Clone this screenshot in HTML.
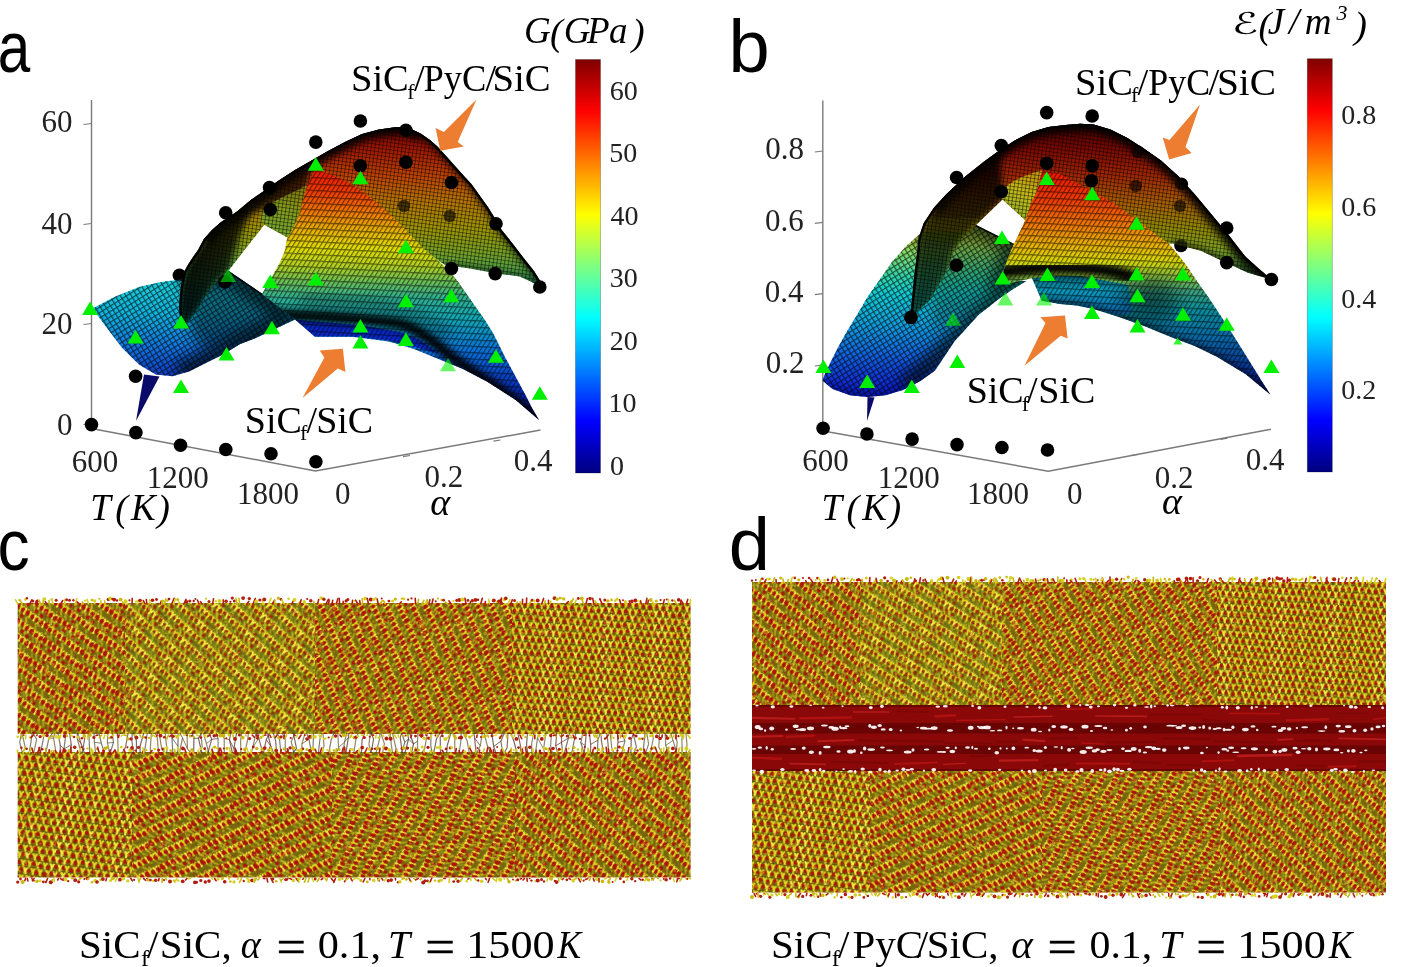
<!DOCTYPE html>
<html><head><meta charset="utf-8"><title>Figure</title>
<style>
html,body{margin:0;padding:0;background:#fff;}
body{width:1425px;height:967px;overflow:hidden;}
svg{display:block;}
.lab{font-family:"Liberation Sans",Arial,sans-serif;fill:#000;}
.num{font-family:"Liberation Serif","Times New Roman",serif;fill:#222;}
.txt{font-family:"Liberation Serif","Times New Roman",serif;fill:#000;}
.it{font-family:"Liberation Serif","Times New Roman",serif;font-style:italic;fill:#000;}
</style></head><body>
<svg width="1425" height="967" viewBox="0 0 1425 967">
<defs>
<pattern id="mesh" width="4.4" height="4.4" patternUnits="userSpaceOnUse"><path d="M0,0.5 H4.4 M0.5,0 V4.4" stroke="#000" stroke-opacity="0.45" stroke-width="1"/></pattern>
<pattern id="meshU" width="3.8" height="3.6" patternUnits="userSpaceOnUse" patternTransform="rotate(8)"><path d="M0,0.5 H3.8 M0.5,0 V3.6" stroke="#000" stroke-opacity="0.5" stroke-width="0.9"/></pattern>
<pattern id="meshL" width="4.6" height="6.2" patternUnits="userSpaceOnUse" patternTransform="skewX(-30) rotate(3)"><path d="M0,0.6 H4.6 M0.7,0 V6.2" stroke="#000" stroke-opacity="0.55" stroke-width="1.3"/></pattern>
<pattern id="meshW" width="4.6" height="4.6" patternUnits="userSpaceOnUse" patternTransform="rotate(-32)"><path d="M0,0.6 H4.6 M0.6,0 V4.6" stroke="#000" stroke-opacity="0.62" stroke-width="1.25"/></pattern>
<filter id="blur6" x="-20%" y="-20%" width="140%" height="140%"><feGaussianBlur stdDeviation="6"/></filter>
<filter id="blur3" x="-20%" y="-20%" width="140%" height="140%"><feGaussianBlur stdDeviation="3"/></filter>
<filter id="blur10" x="-20%" y="-20%" width="140%" height="140%"><feGaussianBlur stdDeviation="10"/></filter>
<linearGradient id="g_wing_a" gradientUnits="userSpaceOnUse" x1="0" y1="285" x2="0" y2="378"><stop offset="0" stop-color="#18d0e0"/><stop offset="0.3" stop-color="#10b8e0"/><stop offset="0.7" stop-color="#1070e0"/><stop offset="1" stop-color="#1038c0"/></linearGradient>
<clipPath id="cp_wing_a"><path d="M93.5,308.0 L113.7,297.2 L139.0,287.0 L160.8,282.0 L181.0,279.5 L205.0,274.0 L228.4,270.7 L262.5,294.0 L285.0,290.0 L305.0,300.0 L300.0,322.0 L295.0,319.5 L273.7,329.5 L256.8,337.6 L240.0,344.0 L223.0,354.4 L206.3,362.8 L189.5,371.3 L172.6,376.3 L155.8,374.6 L139.0,364.5 L122.0,347.7 L105.3,325.8 L93.5,310.0 Z"/></clipPath>
<linearGradient id="g_U_a" gradientUnits="userSpaceOnUse" x1="0" y1="125" x2="0" y2="330"><stop offset="0" stop-color="#700000"/><stop offset="0.12" stop-color="#a01800"/><stop offset="0.25" stop-color="#c04400"/><stop offset="0.37" stop-color="#b87400"/><stop offset="0.5" stop-color="#a09400"/><stop offset="0.62" stop-color="#78a024"/><stop offset="0.74" stop-color="#40a050"/><stop offset="0.86" stop-color="#108070"/><stop offset="1" stop-color="#005a5a"/></linearGradient>
<linearGradient id="g_band_a" gradientUnits="userSpaceOnUse" x1="190" y1="240" x2="240" y2="270"><stop offset="0" stop-color="#000" stop-opacity="0.95"/><stop offset="1" stop-color="#000" stop-opacity="0.68"/></linearGradient>
<linearGradient id="g_strip_a" gradientUnits="userSpaceOnUse" x1="290" y1="190" x2="270" y2="235"><stop offset="0" stop-color="#8a8a10"/><stop offset="0.4" stop-color="#80a020"/><stop offset="1" stop-color="#70a838"/></linearGradient>
<clipPath id="cp_U_a"><path d="M181.0,327.0 L179.4,312.0 L179.4,300.5 L181.0,285.0 L184.0,272.0 L187.8,265.0 L193.0,257.0 L198.0,250.0 L203.7,239.3 L212.0,230.0 L220.5,222.5 L237.4,211.2 L250.8,200.0 L264.0,191.0 L278.0,181.0 L295.0,170.0 L311.6,160.6 L328.0,151.0 L345.0,142.0 L362.0,134.0 L379.0,129.5 L395.0,127.3 L404.0,127.3 L412.0,129.5 L421.0,133.7 L430.0,140.0 L437.9,147.0 L446.0,156.0 L454.7,165.7 L463.0,175.0 L471.6,184.2 L480.0,196.0 L488.4,207.8 L495.0,218.5 L501.7,230.0 L511.7,242.4 L524.0,258.5 L534.0,271.0 L540.2,281.0 L540.2,286.0 L520.0,276.5 L494.5,273.0 L470.0,268.5 L453.0,266.0 L445.0,265.0 L420.1,248.2 L404.4,231.4 L393.3,220.2 L382.1,210.3 L369.7,199.1 L357.3,190.4 L343.6,181.8 L328.8,175.5 L314.8,173.0 L308.5,187.6 L300.0,218.0 L293.0,232.0 L289.3,238.6 L264.3,224.7 L228.4,270.7 L214.7,283.7 L205.0,297.0 L198.0,309.0 L190.0,320.0 L183.0,327.0 Z"/></clipPath>
<linearGradient id="g_Lf_a" gradientUnits="userSpaceOnUse" x1="0" y1="168" x2="0" y2="412"><stop offset="0" stop-color="#ee1400"/><stop offset="0.1" stop-color="#f03c00"/><stop offset="0.18" stop-color="#f07800"/><stop offset="0.255" stop-color="#e8b000"/><stop offset="0.33" stop-color="#e0dc00"/><stop offset="0.4" stop-color="#b4d020"/><stop offset="0.46" stop-color="#70c050"/><stop offset="0.53" stop-color="#30b090"/><stop offset="0.62" stop-color="#10a8b8"/><stop offset="0.75" stop-color="#0870d8"/><stop offset="0.88" stop-color="#0838c0"/><stop offset="1" stop-color="#001090"/></linearGradient>
<clipPath id="cp_Lf_a"><path d="M314.8,169.8 L331.0,174.7 L345.8,181.0 L359.5,189.6 L371.9,198.3 L384.3,209.5 L395.5,219.4 L406.6,230.6 L422.3,247.4 L437.2,259.8 L449.6,271.0 L458.3,282.1 L467.0,294.5 L475.7,306.9 L484.4,319.3 L493.0,333.0 L499.3,345.4 L505.3,357.8 L512.0,370.0 L519.0,383.0 L526.0,396.0 L532.0,408.0 L539.0,420.0 L515.8,400.0 L486.9,381.4 L463.0,369.0 L443.4,361.0 L414.0,349.0 L389.0,341.5 L352.0,336.8 L314.8,336.8 L295.0,319.5 L262.0,294.0 L270.0,280.0 L279.6,263.0 L284.6,251.6 L287.3,237.6 L291.0,232.0 L298.0,218.0 L306.5,187.6 Z"/></clipPath>
<linearGradient id="jet_a" gradientUnits="userSpaceOnUse" x1="0" y1="473" x2="0" y2="59.5"><stop offset="0" stop-color="#00007f"/><stop offset="0.125" stop-color="#0000ff"/><stop offset="0.375" stop-color="#00ffff"/><stop offset="0.625" stop-color="#ffff00"/><stop offset="0.875" stop-color="#ff0000"/><stop offset="1" stop-color="#7f0000"/></linearGradient>
<linearGradient id="g_wing_b" gradientUnits="userSpaceOnUse" x1="0" y1="235" x2="0" y2="398"><stop offset="0" stop-color="#c8e040"/><stop offset="0.12" stop-color="#80dc70"/><stop offset="0.26" stop-color="#30d8b0"/><stop offset="0.36" stop-color="#10d0d8"/><stop offset="0.55" stop-color="#10a0e0"/><stop offset="0.75" stop-color="#1060e0"/><stop offset="0.9" stop-color="#1030d8"/><stop offset="1" stop-color="#0818b0"/></linearGradient>
<clipPath id="cp_wing_b"><path d="M822.9,379.4 L825.5,372.4 L830.8,361.8 L837.8,347.8 L846.6,332.0 L857.2,314.4 L867.7,296.8 L880.0,279.2 L892.3,261.6 L906.4,245.8 L920.4,233.5 L945.0,230.0 L976.0,225.0 L1014.0,244.0 L1008.0,258.6 L1003.9,269.8 L1001.0,281.0 L1026.3,281.0 L1012.3,289.5 L998.2,299.3 L988.4,307.3 L978.6,314.7 L971.6,322.4 L954.7,341.0 L935.0,370.6 L920.4,381.1 L902.9,390.0 L885.3,395.2 L867.7,397.0 L850.1,395.2 L832.6,389.0 L822.9,381.1 Z"/></clipPath>
<linearGradient id="g_U_b" gradientUnits="userSpaceOnUse" x1="0" y1="123" x2="0" y2="320"><stop offset="0" stop-color="#400000"/><stop offset="0.13" stop-color="#7a0800"/><stop offset="0.26" stop-color="#a02400"/><stop offset="0.4" stop-color="#a85c00"/><stop offset="0.52" stop-color="#948400"/><stop offset="0.64" stop-color="#80a020"/><stop offset="0.78" stop-color="#40904a"/><stop offset="1" stop-color="#0a5a50"/></linearGradient>
<linearGradient id="g_band_b" gradientUnits="userSpaceOnUse" x1="0" y1="150" x2="0" y2="318"><stop offset="0" stop-color="#000" stop-opacity="0.85"/><stop offset="0.45" stop-color="#0a0a00" stop-opacity="0.72"/><stop offset="1" stop-color="#003838" stop-opacity="0.7"/></linearGradient>
<linearGradient id="g_strip_b" gradientUnits="userSpaceOnUse" x1="1030" y1="175" x2="1010" y2="215"><stop offset="0" stop-color="#c8a010"/><stop offset="0.4" stop-color="#c8c018"/><stop offset="1" stop-color="#98b828"/></linearGradient>
<clipPath id="cp_U_b"><path d="M910.0,318.0 L911.8,300.5 L914.3,275.3 L917.3,251.0 L918.5,238.4 L923.6,223.3 L933.7,208.1 L946.3,194.2 L965.3,176.5 L984.2,161.4 L1000.0,150.0 L1014.7,140.4 L1031.6,132.0 L1048.4,127.0 L1065.3,125.0 L1080.0,123.8 L1093.7,124.4 L1110.5,129.5 L1127.4,137.9 L1144.2,148.8 L1161.0,160.6 L1177.9,175.8 L1194.7,194.3 L1211.6,214.5 L1228.4,234.7 L1245.3,256.6 L1258.0,268.0 L1271.4,279.5 L1247.4,272.6 L1224.0,261.7 L1200.8,250.8 L1180.7,245.4 L1172.0,243.5 L1166.1,243.8 L1157.8,238.3 L1146.8,229.8 L1128.8,216.0 L1108.3,201.8 L1083.1,188.4 L1057.8,174.8 L1042.5,174.0 L1040.0,185.0 L1038.6,192.6 L1034.0,201.0 L1027.0,221.7 L1002.5,199.6 L976.0,225.0 L962.7,238.4 L953.9,251.0 L946.3,272.0 L929.5,300.5 L910.0,318.0 Z"/></clipPath>
<linearGradient id="g_Lf_b" gradientUnits="userSpaceOnUse" x1="0" y1="171" x2="0" y2="395"><stop offset="0" stop-color="#ee1400"/><stop offset="0.13" stop-color="#f03c00"/><stop offset="0.24" stop-color="#f07800"/><stop offset="0.33" stop-color="#e8b000"/><stop offset="0.4" stop-color="#d8d400"/><stop offset="0.47" stop-color="#90c840"/><stop offset="0.54" stop-color="#38a080"/><stop offset="0.62" stop-color="#088e9c"/><stop offset="0.76" stop-color="#0864a8"/><stop offset="0.9" stop-color="#082c90"/><stop offset="1" stop-color="#000a60"/></linearGradient>
<linearGradient id="g_tun_b" gradientUnits="userSpaceOnUse" x1="0" y1="275" x2="0" y2="312"><stop offset="0" stop-color="#006070"/><stop offset="0.4" stop-color="#0898b8"/><stop offset="1" stop-color="#0a70b8"/></linearGradient>
<clipPath id="cp_Lf_b"><path d="M1042.0,171.0 L1060.0,174.0 L1085.3,187.6 L1110.5,201.0 L1131.0,215.2 L1149.0,229.0 L1160.0,237.5 L1168.3,243.0 L1180.0,257.0 L1187.0,266.3 L1197.0,281.0 L1208.6,297.4 L1228.4,327.5 L1245.3,354.4 L1262.0,381.4 L1270.5,394.8 L1245.8,374.2 L1216.9,356.8 L1194.7,346.0 L1173.4,338.0 L1144.2,326.0 L1119.0,317.0 L1093.7,309.0 L1076.8,305.6 L1060.0,303.9 L1041.8,300.7 L1032.0,278.2 L1006.7,283.9 L1001.0,281.0 L1003.9,269.8 L1008.0,258.6 L1014.0,244.0 L1016.5,239.0 L1025.0,220.7 L1032.0,201.0 L1036.6,192.6 Z"/></clipPath>
<linearGradient id="jet_b" gradientUnits="userSpaceOnUse" x1="0" y1="472" x2="0" y2="58.7"><stop offset="0" stop-color="#00007f"/><stop offset="0.125" stop-color="#0000ff"/><stop offset="0.375" stop-color="#00ffff"/><stop offset="0.625" stop-color="#ffff00"/><stop offset="0.875" stop-color="#ff0000"/><stop offset="1" stop-color="#7f0000"/></linearGradient>
<pattern id="tS" width="44.80" height="25.00" patternUnits="userSpaceOnUse" patternTransform="translate(0,0) rotate(0) scale(1.0,1)"><rect width="44.80" height="25.00" fill="#7a6c10"/><rect y="11.25" width="44.80" height="2.25" fill="#786408"/><rect y="23.75" width="44.80" height="2.25" fill="#786408"/><line x1="-0.0" y1="-2.2" x2="2.8" y2="1.0" stroke="#b8b01c" stroke-width="2.1" stroke-linecap="round"/><circle cx="4.2" cy="-0.3" r="1.8" fill="#a81808"/><line x1="-1.1" y1="3.6" x2="-2.7" y2="6.5" stroke="#f4ee40" stroke-width="2.1" stroke-linecap="round"/><line x1="-2.7" y1="6.5" x2="-3.0" y2="9.1" stroke="#f4ee40" stroke-width="2.1" stroke-linecap="round"/><line x1="-3.6" y1="16.1" x2="-5.2" y2="18.9" stroke="#e0d820" stroke-width="2.1" stroke-linecap="round"/><circle cx="-2.7" cy="19.4" r="2.5" fill="#a81808"/><line x1="-1.2" y1="16.1" x2="0.4" y2="18.9" stroke="#f4ee40" stroke-width="2.1" stroke-linecap="round"/><line x1="2.0" y1="16.1" x2="0.4" y2="18.9" stroke="#f4ee40" stroke-width="2.1" stroke-linecap="round"/><line x1="0.4" y1="18.9" x2="0.2" y2="21.6" stroke="#f4ee40" stroke-width="2.1" stroke-linecap="round"/><line x1="-0.0" y1="22.8" x2="2.8" y2="26.0" stroke="#b8b01c" stroke-width="2.1" stroke-linecap="round"/><circle cx="4.2" cy="24.7" r="1.8" fill="#a81808"/><line x1="-1.1" y1="28.6" x2="-2.7" y2="31.4" stroke="#f4ee40" stroke-width="2.1" stroke-linecap="round"/><line x1="3.5" y1="-1.9" x2="6.3" y2="1.3" stroke="#a8a018" stroke-width="2.1" stroke-linecap="round"/><circle cx="7.7" cy="0.0" r="1.8" fill="#a81808"/><line x1="12.5" y1="-2.2" x2="15.3" y2="1.0" stroke="#969014" stroke-width="2.1" stroke-linecap="round"/><circle cx="16.7" cy="-1.0" r="2.2" fill="#a81808"/><line x1="20.1" y1="-2.2" x2="22.9" y2="1.0" stroke="#969014" stroke-width="2.1" stroke-linecap="round"/><line x1="23.9" y1="-2.2" x2="26.7" y2="1.0" stroke="#b8b01c" stroke-width="2.1" stroke-linecap="round"/><circle cx="28.1" cy="-0.3" r="2.1" fill="#a81808"/><line x1="30.7" y1="-1.2" x2="33.5" y2="2.0" stroke="#969014" stroke-width="2.1" stroke-linecap="round"/><circle cx="34.9" cy="1.1" r="2.1" fill="#a81808"/><line x1="40.3" y1="-1.3" x2="43.1" y2="1.9" stroke="#969014" stroke-width="2.1" stroke-linecap="round"/><line x1="44.8" y1="-2.2" x2="47.6" y2="1.0" stroke="#b8b01c" stroke-width="2.1" stroke-linecap="round"/><circle cx="0.1" cy="5.6" r="3.2" fill="#a81808"/><line x1="1.6" y1="3.6" x2="3.2" y2="6.5" stroke="#e0d820" stroke-width="2.1" stroke-linecap="round"/><line x1="4.8" y1="3.6" x2="3.2" y2="6.5" stroke="#e0d820" stroke-width="2.1" stroke-linecap="round"/><line x1="3.2" y1="6.5" x2="2.7" y2="9.1" stroke="#e0d820" stroke-width="2.1" stroke-linecap="round"/><line x1="3.7" y1="11.1" x2="6.5" y2="14.3" stroke="#969014" stroke-width="2.1" stroke-linecap="round"/><circle cx="5.3" cy="7.2" r="2.5" fill="#a81808"/><line x1="6.5" y1="3.6" x2="8.1" y2="6.5" stroke="#e0d820" stroke-width="2.1" stroke-linecap="round"/><line x1="9.7" y1="3.6" x2="8.1" y2="6.5" stroke="#e0d820" stroke-width="2.1" stroke-linecap="round"/><line x1="8.1" y1="6.5" x2="8.0" y2="9.1" stroke="#e0d820" stroke-width="2.1" stroke-linecap="round"/><line x1="8.6" y1="10.4" x2="11.4" y2="13.6" stroke="#a8a018" stroke-width="2.1" stroke-linecap="round"/><circle cx="11.1" cy="5.7" r="2.8" fill="#a81808"/><line x1="12.2" y1="3.6" x2="13.8" y2="6.5" stroke="#e0d820" stroke-width="2.1" stroke-linecap="round"/><line x1="15.4" y1="3.6" x2="13.8" y2="6.5" stroke="#e0d820" stroke-width="2.1" stroke-linecap="round"/><line x1="13.8" y1="6.5" x2="14.0" y2="9.1" stroke="#e0d820" stroke-width="2.1" stroke-linecap="round"/><line x1="14.6" y1="10.6" x2="17.4" y2="13.8" stroke="#969014" stroke-width="2.1" stroke-linecap="round"/><circle cx="18.8" cy="12.0" r="1.9" fill="#a81808"/><circle cx="16.7" cy="6.6" r="2.5" fill="#a81808"/><line x1="18.0" y1="3.6" x2="19.6" y2="6.5" stroke="#f4ee40" stroke-width="2.1" stroke-linecap="round"/><line x1="21.2" y1="3.6" x2="19.6" y2="6.5" stroke="#f4ee40" stroke-width="2.1" stroke-linecap="round"/><line x1="19.6" y1="6.5" x2="19.1" y2="9.1" stroke="#f4ee40" stroke-width="2.1" stroke-linecap="round"/><circle cx="22.2" cy="6.0" r="2.7" fill="#a81808"/><line x1="23.9" y1="3.6" x2="25.5" y2="6.5" stroke="#e0d820" stroke-width="2.1" stroke-linecap="round"/><line x1="27.1" y1="3.6" x2="25.5" y2="6.5" stroke="#e0d820" stroke-width="2.1" stroke-linecap="round"/><line x1="25.5" y1="6.5" x2="25.4" y2="9.1" stroke="#e0d820" stroke-width="2.1" stroke-linecap="round"/><line x1="23.3" y1="11.3" x2="26.1" y2="14.5" stroke="#b8b01c" stroke-width="2.1" stroke-linecap="round"/><circle cx="28.5" cy="6.4" r="2.6" fill="#a81808"/><line x1="29.5" y1="3.6" x2="31.1" y2="6.5" stroke="#f4ee40" stroke-width="2.1" stroke-linecap="round"/><line x1="32.7" y1="3.6" x2="31.1" y2="6.5" stroke="#f4ee40" stroke-width="2.1" stroke-linecap="round"/><line x1="31.1" y1="6.5" x2="30.9" y2="9.1" stroke="#f4ee40" stroke-width="2.1" stroke-linecap="round"/><circle cx="33.8" cy="6.6" r="2.5" fill="#a81808"/><line x1="34.4" y1="3.6" x2="36.0" y2="6.5" stroke="#e0d820" stroke-width="2.1" stroke-linecap="round"/><line x1="37.6" y1="3.6" x2="36.0" y2="6.5" stroke="#e0d820" stroke-width="2.1" stroke-linecap="round"/><line x1="36.0" y1="6.5" x2="36.1" y2="9.1" stroke="#e0d820" stroke-width="2.1" stroke-linecap="round"/><line x1="34.7" y1="11.2" x2="37.5" y2="14.4" stroke="#a8a018" stroke-width="2.1" stroke-linecap="round"/><circle cx="39.3" cy="6.5" r="2.8" fill="#a81808"/><line x1="40.5" y1="3.6" x2="42.1" y2="6.5" stroke="#f4ee40" stroke-width="2.1" stroke-linecap="round"/><line x1="43.7" y1="3.6" x2="42.1" y2="6.5" stroke="#f4ee40" stroke-width="2.1" stroke-linecap="round"/><line x1="42.1" y1="6.5" x2="41.8" y2="9.1" stroke="#f4ee40" stroke-width="2.1" stroke-linecap="round"/><circle cx="3.1" cy="19.5" r="2.8" fill="#a81808"/><line x1="4.4" y1="16.1" x2="6.0" y2="18.9" stroke="#e0d820" stroke-width="2.1" stroke-linecap="round"/><line x1="7.6" y1="16.1" x2="6.0" y2="18.9" stroke="#e0d820" stroke-width="2.1" stroke-linecap="round"/><line x1="6.0" y1="18.9" x2="5.5" y2="21.6" stroke="#e0d820" stroke-width="2.1" stroke-linecap="round"/><line x1="3.5" y1="23.1" x2="6.3" y2="26.3" stroke="#a8a018" stroke-width="2.1" stroke-linecap="round"/><circle cx="7.7" cy="25.0" r="1.8" fill="#a81808"/><circle cx="7.9" cy="18.3" r="3.1" fill="#a81808"/><line x1="9.2" y1="16.1" x2="10.8" y2="18.9" stroke="#e0d820" stroke-width="2.1" stroke-linecap="round"/><line x1="12.4" y1="16.1" x2="10.8" y2="18.9" stroke="#e0d820" stroke-width="2.1" stroke-linecap="round"/><line x1="10.8" y1="18.9" x2="10.5" y2="21.6" stroke="#e0d820" stroke-width="2.1" stroke-linecap="round"/><line x1="12.5" y1="22.8" x2="15.3" y2="26.0" stroke="#969014" stroke-width="2.1" stroke-linecap="round"/><circle cx="16.7" cy="24.0" r="2.2" fill="#a81808"/><circle cx="13.6" cy="17.8" r="2.8" fill="#a81808"/><line x1="15.3" y1="16.1" x2="16.9" y2="18.9" stroke="#f4ee40" stroke-width="2.1" stroke-linecap="round"/><line x1="18.5" y1="16.1" x2="16.9" y2="18.9" stroke="#f4ee40" stroke-width="2.1" stroke-linecap="round"/><line x1="16.9" y1="18.9" x2="17.0" y2="21.6" stroke="#f4ee40" stroke-width="2.1" stroke-linecap="round"/><circle cx="19.3" cy="18.3" r="3.0" fill="#a81808"/><line x1="20.9" y1="16.1" x2="22.5" y2="18.9" stroke="#f4ee40" stroke-width="2.1" stroke-linecap="round"/><line x1="24.1" y1="16.1" x2="22.5" y2="18.9" stroke="#f4ee40" stroke-width="2.1" stroke-linecap="round"/><line x1="22.5" y1="18.9" x2="22.2" y2="21.6" stroke="#f4ee40" stroke-width="2.1" stroke-linecap="round"/><line x1="20.1" y1="22.8" x2="22.9" y2="26.0" stroke="#969014" stroke-width="2.1" stroke-linecap="round"/><circle cx="25.1" cy="17.9" r="2.7" fill="#a81808"/><line x1="26.0" y1="16.1" x2="27.6" y2="18.9" stroke="#e0d820" stroke-width="2.1" stroke-linecap="round"/><line x1="29.2" y1="16.1" x2="27.6" y2="18.9" stroke="#e0d820" stroke-width="2.1" stroke-linecap="round"/><line x1="27.6" y1="18.9" x2="27.8" y2="21.6" stroke="#e0d820" stroke-width="2.1" stroke-linecap="round"/><line x1="23.9" y1="22.8" x2="26.7" y2="26.0" stroke="#b8b01c" stroke-width="2.1" stroke-linecap="round"/><circle cx="28.1" cy="24.7" r="2.1" fill="#a81808"/><circle cx="30.8" cy="19.0" r="2.6" fill="#a81808"/><line x1="32.0" y1="16.1" x2="33.6" y2="18.9" stroke="#f4ee40" stroke-width="2.1" stroke-linecap="round"/><line x1="35.2" y1="16.1" x2="33.6" y2="18.9" stroke="#f4ee40" stroke-width="2.1" stroke-linecap="round"/><line x1="33.6" y1="18.9" x2="33.3" y2="21.6" stroke="#f4ee40" stroke-width="2.1" stroke-linecap="round"/><line x1="30.7" y1="23.8" x2="33.5" y2="27.0" stroke="#969014" stroke-width="2.1" stroke-linecap="round"/><circle cx="34.9" cy="26.1" r="2.1" fill="#a81808"/><circle cx="36.1" cy="18.9" r="2.7" fill="#a81808"/><line x1="38.0" y1="16.1" x2="39.6" y2="18.9" stroke="#e0d820" stroke-width="2.1" stroke-linecap="round"/><line x1="41.2" y1="16.1" x2="39.6" y2="18.9" stroke="#e0d820" stroke-width="2.1" stroke-linecap="round"/><line x1="39.6" y1="18.9" x2="39.8" y2="21.6" stroke="#e0d820" stroke-width="2.1" stroke-linecap="round"/><line x1="40.3" y1="23.7" x2="43.1" y2="26.9" stroke="#969014" stroke-width="2.1" stroke-linecap="round"/><circle cx="42.1" cy="19.4" r="2.5" fill="#a81808"/><line x1="43.6" y1="16.1" x2="45.2" y2="18.9" stroke="#f4ee40" stroke-width="2.1" stroke-linecap="round"/><line x1="46.8" y1="16.1" x2="45.2" y2="18.9" stroke="#f4ee40" stroke-width="2.1" stroke-linecap="round"/><line x1="45.2" y1="18.9" x2="45.0" y2="21.6" stroke="#f4ee40" stroke-width="2.1" stroke-linecap="round"/><line x1="44.8" y1="22.8" x2="47.6" y2="26.0" stroke="#b8b01c" stroke-width="2.1" stroke-linecap="round"/><line x1="1.6" y1="28.6" x2="3.2" y2="31.4" stroke="#e0d820" stroke-width="2.1" stroke-linecap="round"/><line x1="4.8" y1="28.6" x2="3.2" y2="31.4" stroke="#e0d820" stroke-width="2.1" stroke-linecap="round"/><line x1="6.5" y1="28.6" x2="8.1" y2="31.4" stroke="#e0d820" stroke-width="2.1" stroke-linecap="round"/><line x1="9.7" y1="28.6" x2="8.1" y2="31.4" stroke="#e0d820" stroke-width="2.1" stroke-linecap="round"/><line x1="12.2" y1="28.6" x2="13.8" y2="31.4" stroke="#e0d820" stroke-width="2.1" stroke-linecap="round"/><line x1="15.4" y1="28.6" x2="13.8" y2="31.4" stroke="#e0d820" stroke-width="2.1" stroke-linecap="round"/><line x1="18.0" y1="28.6" x2="19.6" y2="31.4" stroke="#f4ee40" stroke-width="2.1" stroke-linecap="round"/><line x1="21.2" y1="28.6" x2="19.6" y2="31.4" stroke="#f4ee40" stroke-width="2.1" stroke-linecap="round"/><line x1="23.9" y1="28.6" x2="25.5" y2="31.4" stroke="#e0d820" stroke-width="2.1" stroke-linecap="round"/><line x1="27.1" y1="28.6" x2="25.5" y2="31.4" stroke="#e0d820" stroke-width="2.1" stroke-linecap="round"/><line x1="29.5" y1="28.6" x2="31.1" y2="31.4" stroke="#f4ee40" stroke-width="2.1" stroke-linecap="round"/><line x1="32.7" y1="28.6" x2="31.1" y2="31.4" stroke="#f4ee40" stroke-width="2.1" stroke-linecap="round"/><line x1="34.4" y1="28.6" x2="36.0" y2="31.4" stroke="#e0d820" stroke-width="2.1" stroke-linecap="round"/><line x1="37.6" y1="28.6" x2="36.0" y2="31.4" stroke="#e0d820" stroke-width="2.1" stroke-linecap="round"/><line x1="40.5" y1="28.6" x2="42.1" y2="31.4" stroke="#f4ee40" stroke-width="2.1" stroke-linecap="round"/><line x1="43.7" y1="28.6" x2="42.1" y2="31.4" stroke="#f4ee40" stroke-width="2.1" stroke-linecap="round"/><line x1="48.3" y1="-1.9" x2="51.1" y2="1.3" stroke="#a8a018" stroke-width="2.1" stroke-linecap="round"/><circle cx="44.9" cy="5.6" r="3.2" fill="#a81808"/><line x1="46.4" y1="3.6" x2="48.0" y2="6.5" stroke="#e0d820" stroke-width="2.1" stroke-linecap="round"/><line x1="48.0" y1="6.5" x2="47.5" y2="9.1" stroke="#e0d820" stroke-width="2.1" stroke-linecap="round"/><line x1="48.5" y1="11.1" x2="51.3" y2="14.3" stroke="#969014" stroke-width="2.1" stroke-linecap="round"/><circle cx="47.9" cy="19.5" r="2.8" fill="#a81808"/><line x1="48.3" y1="23.1" x2="51.1" y2="26.3" stroke="#a8a018" stroke-width="2.1" stroke-linecap="round"/><line x1="46.4" y1="28.6" x2="48.0" y2="31.4" stroke="#e0d820" stroke-width="2.1" stroke-linecap="round"/></pattern>
<pattern id="tS2" width="44.80" height="25.00" patternUnits="userSpaceOnUse" patternTransform="translate(0,0) rotate(0) scale(1.0,1)"><rect width="44.80" height="25.00" fill="#7c7a14"/><rect y="11.25" width="44.80" height="2.25" fill="#6a6a10"/><rect y="23.75" width="44.80" height="2.25" fill="#6a6a10"/><circle cx="-1.5" cy="0.1" r="1.8" fill="#983008"/><line x1="-0.3" y1="-1.3" x2="2.5" y2="1.9" stroke="#969014" stroke-width="2.1" stroke-linecap="round"/><circle cx="3.9" cy="-0.3" r="2.2" fill="#983008"/><line x1="-3.9" y1="3.6" x2="-2.3" y2="6.5" stroke="#e0d820" stroke-width="2.1" stroke-linecap="round"/><line x1="-0.7" y1="3.6" x2="-2.3" y2="6.5" stroke="#e0d820" stroke-width="2.1" stroke-linecap="round"/><line x1="-2.3" y1="6.5" x2="-1.8" y2="9.1" stroke="#e0d820" stroke-width="2.1" stroke-linecap="round"/><line x1="-3.9" y1="11.5" x2="-1.1" y2="14.7" stroke="#b8b01c" stroke-width="2.1" stroke-linecap="round"/><circle cx="0.3" cy="12.5" r="1.6" fill="#983008"/><line x1="-3.7" y1="16.1" x2="-5.3" y2="18.9" stroke="#e0d820" stroke-width="2.1" stroke-linecap="round"/><circle cx="-1.5" cy="25.1" r="1.8" fill="#983008"/><circle cx="-3.1" cy="19.6" r="2.3" fill="#983008"/><line x1="-1.8" y1="16.1" x2="-0.2" y2="18.9" stroke="#e0d820" stroke-width="2.1" stroke-linecap="round"/><line x1="1.4" y1="16.1" x2="-0.2" y2="18.9" stroke="#e0d820" stroke-width="2.1" stroke-linecap="round"/><line x1="-0.2" y1="18.9" x2="0.3" y2="21.6" stroke="#e0d820" stroke-width="2.1" stroke-linecap="round"/><line x1="-0.3" y1="23.7" x2="2.5" y2="26.9" stroke="#969014" stroke-width="2.1" stroke-linecap="round"/><circle cx="3.9" cy="24.7" r="2.2" fill="#983008"/><line x1="-3.9" y1="28.6" x2="-2.3" y2="31.4" stroke="#e0d820" stroke-width="2.1" stroke-linecap="round"/><line x1="-0.7" y1="28.6" x2="-2.3" y2="31.4" stroke="#e0d820" stroke-width="2.1" stroke-linecap="round"/><line x1="5.9" y1="-2.1" x2="8.7" y2="1.1" stroke="#b8b01c" stroke-width="2.1" stroke-linecap="round"/><circle cx="10.1" cy="-1.2" r="2.0" fill="#983008"/><line x1="12.4" y1="-1.7" x2="15.2" y2="1.5" stroke="#b8b01c" stroke-width="2.1" stroke-linecap="round"/><circle cx="16.6" cy="-0.3" r="1.7" fill="#983008"/><line x1="13.9" y1="-1.4" x2="16.7" y2="1.8" stroke="#b8b01c" stroke-width="2.1" stroke-linecap="round"/><circle cx="18.1" cy="-0.5" r="2.2" fill="#983008"/><line x1="21.4" y1="-1.0" x2="24.2" y2="2.2" stroke="#969014" stroke-width="2.1" stroke-linecap="round"/><line x1="26.9" y1="-1.8" x2="29.7" y2="1.4" stroke="#969014" stroke-width="2.1" stroke-linecap="round"/><line x1="33.9" y1="-1.0" x2="36.7" y2="2.2" stroke="#969014" stroke-width="2.1" stroke-linecap="round"/><line x1="39.1" y1="-0.8" x2="41.9" y2="2.4" stroke="#b8b01c" stroke-width="2.1" stroke-linecap="round"/><circle cx="43.3" cy="0.1" r="1.8" fill="#983008"/><line x1="44.5" y1="-1.3" x2="47.3" y2="1.9" stroke="#969014" stroke-width="2.1" stroke-linecap="round"/><circle cx="48.7" cy="-0.3" r="2.2" fill="#983008"/><circle cx="0.3" cy="6.5" r="2.0" fill="#983008"/><line x1="0.9" y1="3.6" x2="2.5" y2="6.5" stroke="#f4ee40" stroke-width="2.1" stroke-linecap="round"/><line x1="4.1" y1="3.6" x2="2.5" y2="6.5" stroke="#f4ee40" stroke-width="2.1" stroke-linecap="round"/><line x1="2.5" y1="6.5" x2="2.4" y2="9.1" stroke="#f4ee40" stroke-width="2.1" stroke-linecap="round"/><line x1="1.1" y1="10.8" x2="3.9" y2="14.0" stroke="#b8b01c" stroke-width="2.1" stroke-linecap="round"/><circle cx="5.3" cy="12.0" r="2.0" fill="#983008"/><circle cx="5.9" cy="6.5" r="1.9" fill="#983008"/><line x1="6.7" y1="3.6" x2="8.3" y2="6.5" stroke="#e0d820" stroke-width="2.1" stroke-linecap="round"/><line x1="9.9" y1="3.6" x2="8.3" y2="6.5" stroke="#e0d820" stroke-width="2.1" stroke-linecap="round"/><line x1="8.3" y1="6.5" x2="7.9" y2="9.1" stroke="#e0d820" stroke-width="2.1" stroke-linecap="round"/><line x1="8.2" y1="11.2" x2="11.0" y2="14.4" stroke="#a8a018" stroke-width="2.1" stroke-linecap="round"/><circle cx="12.4" cy="13.2" r="1.9" fill="#983008"/><circle cx="11.6" cy="6.2" r="2.4" fill="#983008"/><line x1="12.8" y1="3.6" x2="14.4" y2="6.5" stroke="#e0d820" stroke-width="2.1" stroke-linecap="round"/><line x1="16.0" y1="3.6" x2="14.4" y2="6.5" stroke="#e0d820" stroke-width="2.1" stroke-linecap="round"/><line x1="14.4" y1="6.5" x2="14.9" y2="9.1" stroke="#e0d820" stroke-width="2.1" stroke-linecap="round"/><circle cx="16.2" cy="5.8" r="1.9" fill="#983008"/><line x1="18.4" y1="3.6" x2="20.0" y2="6.5" stroke="#e0d820" stroke-width="2.1" stroke-linecap="round"/><line x1="21.6" y1="3.6" x2="20.0" y2="6.5" stroke="#e0d820" stroke-width="2.1" stroke-linecap="round"/><line x1="20.0" y1="6.5" x2="19.8" y2="9.1" stroke="#e0d820" stroke-width="2.1" stroke-linecap="round"/><circle cx="22.6" cy="6.6" r="2.1" fill="#983008"/><line x1="23.3" y1="3.6" x2="24.9" y2="6.5" stroke="#f4ee40" stroke-width="2.1" stroke-linecap="round"/><line x1="26.5" y1="3.6" x2="24.9" y2="6.5" stroke="#f4ee40" stroke-width="2.1" stroke-linecap="round"/><line x1="24.9" y1="6.5" x2="24.8" y2="9.1" stroke="#f4ee40" stroke-width="2.1" stroke-linecap="round"/><line x1="23.6" y1="10.6" x2="26.4" y2="13.8" stroke="#a8a018" stroke-width="2.1" stroke-linecap="round"/><circle cx="28.3" cy="6.5" r="2.3" fill="#983008"/><line x1="29.1" y1="3.6" x2="30.7" y2="6.5" stroke="#f4ee40" stroke-width="2.1" stroke-linecap="round"/><line x1="32.3" y1="3.6" x2="30.7" y2="6.5" stroke="#f4ee40" stroke-width="2.1" stroke-linecap="round"/><line x1="30.7" y1="6.5" x2="30.5" y2="9.1" stroke="#f4ee40" stroke-width="2.1" stroke-linecap="round"/><line x1="31.5" y1="10.5" x2="34.3" y2="13.7" stroke="#969014" stroke-width="2.1" stroke-linecap="round"/><circle cx="35.7" cy="11.6" r="1.8" fill="#983008"/><circle cx="33.1" cy="6.6" r="2.1" fill="#983008"/><line x1="34.9" y1="3.6" x2="36.5" y2="6.5" stroke="#e0d820" stroke-width="2.1" stroke-linecap="round"/><line x1="38.1" y1="3.6" x2="36.5" y2="6.5" stroke="#e0d820" stroke-width="2.1" stroke-linecap="round"/><line x1="36.5" y1="6.5" x2="36.0" y2="9.1" stroke="#e0d820" stroke-width="2.1" stroke-linecap="round"/><circle cx="38.8" cy="7.0" r="2.2" fill="#983008"/><line x1="40.9" y1="3.6" x2="42.5" y2="6.5" stroke="#e0d820" stroke-width="2.1" stroke-linecap="round"/><line x1="44.1" y1="3.6" x2="42.5" y2="6.5" stroke="#e0d820" stroke-width="2.1" stroke-linecap="round"/><line x1="42.5" y1="6.5" x2="43.0" y2="9.1" stroke="#e0d820" stroke-width="2.1" stroke-linecap="round"/><line x1="40.9" y1="11.5" x2="43.7" y2="14.7" stroke="#b8b01c" stroke-width="2.1" stroke-linecap="round"/><circle cx="45.1" cy="12.5" r="1.6" fill="#983008"/><circle cx="2.2" cy="18.4" r="2.2" fill="#983008"/><line x1="4.0" y1="16.1" x2="5.6" y2="18.9" stroke="#f4ee40" stroke-width="2.1" stroke-linecap="round"/><line x1="7.2" y1="16.1" x2="5.6" y2="18.9" stroke="#f4ee40" stroke-width="2.1" stroke-linecap="round"/><line x1="5.6" y1="18.9" x2="5.1" y2="21.6" stroke="#f4ee40" stroke-width="2.1" stroke-linecap="round"/><line x1="5.9" y1="22.9" x2="8.7" y2="26.1" stroke="#b8b01c" stroke-width="2.1" stroke-linecap="round"/><circle cx="10.1" cy="23.8" r="2.0" fill="#983008"/><circle cx="9.0" cy="18.7" r="1.8" fill="#983008"/><line x1="9.3" y1="16.1" x2="10.9" y2="18.9" stroke="#f4ee40" stroke-width="2.1" stroke-linecap="round"/><line x1="12.5" y1="16.1" x2="10.9" y2="18.9" stroke="#f4ee40" stroke-width="2.1" stroke-linecap="round"/><line x1="10.9" y1="18.9" x2="11.1" y2="21.6" stroke="#f4ee40" stroke-width="2.1" stroke-linecap="round"/><line x1="12.4" y1="23.3" x2="15.2" y2="26.5" stroke="#b8b01c" stroke-width="2.1" stroke-linecap="round"/><circle cx="16.6" cy="24.7" r="1.7" fill="#983008"/><circle cx="14.2" cy="19.4" r="2.4" fill="#983008"/><line x1="15.6" y1="16.1" x2="17.2" y2="18.9" stroke="#e0d820" stroke-width="2.1" stroke-linecap="round"/><line x1="18.8" y1="16.1" x2="17.2" y2="18.9" stroke="#e0d820" stroke-width="2.1" stroke-linecap="round"/><line x1="17.2" y1="18.9" x2="16.7" y2="21.6" stroke="#e0d820" stroke-width="2.1" stroke-linecap="round"/><line x1="13.9" y1="23.6" x2="16.7" y2="26.8" stroke="#b8b01c" stroke-width="2.1" stroke-linecap="round"/><circle cx="18.1" cy="24.5" r="2.2" fill="#983008"/><circle cx="19.1" cy="18.4" r="2.2" fill="#983008"/><line x1="21.3" y1="16.1" x2="22.9" y2="18.9" stroke="#f4ee40" stroke-width="2.1" stroke-linecap="round"/><line x1="24.5" y1="16.1" x2="22.9" y2="18.9" stroke="#f4ee40" stroke-width="2.1" stroke-linecap="round"/><line x1="22.9" y1="18.9" x2="22.9" y2="21.6" stroke="#f4ee40" stroke-width="2.1" stroke-linecap="round"/><line x1="21.4" y1="24.0" x2="24.2" y2="27.2" stroke="#969014" stroke-width="2.1" stroke-linecap="round"/><circle cx="25.0" cy="18.2" r="1.9" fill="#983008"/><line x1="26.5" y1="16.1" x2="28.1" y2="18.9" stroke="#f4ee40" stroke-width="2.1" stroke-linecap="round"/><line x1="29.7" y1="16.1" x2="28.1" y2="18.9" stroke="#f4ee40" stroke-width="2.1" stroke-linecap="round"/><line x1="28.1" y1="18.9" x2="28.4" y2="21.6" stroke="#f4ee40" stroke-width="2.1" stroke-linecap="round"/><line x1="26.9" y1="23.2" x2="29.7" y2="26.4" stroke="#969014" stroke-width="2.1" stroke-linecap="round"/><circle cx="30.5" cy="19.6" r="2.2" fill="#983008"/><line x1="32.0" y1="16.1" x2="33.6" y2="18.9" stroke="#e0d820" stroke-width="2.1" stroke-linecap="round"/><line x1="35.2" y1="16.1" x2="33.6" y2="18.9" stroke="#e0d820" stroke-width="2.1" stroke-linecap="round"/><line x1="33.6" y1="18.9" x2="34.2" y2="21.6" stroke="#e0d820" stroke-width="2.1" stroke-linecap="round"/><line x1="33.9" y1="24.0" x2="36.7" y2="27.2" stroke="#969014" stroke-width="2.1" stroke-linecap="round"/><circle cx="36.5" cy="18.0" r="2.4" fill="#983008"/><line x1="37.9" y1="16.1" x2="39.5" y2="18.9" stroke="#e0d820" stroke-width="2.1" stroke-linecap="round"/><line x1="41.1" y1="16.1" x2="39.5" y2="18.9" stroke="#e0d820" stroke-width="2.1" stroke-linecap="round"/><line x1="39.5" y1="18.9" x2="39.8" y2="21.6" stroke="#e0d820" stroke-width="2.1" stroke-linecap="round"/><line x1="39.1" y1="24.2" x2="41.9" y2="27.4" stroke="#b8b01c" stroke-width="2.1" stroke-linecap="round"/><circle cx="43.3" cy="25.1" r="1.8" fill="#983008"/><circle cx="41.7" cy="19.6" r="2.3" fill="#983008"/><line x1="43.0" y1="16.1" x2="44.6" y2="18.9" stroke="#e0d820" stroke-width="2.1" stroke-linecap="round"/><line x1="46.2" y1="16.1" x2="44.6" y2="18.9" stroke="#e0d820" stroke-width="2.1" stroke-linecap="round"/><line x1="44.6" y1="18.9" x2="45.1" y2="21.6" stroke="#e0d820" stroke-width="2.1" stroke-linecap="round"/><line x1="44.5" y1="23.7" x2="47.3" y2="26.9" stroke="#969014" stroke-width="2.1" stroke-linecap="round"/><circle cx="48.7" cy="24.7" r="2.2" fill="#983008"/><line x1="0.9" y1="28.6" x2="2.5" y2="31.4" stroke="#f4ee40" stroke-width="2.1" stroke-linecap="round"/><line x1="4.1" y1="28.6" x2="2.5" y2="31.4" stroke="#f4ee40" stroke-width="2.1" stroke-linecap="round"/><line x1="6.7" y1="28.6" x2="8.3" y2="31.4" stroke="#e0d820" stroke-width="2.1" stroke-linecap="round"/><line x1="9.9" y1="28.6" x2="8.3" y2="31.4" stroke="#e0d820" stroke-width="2.1" stroke-linecap="round"/><line x1="12.8" y1="28.6" x2="14.4" y2="31.4" stroke="#e0d820" stroke-width="2.1" stroke-linecap="round"/><line x1="16.0" y1="28.6" x2="14.4" y2="31.4" stroke="#e0d820" stroke-width="2.1" stroke-linecap="round"/><line x1="18.4" y1="28.6" x2="20.0" y2="31.4" stroke="#e0d820" stroke-width="2.1" stroke-linecap="round"/><line x1="21.6" y1="28.6" x2="20.0" y2="31.4" stroke="#e0d820" stroke-width="2.1" stroke-linecap="round"/><line x1="23.3" y1="28.6" x2="24.9" y2="31.4" stroke="#f4ee40" stroke-width="2.1" stroke-linecap="round"/><line x1="26.5" y1="28.6" x2="24.9" y2="31.4" stroke="#f4ee40" stroke-width="2.1" stroke-linecap="round"/><line x1="29.1" y1="28.6" x2="30.7" y2="31.4" stroke="#f4ee40" stroke-width="2.1" stroke-linecap="round"/><line x1="32.3" y1="28.6" x2="30.7" y2="31.4" stroke="#f4ee40" stroke-width="2.1" stroke-linecap="round"/><line x1="34.9" y1="28.6" x2="36.5" y2="31.4" stroke="#e0d820" stroke-width="2.1" stroke-linecap="round"/><line x1="38.1" y1="28.6" x2="36.5" y2="31.4" stroke="#e0d820" stroke-width="2.1" stroke-linecap="round"/><line x1="40.9" y1="28.6" x2="42.5" y2="31.4" stroke="#e0d820" stroke-width="2.1" stroke-linecap="round"/><line x1="44.1" y1="28.6" x2="42.5" y2="31.4" stroke="#e0d820" stroke-width="2.1" stroke-linecap="round"/><circle cx="45.1" cy="6.5" r="2.0" fill="#983008"/><line x1="45.7" y1="3.6" x2="47.3" y2="6.5" stroke="#f4ee40" stroke-width="2.1" stroke-linecap="round"/><line x1="47.3" y1="6.5" x2="47.2" y2="9.1" stroke="#f4ee40" stroke-width="2.1" stroke-linecap="round"/><line x1="45.9" y1="10.8" x2="48.7" y2="14.0" stroke="#b8b01c" stroke-width="2.1" stroke-linecap="round"/><circle cx="47.0" cy="18.4" r="2.2" fill="#983008"/><line x1="48.8" y1="16.1" x2="50.4" y2="18.9" stroke="#f4ee40" stroke-width="2.1" stroke-linecap="round"/><line x1="45.7" y1="28.6" x2="47.3" y2="31.4" stroke="#f4ee40" stroke-width="2.1" stroke-linecap="round"/></pattern>
<pattern id="tC" width="60.00" height="15.00" patternUnits="userSpaceOnUse" patternTransform="translate(0,0) rotate(0) scale(1.0,1)"><rect width="60.00" height="15.00" fill="#7a6c10"/><rect y="6.75" width="60.00" height="1.35" fill="#5a4606"/><rect y="14.25" width="60.00" height="1.35" fill="#5a4606"/><line x1="0.2" y1="-3.6" x2="0.1" y2="-0.9" stroke="#f4ee40" stroke-width="2.1" stroke-linecap="round"/><line x1="-2.3" y1="1.1" x2="-3.9" y2="4.0" stroke="#f4ee40" stroke-width="2.1" stroke-linecap="round"/><line x1="-3.9" y1="4.0" x2="-3.3" y2="6.5" stroke="#f4ee40" stroke-width="2.1" stroke-linecap="round"/><circle cx="-3.8" cy="10.6" r="2.2" fill="#a81808"/><line x1="-1.4" y1="8.7" x2="0.2" y2="11.4" stroke="#f4ee40" stroke-width="2.1" stroke-linecap="round"/><line x1="1.8" y1="8.7" x2="0.2" y2="11.4" stroke="#f4ee40" stroke-width="2.1" stroke-linecap="round"/><line x1="0.2" y1="11.4" x2="0.1" y2="14.1" stroke="#f4ee40" stroke-width="2.1" stroke-linecap="round"/><line x1="-2.3" y1="16.1" x2="-3.9" y2="18.9" stroke="#f4ee40" stroke-width="2.1" stroke-linecap="round"/><line x1="-3.9" y1="18.9" x2="-3.3" y2="21.6" stroke="#f4ee40" stroke-width="2.1" stroke-linecap="round"/><line x1="7.1" y1="-3.6" x2="7.5" y2="-0.9" stroke="#e0d820" stroke-width="2.1" stroke-linecap="round"/><circle cx="11.8" cy="-2.9" r="2.4" fill="#a81808"/><line x1="15.0" y1="-3.6" x2="15.5" y2="-0.9" stroke="#e0d820" stroke-width="2.1" stroke-linecap="round"/><line x1="22.9" y1="-3.6" x2="23.5" y2="-0.9" stroke="#e0d820" stroke-width="2.1" stroke-linecap="round"/><circle cx="26.4" cy="-3.3" r="1.9" fill="#a81808"/><line x1="29.8" y1="-3.6" x2="29.5" y2="-0.9" stroke="#e0d820" stroke-width="2.1" stroke-linecap="round"/><line x1="37.6" y1="-3.6" x2="37.7" y2="-0.9" stroke="#e0d820" stroke-width="2.1" stroke-linecap="round"/><circle cx="40.7" cy="-2.8" r="2.0" fill="#a81808"/><line x1="45.2" y1="-3.6" x2="45.4" y2="-0.9" stroke="#e0d820" stroke-width="2.1" stroke-linecap="round"/><circle cx="48.2" cy="-2.8" r="2.0" fill="#a81808"/><line x1="52.2" y1="-3.6" x2="51.7" y2="-0.9" stroke="#f4ee40" stroke-width="2.1" stroke-linecap="round"/><line x1="60.2" y1="-3.6" x2="60.1" y2="-0.9" stroke="#f4ee40" stroke-width="2.1" stroke-linecap="round"/><circle cx="-0.6" cy="4.7" r="2.0" fill="#a81808"/><line x1="2.6" y1="1.1" x2="4.2" y2="4.0" stroke="#f4ee40" stroke-width="2.1" stroke-linecap="round"/><line x1="5.8" y1="1.1" x2="4.2" y2="4.0" stroke="#f4ee40" stroke-width="2.1" stroke-linecap="round"/><line x1="4.2" y1="4.0" x2="4.0" y2="6.5" stroke="#f4ee40" stroke-width="2.1" stroke-linecap="round"/><circle cx="7.5" cy="3.5" r="2.1" fill="#a81808"/><line x1="9.9" y1="1.1" x2="11.5" y2="4.0" stroke="#e0d820" stroke-width="2.1" stroke-linecap="round"/><line x1="13.1" y1="1.1" x2="11.5" y2="4.0" stroke="#e0d820" stroke-width="2.1" stroke-linecap="round"/><line x1="11.5" y1="4.0" x2="11.2" y2="6.5" stroke="#e0d820" stroke-width="2.1" stroke-linecap="round"/><circle cx="15.1" cy="4.1" r="2.3" fill="#a81808"/><line x1="16.8" y1="1.1" x2="18.4" y2="4.0" stroke="#e0d820" stroke-width="2.1" stroke-linecap="round"/><line x1="20.0" y1="1.1" x2="18.4" y2="4.0" stroke="#e0d820" stroke-width="2.1" stroke-linecap="round"/><line x1="18.4" y1="4.0" x2="17.9" y2="6.5" stroke="#e0d820" stroke-width="2.1" stroke-linecap="round"/><circle cx="22.2" cy="2.8" r="2.3" fill="#a81808"/><line x1="24.6" y1="1.1" x2="26.2" y2="4.0" stroke="#f4ee40" stroke-width="2.1" stroke-linecap="round"/><line x1="27.8" y1="1.1" x2="26.2" y2="4.0" stroke="#f4ee40" stroke-width="2.1" stroke-linecap="round"/><line x1="26.2" y1="4.0" x2="26.7" y2="6.5" stroke="#f4ee40" stroke-width="2.1" stroke-linecap="round"/><circle cx="29.7" cy="3.4" r="2.0" fill="#a81808"/><line x1="32.2" y1="1.1" x2="33.8" y2="4.0" stroke="#e0d820" stroke-width="2.1" stroke-linecap="round"/><line x1="35.4" y1="1.1" x2="33.8" y2="4.0" stroke="#e0d820" stroke-width="2.1" stroke-linecap="round"/><line x1="33.8" y1="4.0" x2="34.1" y2="6.5" stroke="#e0d820" stroke-width="2.1" stroke-linecap="round"/><circle cx="37.9" cy="4.2" r="2.3" fill="#a81808"/><line x1="39.4" y1="1.1" x2="41.0" y2="4.0" stroke="#e0d820" stroke-width="2.1" stroke-linecap="round"/><line x1="42.6" y1="1.1" x2="41.0" y2="4.0" stroke="#e0d820" stroke-width="2.1" stroke-linecap="round"/><line x1="41.0" y1="4.0" x2="41.6" y2="6.5" stroke="#e0d820" stroke-width="2.1" stroke-linecap="round"/><circle cx="45.3" cy="4.7" r="2.4" fill="#a81808"/><line x1="47.5" y1="1.1" x2="49.1" y2="4.0" stroke="#e0d820" stroke-width="2.1" stroke-linecap="round"/><line x1="50.7" y1="1.1" x2="49.1" y2="4.0" stroke="#e0d820" stroke-width="2.1" stroke-linecap="round"/><line x1="49.1" y1="4.0" x2="49.5" y2="6.5" stroke="#e0d820" stroke-width="2.1" stroke-linecap="round"/><circle cx="52.7" cy="3.0" r="2.4" fill="#a81808"/><line x1="54.5" y1="1.1" x2="56.1" y2="4.0" stroke="#f4ee40" stroke-width="2.1" stroke-linecap="round"/><line x1="57.7" y1="1.1" x2="56.1" y2="4.0" stroke="#f4ee40" stroke-width="2.1" stroke-linecap="round"/><line x1="56.1" y1="4.0" x2="56.7" y2="6.5" stroke="#f4ee40" stroke-width="2.1" stroke-linecap="round"/><circle cx="4.2" cy="10.6" r="2.5" fill="#a81808"/><line x1="5.5" y1="8.7" x2="7.1" y2="11.4" stroke="#e0d820" stroke-width="2.1" stroke-linecap="round"/><line x1="8.7" y1="8.7" x2="7.1" y2="11.4" stroke="#e0d820" stroke-width="2.1" stroke-linecap="round"/><line x1="7.1" y1="11.4" x2="7.5" y2="14.1" stroke="#e0d820" stroke-width="2.1" stroke-linecap="round"/><circle cx="11.8" cy="12.1" r="2.4" fill="#a81808"/><line x1="13.4" y1="8.7" x2="15.0" y2="11.4" stroke="#e0d820" stroke-width="2.1" stroke-linecap="round"/><line x1="16.6" y1="8.7" x2="15.0" y2="11.4" stroke="#e0d820" stroke-width="2.1" stroke-linecap="round"/><line x1="15.0" y1="11.4" x2="15.5" y2="14.1" stroke="#e0d820" stroke-width="2.1" stroke-linecap="round"/><circle cx="18.6" cy="10.9" r="2.2" fill="#a81808"/><line x1="21.3" y1="8.7" x2="22.9" y2="11.4" stroke="#e0d820" stroke-width="2.1" stroke-linecap="round"/><line x1="24.5" y1="8.7" x2="22.9" y2="11.4" stroke="#e0d820" stroke-width="2.1" stroke-linecap="round"/><line x1="22.9" y1="11.4" x2="23.5" y2="14.1" stroke="#e0d820" stroke-width="2.1" stroke-linecap="round"/><circle cx="26.4" cy="11.7" r="1.9" fill="#a81808"/><line x1="28.2" y1="8.7" x2="29.8" y2="11.4" stroke="#e0d820" stroke-width="2.1" stroke-linecap="round"/><line x1="31.4" y1="8.7" x2="29.8" y2="11.4" stroke="#e0d820" stroke-width="2.1" stroke-linecap="round"/><line x1="29.8" y1="11.4" x2="29.5" y2="14.1" stroke="#e0d820" stroke-width="2.1" stroke-linecap="round"/><circle cx="33.9" cy="10.3" r="2.4" fill="#a81808"/><line x1="36.0" y1="8.7" x2="37.6" y2="11.4" stroke="#e0d820" stroke-width="2.1" stroke-linecap="round"/><line x1="39.2" y1="8.7" x2="37.6" y2="11.4" stroke="#e0d820" stroke-width="2.1" stroke-linecap="round"/><line x1="37.6" y1="11.4" x2="37.7" y2="14.1" stroke="#e0d820" stroke-width="2.1" stroke-linecap="round"/><circle cx="40.7" cy="12.2" r="2.0" fill="#a81808"/><line x1="43.6" y1="8.7" x2="45.2" y2="11.4" stroke="#e0d820" stroke-width="2.1" stroke-linecap="round"/><line x1="46.8" y1="8.7" x2="45.2" y2="11.4" stroke="#e0d820" stroke-width="2.1" stroke-linecap="round"/><line x1="45.2" y1="11.4" x2="45.4" y2="14.1" stroke="#e0d820" stroke-width="2.1" stroke-linecap="round"/><circle cx="48.2" cy="12.2" r="2.0" fill="#a81808"/><line x1="50.6" y1="8.7" x2="52.2" y2="11.4" stroke="#f4ee40" stroke-width="2.1" stroke-linecap="round"/><line x1="53.8" y1="8.7" x2="52.2" y2="11.4" stroke="#f4ee40" stroke-width="2.1" stroke-linecap="round"/><line x1="52.2" y1="11.4" x2="51.7" y2="14.1" stroke="#f4ee40" stroke-width="2.1" stroke-linecap="round"/><circle cx="56.2" cy="10.6" r="2.2" fill="#a81808"/><line x1="58.6" y1="8.7" x2="60.2" y2="11.4" stroke="#f4ee40" stroke-width="2.1" stroke-linecap="round"/><line x1="61.8" y1="8.7" x2="60.2" y2="11.4" stroke="#f4ee40" stroke-width="2.1" stroke-linecap="round"/><line x1="60.2" y1="11.4" x2="60.1" y2="14.1" stroke="#f4ee40" stroke-width="2.1" stroke-linecap="round"/><line x1="2.6" y1="16.1" x2="4.2" y2="18.9" stroke="#f4ee40" stroke-width="2.1" stroke-linecap="round"/><line x1="5.8" y1="16.1" x2="4.2" y2="18.9" stroke="#f4ee40" stroke-width="2.1" stroke-linecap="round"/><line x1="4.2" y1="18.9" x2="4.0" y2="21.6" stroke="#f4ee40" stroke-width="2.1" stroke-linecap="round"/><circle cx="7.5" cy="18.5" r="2.1" fill="#a81808"/><line x1="9.9" y1="16.1" x2="11.5" y2="18.9" stroke="#e0d820" stroke-width="2.1" stroke-linecap="round"/><line x1="13.1" y1="16.1" x2="11.5" y2="18.9" stroke="#e0d820" stroke-width="2.1" stroke-linecap="round"/><line x1="11.5" y1="18.9" x2="11.2" y2="21.6" stroke="#e0d820" stroke-width="2.1" stroke-linecap="round"/><line x1="16.8" y1="16.1" x2="18.4" y2="18.9" stroke="#e0d820" stroke-width="2.1" stroke-linecap="round"/><line x1="20.0" y1="16.1" x2="18.4" y2="18.9" stroke="#e0d820" stroke-width="2.1" stroke-linecap="round"/><line x1="18.4" y1="18.9" x2="17.9" y2="21.6" stroke="#e0d820" stroke-width="2.1" stroke-linecap="round"/><circle cx="22.2" cy="17.8" r="2.3" fill="#a81808"/><line x1="24.6" y1="16.1" x2="26.2" y2="18.9" stroke="#f4ee40" stroke-width="2.1" stroke-linecap="round"/><line x1="27.8" y1="16.1" x2="26.2" y2="18.9" stroke="#f4ee40" stroke-width="2.1" stroke-linecap="round"/><line x1="26.2" y1="18.9" x2="26.7" y2="21.6" stroke="#f4ee40" stroke-width="2.1" stroke-linecap="round"/><circle cx="29.7" cy="18.4" r="2.0" fill="#a81808"/><line x1="32.2" y1="16.1" x2="33.8" y2="18.9" stroke="#e0d820" stroke-width="2.1" stroke-linecap="round"/><line x1="35.4" y1="16.1" x2="33.8" y2="18.9" stroke="#e0d820" stroke-width="2.1" stroke-linecap="round"/><line x1="33.8" y1="18.9" x2="34.1" y2="21.6" stroke="#e0d820" stroke-width="2.1" stroke-linecap="round"/><line x1="39.4" y1="16.1" x2="41.0" y2="18.9" stroke="#e0d820" stroke-width="2.1" stroke-linecap="round"/><line x1="42.6" y1="16.1" x2="41.0" y2="18.9" stroke="#e0d820" stroke-width="2.1" stroke-linecap="round"/><line x1="41.0" y1="18.9" x2="41.6" y2="21.6" stroke="#e0d820" stroke-width="2.1" stroke-linecap="round"/><line x1="47.5" y1="16.1" x2="49.1" y2="18.9" stroke="#e0d820" stroke-width="2.1" stroke-linecap="round"/><line x1="50.7" y1="16.1" x2="49.1" y2="18.9" stroke="#e0d820" stroke-width="2.1" stroke-linecap="round"/><line x1="49.1" y1="18.9" x2="49.5" y2="21.6" stroke="#e0d820" stroke-width="2.1" stroke-linecap="round"/><circle cx="52.7" cy="18.0" r="2.4" fill="#a81808"/><line x1="54.5" y1="16.1" x2="56.1" y2="18.9" stroke="#f4ee40" stroke-width="2.1" stroke-linecap="round"/><line x1="57.7" y1="16.1" x2="56.1" y2="18.9" stroke="#f4ee40" stroke-width="2.1" stroke-linecap="round"/><line x1="56.1" y1="18.9" x2="56.7" y2="21.6" stroke="#f4ee40" stroke-width="2.1" stroke-linecap="round"/><circle cx="59.4" cy="4.7" r="2.0" fill="#a81808"/><line x1="62.6" y1="1.1" x2="64.2" y2="4.0" stroke="#f4ee40" stroke-width="2.1" stroke-linecap="round"/><line x1="62.6" y1="16.1" x2="64.2" y2="18.9" stroke="#f4ee40" stroke-width="2.1" stroke-linecap="round"/></pattern>
<pattern id="noise1" width="37" height="37" patternUnits="userSpaceOnUse"><circle cx="8.8" cy="20.1" r="1.2" fill="#f0e040"/><circle cx="17.5" cy="21.5" r="1.4" fill="#902008"/><circle cx="9.6" cy="8.7" r="1.8" fill="#902008"/><circle cx="20.0" cy="20.3" r="1.2" fill="#e0d820"/><circle cx="8.6" cy="5.6" r="1.7" fill="#902008"/><circle cx="27.4" cy="24.8" r="0.9" fill="#f0e040"/><circle cx="1.6" cy="28.9" r="1.6" fill="#503000"/><circle cx="17.5" cy="26.6" r="1.7" fill="#902008"/><circle cx="14.6" cy="29.6" r="1.2" fill="#e0d820"/><circle cx="32.5" cy="3.6" r="0.9" fill="#e0d820"/><circle cx="9.5" cy="24.9" r="1.6" fill="#503000"/><circle cx="15.6" cy="30.8" r="1.4" fill="#f0e040"/><circle cx="21.6" cy="21.6" r="1.7" fill="#c01808"/><circle cx="31.7" cy="36.7" r="1.5" fill="#e0d820"/><circle cx="25.8" cy="12.1" r="1.3" fill="#f0e040"/><circle cx="21.1" cy="26.4" r="1.0" fill="#f0e040"/><circle cx="9.9" cy="4.6" r="1.3" fill="#902008"/><circle cx="3.3" cy="29.6" r="1.2" fill="#e0d820"/><circle cx="0.7" cy="15.8" r="1.2" fill="#c01808"/><circle cx="1.6" cy="22.7" r="0.8" fill="#f0e040"/><circle cx="12.2" cy="32.6" r="1.8" fill="#f0e040"/><circle cx="8.7" cy="1.3" r="0.8" fill="#c01808"/><circle cx="22.2" cy="1.2" r="1.0" fill="#902008"/><circle cx="10.8" cy="9.7" r="1.5" fill="#503000"/><circle cx="11.6" cy="35.5" r="1.7" fill="#902008"/><circle cx="13.9" cy="32.2" r="1.2" fill="#f0e040"/><circle cx="25.2" cy="3.8" r="1.8" fill="#f0e040"/><circle cx="10.0" cy="23.5" r="1.5" fill="#503000"/><circle cx="16.2" cy="9.6" r="1.1" fill="#503000"/><circle cx="0.4" cy="15.4" r="1.4" fill="#c01808"/><circle cx="13.9" cy="21.8" r="0.9" fill="#503000"/><circle cx="17.3" cy="25.1" r="1.2" fill="#503000"/><circle cx="27.3" cy="0.8" r="0.9" fill="#c01808"/><circle cx="35.6" cy="9.3" r="1.3" fill="#f0e040"/><circle cx="22.3" cy="6.6" r="1.0" fill="#503000"/><circle cx="31.2" cy="9.8" r="1.6" fill="#c01808"/><circle cx="28.6" cy="1.0" r="1.4" fill="#e0d820"/><circle cx="11.5" cy="8.2" r="1.6" fill="#e0d820"/><circle cx="12.1" cy="25.1" r="1.4" fill="#c01808"/><circle cx="3.8" cy="11.9" r="1.1" fill="#e0d820"/><circle cx="16.2" cy="31.7" r="1.0" fill="#503000"/><circle cx="27.5" cy="8.1" r="1.4" fill="#503000"/><circle cx="8.3" cy="4.5" r="1.3" fill="#e0d820"/><circle cx="11.7" cy="30.9" r="1.4" fill="#503000"/><circle cx="12.6" cy="30.6" r="0.9" fill="#f0e040"/><circle cx="12.8" cy="4.8" r="1.1" fill="#503000"/><circle cx="17.2" cy="23.5" r="1.1" fill="#f0e040"/><circle cx="15.2" cy="34.1" r="1.0" fill="#c01808"/><circle cx="17.7" cy="30.8" r="1.4" fill="#f0e040"/><circle cx="16.1" cy="35.2" r="1.7" fill="#e0d820"/><circle cx="1.2" cy="16.9" r="1.6" fill="#f0e040"/><circle cx="35.6" cy="20.1" r="1.7" fill="#c01808"/><circle cx="31.7" cy="35.9" r="0.9" fill="#e0d820"/><circle cx="1.7" cy="33.4" r="1.5" fill="#e0d820"/><circle cx="33.2" cy="33.3" r="1.4" fill="#c01808"/><circle cx="17.8" cy="4.5" r="1.3" fill="#e0d820"/><circle cx="24.5" cy="19.4" r="1.2" fill="#f0e040"/><circle cx="4.2" cy="4.6" r="1.8" fill="#f0e040"/><circle cx="17.7" cy="28.9" r="1.2" fill="#e0d820"/><circle cx="4.5" cy="32.8" r="0.9" fill="#e0d820"/><circle cx="29.3" cy="34.1" r="1.6" fill="#c01808"/><circle cx="18.0" cy="21.1" r="1.2" fill="#503000"/><circle cx="9.2" cy="22.9" r="1.3" fill="#c01808"/><circle cx="17.5" cy="28.7" r="0.8" fill="#c01808"/><circle cx="28.7" cy="1.7" r="0.8" fill="#902008"/><circle cx="36.1" cy="31.6" r="0.9" fill="#f0e040"/><circle cx="18.1" cy="5.8" r="0.9" fill="#902008"/><circle cx="23.9" cy="21.7" r="1.2" fill="#e0d820"/><circle cx="36.6" cy="15.9" r="0.9" fill="#c01808"/><circle cx="26.5" cy="14.1" r="0.9" fill="#e0d820"/></pattern>
<pattern id="c_t1" href="#tS" patternTransform="translate(3,0) rotate(36) scale(1.0)"/>
<pattern id="c_t2" href="#tS2" patternTransform="translate(0,0) rotate(42) scale(0.96)"/>
<pattern id="c_t3" href="#tS" patternTransform="translate(5,0) rotate(66) scale(0.96)"/>
<pattern id="c_t4" href="#tC" patternTransform="translate(2,3) rotate(4) scale(0.9)"/>
<pattern id="c_b1" href="#tC" patternTransform="translate(0,0) rotate(8) scale(1.0)"/>
<pattern id="c_b2" href="#tS" patternTransform="translate(7,0) rotate(-25) scale(1.04)"/>
<pattern id="c_b3" href="#tS" patternTransform="translate(11,0) rotate(-58) scale(0.96)"/>
<pattern id="c_b4" href="#tS" patternTransform="translate(4,6) rotate(42) scale(1.0)"/>
<pattern id="d_t1" href="#tS" patternTransform="translate(2,0) rotate(40) scale(0.96)"/>
<pattern id="d_t2" href="#tS2" patternTransform="translate(5,0) rotate(33) scale(0.92)"/>
<pattern id="d_t3" href="#tS" patternTransform="translate(8,0) rotate(58) scale(0.92)"/>
<pattern id="d_t4" href="#tC" patternTransform="translate(1,2) rotate(4) scale(0.88)"/>
<pattern id="d_b1" href="#tC" patternTransform="translate(3,0) rotate(8) scale(0.95)"/>
<pattern id="d_b2" href="#tS" patternTransform="translate(6,0) rotate(-25) scale(1.0)"/>
<pattern id="d_b3" href="#tS" patternTransform="translate(9,0) rotate(-58) scale(0.92)"/>
<pattern id="d_b4" href="#tS" patternTransform="translate(2,5) rotate(44) scale(0.96)"/>
</defs>
<rect width="1425" height="967" fill="#fff"/>
<line x1="91.5" y1="100" x2="91.5" y2="428.5" stroke="#7a7a7a" stroke-width="1.4"/>
<polyline points="91.5,428.5 315.5,471.0 540.5,430.0" fill="none" stroke="#7a7a7a" stroke-width="1.4"/>
<line x1="83.5" y1="124.5" x2="91.5" y2="123.5" stroke="#7a7a7a" stroke-width="1.2"/>
<line x1="83.5" y1="224.5" x2="91.5" y2="223.5" stroke="#7a7a7a" stroke-width="1.2"/>
<line x1="83.5" y1="324.5" x2="91.5" y2="323.5" stroke="#7a7a7a" stroke-width="1.2"/>
<line x1="83.5" y1="424.5" x2="91.5" y2="423.5" stroke="#7a7a7a" stroke-width="1.2"/>
<circle cx="404.0" cy="206.0" r="6.8" fill="#000" fill-opacity="1"/>
<circle cx="449.7" cy="216.0" r="6.8" fill="#000" fill-opacity="1"/>
<circle cx="179.4" cy="275.3" r="6.8" fill="#000" fill-opacity="1"/>
<path d="M93.5,308.0 L113.7,297.2 L139.0,287.0 L160.8,282.0 L181.0,279.5 L205.0,274.0 L228.4,270.7 L262.5,294.0 L285.0,290.0 L305.0,300.0 L300.0,322.0 L295.0,319.5 L273.7,329.5 L256.8,337.6 L240.0,344.0 L223.0,354.4 L206.3,362.8 L189.5,371.3 L172.6,376.3 L155.8,374.6 L139.0,364.5 L122.0,347.7 L105.3,325.8 L93.5,310.0 Z" fill="url(#g_wing_a)"/>
<g clip-path="url(#cp_wing_a)"><path d="M181.0,279.5 L228.4,270.7 L262.5,294.0 L295.0,319.5 L273.7,329.5 L240.0,344.0 L206.3,362.8 L180.0,374.0" stroke="#001018" stroke-width="24" fill="none" filter="url(#blur6)" opacity="0.7"/><path d="M228.4,270.7 L262.5,294.0" stroke="#000" stroke-width="3" fill="none"/><path d="M190.0,278.0 L228.4,270.7 L262.5,294.0 L290.0,312.0 L273.7,329.5 L240.0,344.0 L205.0,350.0 L190.0,330.0 Z" fill="#001820" opacity="0.5" filter="url(#blur6)"/></g>
<path d="M93.5,308.0 L113.7,297.2 L139.0,287.0 L160.8,282.0 L181.0,279.5 L205.0,274.0 L228.4,270.7 L262.5,294.0 L285.0,290.0 L305.0,300.0 L300.0,322.0 L295.0,319.5 L273.7,329.5 L256.8,337.6 L240.0,344.0 L223.0,354.4 L206.3,362.8 L189.5,371.3 L172.6,376.3 L155.8,374.6 L139.0,364.5 L122.0,347.7 L105.3,325.8 L93.5,310.0 Z" fill="url(#meshW)"/>
<path d="M181.0,327.0 L179.4,312.0 L179.4,300.5 L181.0,285.0 L184.0,272.0 L187.8,265.0 L193.0,257.0 L198.0,250.0 L203.7,239.3 L212.0,230.0 L220.5,222.5 L237.4,211.2 L250.8,200.0 L264.0,191.0 L278.0,181.0 L295.0,170.0 L311.6,160.6 L328.0,151.0 L345.0,142.0 L362.0,134.0 L379.0,129.5 L395.0,127.3 L404.0,127.3 L412.0,129.5 L421.0,133.7 L430.0,140.0 L437.9,147.0 L446.0,156.0 L454.7,165.7 L463.0,175.0 L471.6,184.2 L480.0,196.0 L488.4,207.8 L495.0,218.5 L501.7,230.0 L511.7,242.4 L524.0,258.5 L534.0,271.0 L540.2,281.0 L540.2,286.0 L520.0,276.5 L494.5,273.0 L470.0,268.5 L453.0,266.0 L445.0,265.0 L420.1,248.2 L404.4,231.4 L393.3,220.2 L382.1,210.3 L369.7,199.1 L357.3,190.4 L343.6,181.8 L328.8,175.5 L314.8,173.0 L308.5,187.6 L300.0,218.0 L293.0,232.0 L289.3,238.6 L264.3,224.7 L228.4,270.7 L214.7,283.7 L205.0,297.0 L198.0,309.0 L190.0,320.0 L183.0,327.0 Z" fill="url(#g_U_a)"/>
<g clip-path="url(#cp_U_a)"><path d="M181.0,327.0 L179.4,300.5 L181.0,285.0 L187.8,265.0 L198.0,250.0 L212.0,230.0 L237.4,211.2 L264.0,191.0 L295.0,170.0 L311.6,160.6 L306.5,187.6 L298.0,200.0 L270.0,205.0 L250.0,215.0 L240.0,235.0 L228.4,270.7 L214.7,283.7 L198.0,309.0 L183.0,327.0 Z" fill="url(#g_band_a)" filter="url(#blur3)"/><path d="M264.0,224.0 C259.7,219.8 261.0,216.3 262.0,213.0 C263.0,209.7 266.2,206.8 270.0,204.0 C273.8,201.2 280.0,198.5 285.0,196.0 C290.0,193.5 296.3,190.5 300.0,189.0 C303.7,187.5 306.7,183.5 307.0,187.0 C307.3,190.5 304.3,202.5 302.0,210.0 C299.7,217.5 295.3,227.3 293.0,232.0 C290.7,236.7 292.8,239.3 288.0,238.0 C283.2,236.7 268.3,228.2 264.0,224.0 Z" fill="url(#g_strip_a)" opacity="0.9"/><path d="M203.7,239.3 C205.1,237.8 209.2,232.8 212.0,230.0 C214.8,227.2 216.3,225.6 220.5,222.5 C224.7,219.4 232.3,214.9 237.4,211.2 C242.5,207.4 246.4,203.4 250.8,200.0 C255.2,196.6 259.5,194.2 264.0,191.0 C268.5,187.8 272.8,184.5 278.0,181.0 C283.2,177.5 289.4,173.4 295.0,170.0 C300.6,166.6 306.1,163.8 311.6,160.6 C317.1,157.4 322.4,154.1 328.0,151.0 C333.6,147.9 339.3,144.8 345.0,142.0 C350.7,139.2 356.3,136.1 362.0,134.0 C367.7,131.9 373.5,130.6 379.0,129.5 C384.5,128.4 390.8,127.7 395.0,127.3 C399.2,126.9 401.2,126.9 404.0,127.3 C406.8,127.7 409.2,128.4 412.0,129.5 C414.8,130.6 419.5,133.0 421.0,133.7" stroke="#000" stroke-width="16" fill="none" filter="url(#blur3)" opacity="0.85"/><path d="M412.0,129.5 C413.5,130.2 418.0,131.9 421.0,133.7 C424.0,135.4 427.2,137.8 430.0,140.0 C432.8,142.2 435.2,144.3 437.9,147.0 C440.6,149.7 443.2,152.9 446.0,156.0 C448.8,159.1 451.9,162.5 454.7,165.7 C457.5,168.9 460.2,171.9 463.0,175.0 C465.8,178.1 468.8,180.7 471.6,184.2 C474.4,187.7 477.2,192.1 480.0,196.0 C482.8,199.9 485.9,204.1 488.4,207.8 C490.9,211.6 492.8,214.8 495.0,218.5 C497.2,222.2 498.9,226.0 501.7,230.0 C504.5,234.0 508.0,237.7 511.7,242.4 C515.4,247.2 520.3,253.7 524.0,258.5 C527.7,263.3 531.3,267.2 534.0,271.0 C536.7,274.8 539.2,279.3 540.2,281.0" stroke="#000" stroke-width="9" fill="none" filter="url(#blur3)" opacity="0.7"/><path d="M181.0,327.0 C180.7,324.5 179.7,316.4 179.4,312.0 C179.1,307.6 179.1,305.0 179.4,300.5 C179.7,296.0 180.2,289.8 181.0,285.0 C181.8,280.2 182.9,275.3 184.0,272.0 C185.1,268.7 186.3,267.5 187.8,265.0 C189.3,262.5 191.3,259.5 193.0,257.0 C194.7,254.5 196.2,252.9 198.0,250.0 C199.8,247.1 201.4,242.6 203.7,239.3 C206.0,236.0 209.2,232.8 212.0,230.0 C214.8,227.2 216.3,225.6 220.5,222.5 C224.7,219.4 232.3,214.9 237.4,211.2 C242.5,207.4 246.4,203.4 250.8,200.0 C255.2,196.6 259.5,194.2 264.0,191.0 C268.5,187.8 272.8,184.5 278.0,181.0 C283.2,177.5 289.4,173.4 295.0,170.0 C300.6,166.6 306.1,163.8 311.6,160.6 C317.1,157.4 322.4,154.1 328.0,151.0 C333.6,147.9 339.3,144.8 345.0,142.0 C350.7,139.2 356.3,136.1 362.0,134.0 C367.7,131.9 373.5,130.6 379.0,129.5 C384.5,128.4 390.8,127.7 395.0,127.3 C399.2,126.9 401.2,126.9 404.0,127.3 C406.8,127.7 409.2,128.4 412.0,129.5 C414.8,130.6 418.0,131.9 421.0,133.7 C424.0,135.4 427.2,137.8 430.0,140.0 C432.8,142.2 435.2,144.3 437.9,147.0 C440.6,149.7 443.2,152.9 446.0,156.0 C448.8,159.1 451.9,162.5 454.7,165.7 C457.5,168.9 460.2,171.9 463.0,175.0 C465.8,178.1 468.8,180.7 471.6,184.2 C474.4,187.7 477.2,192.1 480.0,196.0 C482.8,199.9 485.9,204.1 488.4,207.8 C490.9,211.6 492.8,214.8 495.0,218.5 C497.2,222.2 498.9,226.0 501.7,230.0 C504.5,234.0 508.0,237.7 511.7,242.4 C515.4,247.2 520.3,253.7 524.0,258.5 C527.7,263.3 531.3,267.2 534.0,271.0 C536.7,274.8 539.2,279.3 540.2,281.0" stroke="#000" stroke-width="5" fill="none"/><path d="M540.2,286.0 L520.0,276.5 L494.5,273.0 L470.0,268.5 L453.0,266.0 L445.0,265.0" stroke="#000" stroke-width="4" fill="none" filter="url(#blur3)" opacity="0.7"/></g>
<path d="M181.0,327.0 L179.4,312.0 L179.4,300.5 L181.0,285.0 L184.0,272.0 L187.8,265.0 L193.0,257.0 L198.0,250.0 L203.7,239.3 L212.0,230.0 L220.5,222.5 L237.4,211.2 L250.8,200.0 L264.0,191.0 L278.0,181.0 L295.0,170.0 L311.6,160.6 L328.0,151.0 L345.0,142.0 L362.0,134.0 L379.0,129.5 L395.0,127.3 L404.0,127.3 L412.0,129.5 L421.0,133.7 L430.0,140.0 L437.9,147.0 L446.0,156.0 L454.7,165.7 L463.0,175.0 L471.6,184.2 L480.0,196.0 L488.4,207.8 L495.0,218.5 L501.7,230.0 L511.7,242.4 L524.0,258.5 L534.0,271.0 L540.2,281.0 L540.2,286.0 L520.0,276.5 L494.5,273.0 L470.0,268.5 L453.0,266.0 L445.0,265.0 L420.1,248.2 L404.4,231.4 L393.3,220.2 L382.1,210.3 L369.7,199.1 L357.3,190.4 L343.6,181.8 L328.8,175.5 L314.8,173.0 L308.5,187.6 L300.0,218.0 L293.0,232.0 L289.3,238.6 L264.3,224.7 L228.4,270.7 L214.7,283.7 L205.0,297.0 L198.0,309.0 L190.0,320.0 L183.0,327.0 Z" fill="url(#meshU)"/>
<polygon points="144.0,374.5 159.5,376.5 136.0,421.0" fill="#0a0a6a"/>
<path d="M314.8,169.8 L331.0,174.7 L345.8,181.0 L359.5,189.6 L371.9,198.3 L384.3,209.5 L395.5,219.4 L406.6,230.6 L422.3,247.4 L437.2,259.8 L449.6,271.0 L458.3,282.1 L467.0,294.5 L475.7,306.9 L484.4,319.3 L493.0,333.0 L499.3,345.4 L505.3,357.8 L512.0,370.0 L519.0,383.0 L526.0,396.0 L532.0,408.0 L539.0,420.0 L515.8,400.0 L486.9,381.4 L463.0,369.0 L443.4,361.0 L414.0,349.0 L389.0,341.5 L352.0,336.8 L314.8,336.8 L295.0,319.5 L262.0,294.0 L270.0,280.0 L279.6,263.0 L284.6,251.6 L287.3,237.6 L291.0,232.0 L298.0,218.0 L306.5,187.6 Z" fill="url(#g_Lf_a)"/>
<g clip-path="url(#cp_Lf_a)"><path d="M295.0,319.5 L314.8,336.8 L352.0,336.8 L389.0,340.6 L414.0,346.8 L439.0,354.0 L420.0,340.0 L400.0,332.0 L365.0,326.0 L335.0,323.0 L310.0,321.0 Z" fill="#0828c8"/><path d="M262.0,312.0 C266.7,312.5 278.7,314.2 290.0,315.0 C301.3,315.8 317.7,316.2 330.0,317.0 C342.3,317.8 352.0,318.3 364.0,319.5 C376.0,320.7 391.6,321.5 402.0,324.4 C412.4,327.3 418.5,331.6 426.5,336.8 C434.5,342.0 442.8,350.0 450.0,355.5 C457.2,361.0 461.7,364.2 470.0,370.0 C478.3,375.8 488.5,381.5 500.0,390.0 C511.5,398.5 532.5,415.8 539.0,421.0" stroke="#000" stroke-width="11" fill="none" filter="url(#blur3)" opacity="0.95"/><path d="M300.0,300.0 C306.7,300.3 326.7,301.0 340.0,302.0 C353.3,303.0 366.7,303.3 380.0,306.0 C393.3,308.7 408.3,313.2 420.0,318.0 C431.7,322.8 445.0,332.2 450.0,335.0" stroke="#000" stroke-width="10" fill="none" filter="url(#blur6)" opacity="0.35"/></g>
<path d="M314.8,169.8 L331.0,174.7 L345.8,181.0 L359.5,189.6 L371.9,198.3 L384.3,209.5 L395.5,219.4 L406.6,230.6 L422.3,247.4 L437.2,259.8 L449.6,271.0 L458.3,282.1 L467.0,294.5 L475.7,306.9 L484.4,319.3 L493.0,333.0 L499.3,345.4 L505.3,357.8 L512.0,370.0 L519.0,383.0 L526.0,396.0 L532.0,408.0 L539.0,420.0 L515.8,400.0 L486.9,381.4 L463.0,369.0 L443.4,361.0 L414.0,349.0 L389.0,341.5 L352.0,336.8 L314.8,336.8 L295.0,319.5 L262.0,294.0 L270.0,280.0 L279.6,263.0 L284.6,251.6 L287.3,237.6 L291.0,232.0 L298.0,218.0 L306.5,187.6 Z" fill="url(#meshL)"/>
<polygon points="476.5,99.4 457.7,142.1 463.8,146.5 440.3,150.8 435.6,128.0 443.9,132.0" fill="#ed7d31"/>
<polygon points="302.5,398.0 324.4,357.5 319.7,350.6 342.9,348.8 345.4,372.0 337.8,368.4" fill="#ed7d31"/>
<circle cx="91.5" cy="424.6" r="6.8" fill="#000" fill-opacity="1"/>
<circle cx="135.9" cy="432.6" r="6.8" fill="#000" fill-opacity="1"/>
<circle cx="180.5" cy="445.3" r="6.8" fill="#000" fill-opacity="1"/>
<circle cx="225.8" cy="449.5" r="6.8" fill="#000" fill-opacity="1"/>
<circle cx="271.0" cy="453.7" r="6.8" fill="#000" fill-opacity="1"/>
<circle cx="315.9" cy="461.7" r="6.8" fill="#000" fill-opacity="1"/>
<circle cx="315.8" cy="142.1" r="6.8" fill="#000" fill-opacity="1"/>
<circle cx="360.4" cy="121.0" r="6.8" fill="#000" fill-opacity="1"/>
<circle cx="405.9" cy="130.3" r="6.8" fill="#000" fill-opacity="1"/>
<circle cx="225.7" cy="212.8" r="6.8" fill="#000" fill-opacity="1"/>
<circle cx="269.5" cy="187.6" r="6.8" fill="#000" fill-opacity="1"/>
<circle cx="270.3" cy="209.5" r="6.8" fill="#000" fill-opacity="1"/>
<circle cx="360.4" cy="165.7" r="6.8" fill="#000" fill-opacity="1"/>
<circle cx="405.9" cy="162.3" r="6.8" fill="#000" fill-opacity="1"/>
<circle cx="451.4" cy="182.5" r="6.8" fill="#000" fill-opacity="1"/>
<circle cx="496.0" cy="223.8" r="6.8" fill="#000" fill-opacity="1"/>
<circle cx="451.4" cy="268.5" r="6.8" fill="#000" fill-opacity="1"/>
<circle cx="495.2" cy="273.6" r="6.8" fill="#000" fill-opacity="1"/>
<circle cx="539.8" cy="287.0" r="6.8" fill="#000" fill-opacity="1"/>
<circle cx="224.8" cy="282.0" r="6.8" fill="#000" fill-opacity="1"/>
<circle cx="135.6" cy="376.3" r="6.8" fill="#000" fill-opacity="1"/>
<circle cx="404.0" cy="206.0" r="6.2" fill="#000" fill-opacity="0.6"/>
<circle cx="449.7" cy="216.0" r="6.2" fill="#000" fill-opacity="0.6"/>
<circle cx="179.4" cy="275.3" r="6.2" fill="#000" fill-opacity="0.6"/>
<polygon points="82.1,314.9 98.1,314.9 90.1,301.4" fill="#00f000" fill-opacity="1"/>
<polygon points="127.6,343.4 143.6,343.4 135.6,329.9" fill="#00f000" fill-opacity="1"/>
<polygon points="173.0,328.4 189.0,328.4 181.0,314.9" fill="#00f000" fill-opacity="1"/>
<polygon points="173.0,393.1 189.0,393.1 181.0,379.6" fill="#00f000" fill-opacity="1"/>
<polygon points="218.5,360.4 234.5,360.4 226.5,346.9" fill="#00f000" fill-opacity="1"/>
<polygon points="264.0,334.2 280.0,334.2 272.0,320.8" fill="#00f000" fill-opacity="1"/>
<polygon points="262.3,287.9 278.3,287.9 270.3,274.4" fill="#00f000" fill-opacity="1"/>
<polygon points="307.8,285.4 323.8,285.4 315.8,271.9" fill="#00f000" fill-opacity="1"/>
<polygon points="352.4,332.6 368.4,332.6 360.4,319.1" fill="#00f000" fill-opacity="1"/>
<polygon points="352.4,348.6 368.4,348.6 360.4,335.1" fill="#00f000" fill-opacity="1"/>
<polygon points="397.9,346.1 413.9,346.1 405.9,332.6" fill="#00f000" fill-opacity="1"/>
<polygon points="397.9,307.2 413.9,307.2 405.9,293.8" fill="#00f000" fill-opacity="1"/>
<polygon points="443.4,302.2 459.4,302.2 451.4,288.8" fill="#00f000" fill-opacity="1"/>
<polygon points="488.0,362.8 504.0,362.8 496.0,349.2" fill="#00f000" fill-opacity="1"/>
<polygon points="531.8,399.8 547.8,399.8 539.8,386.2" fill="#00f000" fill-opacity="1"/>
<polygon points="307.8,170.8 323.8,170.8 315.8,157.2" fill="#00f000" fill-opacity="1"/>
<polygon points="352.4,184.2 368.4,184.2 360.4,170.8" fill="#00f000" fill-opacity="1"/>
<polygon points="397.9,253.2 413.9,253.2 405.9,239.8" fill="#00f000" fill-opacity="1"/>
<polygon points="440.0,371.2 456.0,371.2 448.0,357.8" fill="#00f000" fill-opacity="0.6"/>
<polygon points="220.2,282.1 236.2,282.1 228.2,268.6" fill="#00f000" fill-opacity="0.6"/>
<rect x="575.5" y="59.5" width="25" height="413.5" fill="url(#jet_a)" stroke="#000" stroke-opacity="0.3" stroke-width="0.8"/>
<line x1="403" y1="456.7" x2="410" y2="455.5" stroke="#7a7a7a" stroke-width="1.2"/>
<line x1="493.5" y1="441.2" x2="500.5" y2="440" stroke="#7a7a7a" stroke-width="1.2"/>
<line x1="1131" y1="455.5" x2="1138" y2="454.3" stroke="#7a7a7a" stroke-width="1.2"/>
<line x1="1220.5" y1="439.4" x2="1227.5" y2="438.2" stroke="#7a7a7a" stroke-width="1.2"/>
<line x1="822.8" y1="100.6" x2="822.8" y2="431" stroke="#7a7a7a" stroke-width="1.4"/>
<polyline points="823.3,431.0 1048.2,471.2 1270.9,429.3" fill="none" stroke="#7a7a7a" stroke-width="1.4"/>
<line x1="814.8" y1="152" x2="822.8" y2="151" stroke="#7a7a7a" stroke-width="1.2"/>
<line x1="814.8" y1="223.3" x2="822.8" y2="222.3" stroke="#7a7a7a" stroke-width="1.2"/>
<line x1="814.8" y1="294.6" x2="822.8" y2="293.6" stroke="#7a7a7a" stroke-width="1.2"/>
<line x1="814.8" y1="366" x2="822.8" y2="365" stroke="#7a7a7a" stroke-width="1.2"/>
<circle cx="1137.5" cy="152.0" r="6.8" fill="#000" fill-opacity="1"/>
<circle cx="1135.8" cy="186.0" r="6.8" fill="#000" fill-opacity="1"/>
<circle cx="1181.3" cy="184.2" r="6.8" fill="#000" fill-opacity="1"/>
<circle cx="1180.0" cy="206.0" r="6.8" fill="#000" fill-opacity="1"/>
<circle cx="1181.0" cy="245.4" r="6.8" fill="#000" fill-opacity="1"/>
<path d="M822.9,379.4 L825.5,372.4 L830.8,361.8 L837.8,347.8 L846.6,332.0 L857.2,314.4 L867.7,296.8 L880.0,279.2 L892.3,261.6 L906.4,245.8 L920.4,233.5 L945.0,230.0 L976.0,225.0 L1014.0,244.0 L1008.0,258.6 L1003.9,269.8 L1001.0,281.0 L1026.3,281.0 L1012.3,289.5 L998.2,299.3 L988.4,307.3 L978.6,314.7 L971.6,322.4 L954.7,341.0 L935.0,370.6 L920.4,381.1 L902.9,390.0 L885.3,395.2 L867.7,397.0 L850.1,395.2 L832.6,389.0 L822.9,381.1 Z" fill="url(#g_wing_b)"/>
<g clip-path="url(#cp_wing_b)"><path d="M916.0,238.4 L976.0,225.0 L1014.0,244.0 L1001.0,281.0 L1026.3,281.0 L998.2,299.3 L971.6,322.4 L937.9,357.8 L904.2,388.1" stroke="#001010" stroke-width="20" fill="none" filter="url(#blur6)" opacity="0.65"/><path d="M976.0,225.0 L1014.0,244.0" stroke="#000" stroke-width="3" fill="none"/><path d="M925.0,232.0 L976.0,225.0 L1014.0,244.0 L1001.0,281.0 L990.0,300.0 L960.0,320.0 L935.0,330.0 Z" fill="#102810" opacity="0.3" filter="url(#blur6)"/><path d="M823.4,383.0 C825.6,384.4 831.8,389.2 836.8,391.5 C841.8,393.8 848.1,395.4 853.7,396.5 C859.3,397.6 864.9,398.5 870.5,398.2 C876.1,397.9 881.8,396.5 887.4,394.8 C893.0,393.1 901.4,389.2 904.2,388.1" stroke="#0010a0" stroke-width="8" fill="none" filter="url(#blur3)" opacity="0.6"/></g>
<path d="M822.9,379.4 L825.5,372.4 L830.8,361.8 L837.8,347.8 L846.6,332.0 L857.2,314.4 L867.7,296.8 L880.0,279.2 L892.3,261.6 L906.4,245.8 L920.4,233.5 L945.0,230.0 L976.0,225.0 L1014.0,244.0 L1008.0,258.6 L1003.9,269.8 L1001.0,281.0 L1026.3,281.0 L1012.3,289.5 L998.2,299.3 L988.4,307.3 L978.6,314.7 L971.6,322.4 L954.7,341.0 L935.0,370.6 L920.4,381.1 L902.9,390.0 L885.3,395.2 L867.7,397.0 L850.1,395.2 L832.6,389.0 L822.9,381.1 Z" fill="url(#meshW)"/>
<path d="M910.0,318.0 L911.8,300.5 L914.3,275.3 L917.3,251.0 L918.5,238.4 L923.6,223.3 L933.7,208.1 L946.3,194.2 L965.3,176.5 L984.2,161.4 L1000.0,150.0 L1014.7,140.4 L1031.6,132.0 L1048.4,127.0 L1065.3,125.0 L1080.0,123.8 L1093.7,124.4 L1110.5,129.5 L1127.4,137.9 L1144.2,148.8 L1161.0,160.6 L1177.9,175.8 L1194.7,194.3 L1211.6,214.5 L1228.4,234.7 L1245.3,256.6 L1258.0,268.0 L1271.4,279.5 L1247.4,272.6 L1224.0,261.7 L1200.8,250.8 L1180.7,245.4 L1172.0,243.5 L1166.1,243.8 L1157.8,238.3 L1146.8,229.8 L1128.8,216.0 L1108.3,201.8 L1083.1,188.4 L1057.8,174.8 L1042.5,174.0 L1040.0,185.0 L1038.6,192.6 L1034.0,201.0 L1027.0,221.7 L1002.5,199.6 L976.0,225.0 L962.7,238.4 L953.9,251.0 L946.3,272.0 L929.5,300.5 L910.0,318.0 Z" fill="url(#g_U_b)"/>
<g clip-path="url(#cp_U_b)"><path d="M910.0,318.0 L911.8,300.5 L914.3,275.3 L918.5,238.4 L923.6,223.3 L933.7,208.1 L946.3,194.2 L965.3,176.5 L984.2,161.4 L1000.0,150.0 L1002.5,199.6 L976.0,225.0 L962.7,238.4 L953.9,251.0 L946.3,272.0 L929.5,300.5 Z" fill="url(#g_band_b)" filter="url(#blur3)"/><path d="M1000.0,194.0 C1000.9,191.6 1004.7,187.7 1008.0,185.0 C1011.3,182.3 1015.8,180.0 1020.0,178.0 C1024.2,176.0 1029.2,174.0 1033.0,173.0 C1036.8,172.0 1042.0,168.7 1043.0,172.0 C1044.0,175.3 1040.5,187.8 1039.0,192.6 C1037.5,197.4 1036.0,196.3 1034.0,201.0 C1032.0,205.7 1032.2,221.2 1027.0,221.0 C1021.8,220.8 1007.0,204.1 1002.5,199.6 C998.0,195.1 999.1,196.4 1000.0,194.0 Z" fill="url(#g_strip_b)" opacity="0.95"/><path d="M933.7,208.1 C935.8,205.8 941.0,199.5 946.3,194.2 C951.6,188.9 959.0,182.0 965.3,176.5 C971.6,171.0 978.4,165.8 984.2,161.4 C990.0,157.0 994.9,153.5 1000.0,150.0 C1005.1,146.5 1009.4,143.4 1014.7,140.4 C1020.0,137.4 1026.0,134.2 1031.6,132.0 C1037.2,129.8 1042.8,128.2 1048.4,127.0 C1054.0,125.8 1060.0,125.5 1065.3,125.0 C1070.6,124.5 1075.3,123.9 1080.0,123.8 C1084.7,123.7 1088.6,123.5 1093.7,124.4 C1098.8,125.4 1104.9,127.2 1110.5,129.5 C1116.1,131.8 1121.8,134.7 1127.4,137.9 C1133.0,141.1 1138.6,145.0 1144.2,148.8 C1149.8,152.6 1155.4,156.1 1161.0,160.6 C1166.6,165.1 1172.3,170.2 1177.9,175.8 C1183.5,181.4 1189.1,187.9 1194.7,194.3 C1200.3,200.8 1206.0,207.8 1211.6,214.5 C1217.2,221.2 1222.8,227.7 1228.4,234.7 C1234.0,241.7 1240.4,251.1 1245.3,256.6 C1250.2,262.2 1253.7,264.2 1258.0,268.0 C1262.3,271.8 1269.2,277.6 1271.4,279.5" stroke="#000" stroke-width="16" fill="none" filter="url(#blur3)" opacity="0.85"/><path d="M910.0,318.0 C910.3,315.1 911.1,307.6 911.8,300.5 C912.5,293.4 913.4,283.6 914.3,275.3 C915.2,267.1 916.6,257.1 917.3,251.0 C918.0,244.8 917.5,243.0 918.5,238.4 C919.5,233.8 921.1,228.4 923.6,223.3 C926.1,218.2 929.9,212.9 933.7,208.1 C937.5,203.2 941.0,199.5 946.3,194.2 C951.6,188.9 959.0,182.0 965.3,176.5 C971.6,171.0 978.4,165.8 984.2,161.4 C990.0,157.0 994.9,153.5 1000.0,150.0 C1005.1,146.5 1009.4,143.4 1014.7,140.4 C1020.0,137.4 1026.0,134.2 1031.6,132.0 C1037.2,129.8 1042.8,128.2 1048.4,127.0 C1054.0,125.8 1060.0,125.5 1065.3,125.0 C1070.6,124.5 1075.3,123.9 1080.0,123.8 C1084.7,123.7 1088.6,123.5 1093.7,124.4 C1098.8,125.4 1104.9,127.2 1110.5,129.5 C1116.1,131.8 1121.8,134.7 1127.4,137.9 C1133.0,141.1 1138.6,145.0 1144.2,148.8 C1149.8,152.6 1155.4,156.1 1161.0,160.6 C1166.6,165.1 1172.3,170.2 1177.9,175.8 C1183.5,181.4 1189.1,187.9 1194.7,194.3 C1200.3,200.8 1206.0,207.8 1211.6,214.5 C1217.2,221.2 1222.8,227.7 1228.4,234.7 C1234.0,241.7 1240.4,251.1 1245.3,256.6 C1250.2,262.2 1253.7,264.2 1258.0,268.0 C1262.3,271.8 1269.2,277.6 1271.4,279.5" stroke="#000" stroke-width="5" fill="none"/><path d="M1271.4,279.5 L1247.4,272.6 L1224.0,261.7 L1200.8,250.8 L1180.7,245.4 L1172.0,243.5" stroke="#000" stroke-width="5" fill="none" filter="url(#blur3)" opacity="0.8"/></g>
<path d="M910.0,318.0 L911.8,300.5 L914.3,275.3 L917.3,251.0 L918.5,238.4 L923.6,223.3 L933.7,208.1 L946.3,194.2 L965.3,176.5 L984.2,161.4 L1000.0,150.0 L1014.7,140.4 L1031.6,132.0 L1048.4,127.0 L1065.3,125.0 L1080.0,123.8 L1093.7,124.4 L1110.5,129.5 L1127.4,137.9 L1144.2,148.8 L1161.0,160.6 L1177.9,175.8 L1194.7,194.3 L1211.6,214.5 L1228.4,234.7 L1245.3,256.6 L1258.0,268.0 L1271.4,279.5 L1247.4,272.6 L1224.0,261.7 L1200.8,250.8 L1180.7,245.4 L1172.0,243.5 L1166.1,243.8 L1157.8,238.3 L1146.8,229.8 L1128.8,216.0 L1108.3,201.8 L1083.1,188.4 L1057.8,174.8 L1042.5,174.0 L1040.0,185.0 L1038.6,192.6 L1034.0,201.0 L1027.0,221.7 L1002.5,199.6 L976.0,225.0 L962.7,238.4 L953.9,251.0 L946.3,272.0 L929.5,300.5 L910.0,318.0 Z" fill="url(#meshU)"/>
<polygon points="867.5,397.0 874.5,397.5 867.0,421.0" fill="#0a0a6a"/>
<path d="M1042.0,171.0 L1060.0,174.0 L1085.3,187.6 L1110.5,201.0 L1131.0,215.2 L1149.0,229.0 L1160.0,237.5 L1168.3,243.0 L1180.0,257.0 L1187.0,266.3 L1197.0,281.0 L1208.6,297.4 L1228.4,327.5 L1245.3,354.4 L1262.0,381.4 L1270.5,394.8 L1245.8,374.2 L1216.9,356.8 L1194.7,346.0 L1173.4,338.0 L1144.2,326.0 L1119.0,317.0 L1093.7,309.0 L1076.8,305.6 L1060.0,303.9 L1041.8,300.7 L1032.0,278.2 L1006.7,283.9 L1001.0,281.0 L1003.9,269.8 L1008.0,258.6 L1014.0,244.0 L1016.5,239.0 L1025.0,220.7 L1032.0,201.0 L1036.6,192.6 Z" fill="url(#g_Lf_b)"/>
<g clip-path="url(#cp_Lf_b)"><path d="M1032.0,278.2 L1041.8,300.7 L1060.0,303.9 L1076.8,305.6 L1093.7,309.0 L1119.0,315.7 L1132.0,312.0 L1128.0,285.0 L1080.0,276.0 L1050.0,276.0 Z" fill="url(#g_tun_b)"/><path d="M998.0,272.0 C1005.0,271.3 1026.3,268.7 1040.0,268.0 C1053.7,267.3 1068.3,267.5 1080.0,268.0 C1091.7,268.5 1100.8,269.3 1110.0,271.0 C1119.2,272.7 1130.8,276.8 1135.0,278.0" stroke="#000" stroke-width="13" fill="none" filter="url(#blur3)" opacity="0.97"/><path d="M1030.0,301.0 C1038.3,301.8 1065.0,303.3 1080.0,306.0 C1095.0,308.7 1104.5,311.7 1120.0,317.0 C1135.5,322.3 1156.8,331.3 1173.0,338.0 C1189.2,344.7 1200.7,347.5 1217.0,357.0 C1233.3,366.5 1262.0,388.7 1271.0,395.0" stroke="#000" stroke-width="6" fill="none" filter="url(#blur3)" opacity="0.65"/><ellipse cx="1150" cy="300" rx="28" ry="22" fill="#001818" opacity="0.5" filter="url(#blur10)"/></g>
<path d="M1042.0,171.0 L1060.0,174.0 L1085.3,187.6 L1110.5,201.0 L1131.0,215.2 L1149.0,229.0 L1160.0,237.5 L1168.3,243.0 L1180.0,257.0 L1187.0,266.3 L1197.0,281.0 L1208.6,297.4 L1228.4,327.5 L1245.3,354.4 L1262.0,381.4 L1270.5,394.8 L1245.8,374.2 L1216.9,356.8 L1194.7,346.0 L1173.4,338.0 L1144.2,326.0 L1119.0,317.0 L1093.7,309.0 L1076.8,305.6 L1060.0,303.9 L1041.8,300.7 L1032.0,278.2 L1006.7,283.9 L1001.0,281.0 L1003.9,269.8 L1008.0,258.6 L1014.0,244.0 L1016.5,239.0 L1025.0,220.7 L1032.0,201.0 L1036.6,192.6 Z" fill="url(#meshL)"/>
<polygon points="1200.0,104.4 1185.5,147.1 1191.6,152.9 1169.2,159.4 1162.7,137.4 1169.5,139.9" fill="#ed7d31"/>
<polygon points="1024.5,365.8 1045.5,323.0 1040.4,317.2 1065.0,315.4 1067.6,338.6 1060.7,335.7" fill="#ed7d31"/>
<circle cx="823.1" cy="428.2" r="6.8" fill="#000" fill-opacity="1"/>
<circle cx="866.9" cy="434.0" r="6.8" fill="#000" fill-opacity="1"/>
<circle cx="912.1" cy="439.1" r="6.8" fill="#000" fill-opacity="1"/>
<circle cx="957.0" cy="444.6" r="6.8" fill="#000" fill-opacity="1"/>
<circle cx="1001.9" cy="447.5" r="6.8" fill="#000" fill-opacity="1"/>
<circle cx="1047.5" cy="450.0" r="6.8" fill="#000" fill-opacity="1"/>
<circle cx="1046.7" cy="112.6" r="6.8" fill="#000" fill-opacity="1"/>
<circle cx="1092.2" cy="116.0" r="6.8" fill="#000" fill-opacity="1"/>
<circle cx="1001.3" cy="145.5" r="6.8" fill="#000" fill-opacity="1"/>
<circle cx="956.6" cy="177.5" r="6.8" fill="#000" fill-opacity="1"/>
<circle cx="1046.7" cy="163.2" r="6.8" fill="#000" fill-opacity="1"/>
<circle cx="1092.2" cy="165.7" r="6.8" fill="#000" fill-opacity="1"/>
<circle cx="1091.4" cy="180.8" r="6.8" fill="#000" fill-opacity="1"/>
<circle cx="1001.3" cy="191.8" r="6.8" fill="#000" fill-opacity="1"/>
<circle cx="1226.7" cy="228.0" r="6.8" fill="#000" fill-opacity="1"/>
<circle cx="1226.7" cy="262.6" r="6.8" fill="#000" fill-opacity="1"/>
<circle cx="1271.4" cy="279.5" r="6.8" fill="#000" fill-opacity="1"/>
<circle cx="956.4" cy="265.2" r="6.8" fill="#000" fill-opacity="1"/>
<circle cx="911.0" cy="317.4" r="6.8" fill="#000" fill-opacity="1"/>
<circle cx="1137.5" cy="152.0" r="6.2" fill="#000" fill-opacity="0.6"/>
<circle cx="1135.8" cy="186.0" r="6.2" fill="#000" fill-opacity="0.6"/>
<circle cx="1181.3" cy="184.2" r="6.2" fill="#000" fill-opacity="0.6"/>
<circle cx="1180.0" cy="206.0" r="6.2" fill="#000" fill-opacity="0.6"/>
<circle cx="1181.0" cy="245.4" r="6.2" fill="#000" fill-opacity="0.6"/>
<polygon points="1038.7,185.1 1054.7,185.1 1046.7,171.6" fill="#00f000" fill-opacity="1"/>
<polygon points="1084.2,200.2 1100.2,200.2 1092.2,186.8" fill="#00f000" fill-opacity="1"/>
<polygon points="994.0,244.1 1010.0,244.1 1002.0,230.6" fill="#00f000" fill-opacity="1"/>
<polygon points="1128.6,229.8 1144.6,229.8 1136.6,216.2" fill="#00f000" fill-opacity="1"/>
<polygon points="1084.0,287.9 1100.0,287.9 1092.0,274.4" fill="#00f000" fill-opacity="1"/>
<polygon points="1128.6,280.4 1144.6,280.4 1136.6,266.9" fill="#00f000" fill-opacity="1"/>
<polygon points="1175.0,280.4 1191.0,280.4 1183.0,266.9" fill="#00f000" fill-opacity="1"/>
<polygon points="1129.5,302.2 1145.5,302.2 1137.5,288.8" fill="#00f000" fill-opacity="1"/>
<polygon points="1175.0,320.8 1191.0,320.8 1183.0,307.2" fill="#00f000" fill-opacity="1"/>
<polygon points="1218.7,330.8 1234.7,330.8 1226.7,317.2" fill="#00f000" fill-opacity="1"/>
<polygon points="1084.0,319.1 1100.0,319.1 1092.0,305.6" fill="#00f000" fill-opacity="1"/>
<polygon points="1129.5,332.6 1145.5,332.6 1137.5,319.1" fill="#00f000" fill-opacity="1"/>
<polygon points="1263.4,372.9 1279.4,372.9 1271.4,359.4" fill="#00f000" fill-opacity="1"/>
<polygon points="815.4,372.9 831.4,372.9 823.4,359.4" fill="#00f000" fill-opacity="1"/>
<polygon points="859.2,388.1 875.2,388.1 867.2,374.6" fill="#00f000" fill-opacity="1"/>
<polygon points="903.8,393.1 919.8,393.1 911.8,379.6" fill="#00f000" fill-opacity="1"/>
<polygon points="949.3,367.9 965.3,367.9 957.3,354.4" fill="#00f000" fill-opacity="1"/>
<polygon points="994.7,284.6 1010.7,284.6 1002.7,271.1" fill="#00f000" fill-opacity="1"/>
<polygon points="1039.4,281.1 1055.4,281.1 1047.4,267.6" fill="#00f000" fill-opacity="1"/>
<polygon points="997.3,305.6 1013.3,305.6 1005.3,292.1" fill="#00f000" fill-opacity="0.6"/>
<polygon points="1036.0,305.6 1052.0,305.6 1044.0,292.1" fill="#00f000" fill-opacity="0.6"/>
<polygon points="945.0,325.8 961.0,325.8 953.0,312.2" fill="#00f000" fill-opacity="0.6"/>
<polygon points="1173.3,344.5 1182.3,344.5 1177.8,337.5" fill="#00f000" fill-opacity="0.8"/>
<rect x="1307.3" y="58.7" width="25" height="413.3" fill="url(#jet_b)" stroke="#000" stroke-opacity="0.3" stroke-width="0.8"/>
<rect x="17.7" y="603" width="107.3" height="131" fill="url(#c_t1)"/>
<rect x="125" y="603" width="190" height="131" fill="url(#c_t2)"/>
<rect x="315" y="603" width="197" height="131" fill="url(#c_t3)"/>
<rect x="512" y="603" width="178.60000000000002" height="131" fill="url(#c_t4)"/>
<rect x="17.7" y="752" width="114.3" height="125.5" fill="url(#c_b1)"/>
<rect x="132" y="752" width="200" height="125.5" fill="url(#c_b2)"/>
<rect x="332" y="752" width="183" height="125.5" fill="url(#c_b3)"/>
<rect x="515" y="752" width="175.60000000000002" height="125.5" fill="url(#c_b4)"/>
<rect x="17.7" y="603" width="672.9" height="274.5" fill="url(#noise1)" opacity="0.35"/>
<rect x="17.7" y="734" width="672.9" height="18" fill="#fff"/>
<polyline points="21.4,733 19.7,742.4 22.4,753" fill="none" stroke="#5a5630" stroke-width="1.2" stroke-opacity="0.7"/><polyline points="22.0,733 25.4,748.1 21.7,753" fill="none" stroke="#5a5630" stroke-width="1.2" stroke-opacity="0.7"/><polyline points="32.2,733 30.8,743.1 29.1,753" fill="none" stroke="#4a4030" stroke-width="1.2" stroke-opacity="0.7"/><polyline points="32.8,733 36.7,739.2 33.7,753" fill="none" stroke="#6a5020" stroke-width="1.2" stroke-opacity="0.7"/><polyline points="44.4,733 42.2,744.6 40.3,753" fill="none" stroke="#4a4030" stroke-width="1.2" stroke-opacity="0.7"/><polyline points="52.7,733 48.9,738.1 45.8,753" fill="none" stroke="#4a4030" stroke-width="1.2" stroke-opacity="0.7"/><line x1="48.9" y1="738.1" x2="53.6" y2="738.1" stroke="#4a4030" stroke-width="1" stroke-opacity="0.7"/><polyline points="54.8,733 53.6,738.1 56.0,753" fill="none" stroke="#6a5020" stroke-width="1.2" stroke-opacity="0.7"/><polyline points="57.9,733 60.3,745.3 60.1,753" fill="none" stroke="#5a2a20" stroke-width="1.2" stroke-opacity="0.7"/><line x1="60.3" y1="745.3" x2="64.0" y2="748.8" stroke="#5a2a20" stroke-width="1" stroke-opacity="0.7"/><polyline points="66.0,733 64.0,748.8 64.3,753" fill="none" stroke="#4a4030" stroke-width="1.2" stroke-opacity="0.7"/><line x1="64.0" y1="748.8" x2="71.3" y2="744.8" stroke="#4a4030" stroke-width="1" stroke-opacity="0.7"/><polyline points="69.5,733 71.3,744.8 70.1,753" fill="none" stroke="#5a2a20" stroke-width="1.2" stroke-opacity="0.7"/><polyline points="77.3,733 77.3,738.9 81.3,753" fill="none" stroke="#6a5020" stroke-width="1.2" stroke-opacity="0.7"/><line x1="77.3" y1="738.9" x2="80.9" y2="743.3" stroke="#6a5020" stroke-width="1" stroke-opacity="0.7"/><polyline points="77.6,733 80.9,743.3 84.3,753" fill="none" stroke="#5a2a20" stroke-width="1.2" stroke-opacity="0.7"/><polyline points="84.2,733 84.6,739.3 82.2,753" fill="none" stroke="#5a2a20" stroke-width="1.2" stroke-opacity="0.7"/><polyline points="88.1,733 89.1,737.4 89.6,753" fill="none" stroke="#4a4030" stroke-width="1.2" stroke-opacity="0.7"/><polyline points="94.1,733 94.4,742.3 95.6,753" fill="none" stroke="#5a5630" stroke-width="1.2" stroke-opacity="0.7"/><line x1="94.4" y1="742.3" x2="101.3" y2="743.2" stroke="#5a5630" stroke-width="1" stroke-opacity="0.7"/><polyline points="99.0,733 101.3,743.2 104.5,753" fill="none" stroke="#4a4030" stroke-width="1.2" stroke-opacity="0.7"/><polyline points="107.7,733 107.4,743.0 109.7,753" fill="none" stroke="#5a5630" stroke-width="1.2" stroke-opacity="0.7"/><line x1="107.4" y1="743.0" x2="113.5" y2="742.5" stroke="#5a5630" stroke-width="1" stroke-opacity="0.7"/><polyline points="112.3,733 113.5,742.5 110.2,753" fill="none" stroke="#4a4030" stroke-width="1.2" stroke-opacity="0.7"/><polyline points="117.5,733 118.1,749.0 116.3,753" fill="none" stroke="#6a5020" stroke-width="1.2" stroke-opacity="0.7"/><polyline points="128.1,733 125.6,747.1 122.1,753" fill="none" stroke="#5a2a20" stroke-width="1.2" stroke-opacity="0.7"/><polyline points="132.2,733 131.9,740.8 133.4,753" fill="none" stroke="#5a2a20" stroke-width="1.2" stroke-opacity="0.7"/><polyline points="133.5,733 136.4,740.5 136.5,753" fill="none" stroke="#40281c" stroke-width="1.2" stroke-opacity="0.7"/><polyline points="143.7,733 140.1,746.2 140.1,753" fill="none" stroke="#40281c" stroke-width="1.2" stroke-opacity="0.7"/><polyline points="147.3,733 145.2,747.2 144.8,753" fill="none" stroke="#4a4030" stroke-width="1.2" stroke-opacity="0.7"/><polyline points="151.4,733 150.3,748.5 150.5,753" fill="none" stroke="#6a5020" stroke-width="1.2" stroke-opacity="0.7"/><polyline points="155.2,733 157.2,737.0 158.5,753" fill="none" stroke="#6a5020" stroke-width="1.2" stroke-opacity="0.7"/><polyline points="159.2,733 161.5,747.9 164.3,753" fill="none" stroke="#6a5020" stroke-width="1.2" stroke-opacity="0.7"/><polyline points="165.1,733 166.9,748.8 166.9,753" fill="none" stroke="#6a5020" stroke-width="1.2" stroke-opacity="0.7"/><polyline points="172.0,733 172.0,737.9 172.8,753" fill="none" stroke="#4a4030" stroke-width="1.2" stroke-opacity="0.7"/><line x1="172.0" y1="737.9" x2="178.0" y2="746.3" stroke="#4a4030" stroke-width="1" stroke-opacity="0.7"/><polyline points="178.1,733 178.0,746.3 177.2,753" fill="none" stroke="#4a4030" stroke-width="1.2" stroke-opacity="0.7"/><polyline points="179.6,733 182.6,738.0 179.3,753" fill="none" stroke="#6a5020" stroke-width="1.2" stroke-opacity="0.7"/><line x1="182.6" y1="738.0" x2="187.4" y2="748.6" stroke="#6a5020" stroke-width="1" stroke-opacity="0.7"/><polyline points="187.1,733 187.4,748.6 190.8,753" fill="none" stroke="#6a5020" stroke-width="1.2" stroke-opacity="0.7"/><polyline points="192.1,733 193.9,738.4 193.7,753" fill="none" stroke="#40281c" stroke-width="1.2" stroke-opacity="0.7"/><line x1="193.9" y1="738.4" x2="198.4" y2="738.2" stroke="#40281c" stroke-width="1" stroke-opacity="0.7"/><polyline points="201.6,733 198.4,738.2 201.9,753" fill="none" stroke="#40281c" stroke-width="1.2" stroke-opacity="0.7"/><polyline points="200.7,733 202.2,746.6 199.7,753" fill="none" stroke="#6a5020" stroke-width="1.2" stroke-opacity="0.7"/><polyline points="203.4,733 206.4,743.7 208.6,753" fill="none" stroke="#5a5630" stroke-width="1.2" stroke-opacity="0.7"/><line x1="206.4" y1="743.7" x2="211.7" y2="739.3" stroke="#5a5630" stroke-width="1" stroke-opacity="0.7"/><polyline points="208.9,733 211.7,739.3 207.8,753" fill="none" stroke="#5a2a20" stroke-width="1.2" stroke-opacity="0.7"/><line x1="211.7" y1="739.3" x2="218.1" y2="738.6" stroke="#5a2a20" stroke-width="1" stroke-opacity="0.7"/><polyline points="216.1,733 218.1,738.6 218.1,753" fill="none" stroke="#5a5630" stroke-width="1.2" stroke-opacity="0.7"/><polyline points="221.2,733 224.2,738.4 224.3,753" fill="none" stroke="#6a5020" stroke-width="1.2" stroke-opacity="0.7"/><line x1="224.2" y1="738.4" x2="229.4" y2="739.6" stroke="#6a5020" stroke-width="1" stroke-opacity="0.7"/><polyline points="231.0,733 229.4,739.6 232.4,753" fill="none" stroke="#5a2a20" stroke-width="1.2" stroke-opacity="0.7"/><line x1="229.4" y1="739.6" x2="233.9" y2="748.7" stroke="#5a2a20" stroke-width="1" stroke-opacity="0.7"/><polyline points="236.5,733 233.9,748.7 234.9,753" fill="none" stroke="#40281c" stroke-width="1.2" stroke-opacity="0.7"/><polyline points="241.8,733 240.6,740.6 240.9,753" fill="none" stroke="#6a5020" stroke-width="1.2" stroke-opacity="0.7"/><polyline points="248.4,733 247.7,739.5 244.8,753" fill="none" stroke="#6a5020" stroke-width="1.2" stroke-opacity="0.7"/><polyline points="256.0,733 252.8,747.3 251.3,753" fill="none" stroke="#5a5630" stroke-width="1.2" stroke-opacity="0.7"/><line x1="252.8" y1="747.3" x2="258.8" y2="738.2" stroke="#5a5630" stroke-width="1" stroke-opacity="0.7"/><polyline points="256.6,733 258.8,738.2 262.8,753" fill="none" stroke="#5a2a20" stroke-width="1.2" stroke-opacity="0.7"/><polyline points="269.4,733 266.3,739.6 263.4,753" fill="none" stroke="#5a2a20" stroke-width="1.2" stroke-opacity="0.7"/><line x1="266.3" y1="739.6" x2="270.8" y2="746.3" stroke="#5a2a20" stroke-width="1" stroke-opacity="0.7"/><polyline points="267.6,733 270.8,746.3 273.5,753" fill="none" stroke="#40281c" stroke-width="1.2" stroke-opacity="0.7"/><polyline points="273.2,733 275.6,740.6 276.7,753" fill="none" stroke="#5a2a20" stroke-width="1.2" stroke-opacity="0.7"/><polyline points="277.0,733 279.4,738.1 280.9,753" fill="none" stroke="#4a4030" stroke-width="1.2" stroke-opacity="0.7"/><polyline points="282.2,733 285.3,739.9 285.3,753" fill="none" stroke="#5a5630" stroke-width="1.2" stroke-opacity="0.7"/><polyline points="295.2,733 291.2,741.5 293.8,753" fill="none" stroke="#6a5020" stroke-width="1.2" stroke-opacity="0.7"/><polyline points="293.3,733 296.5,748.5 292.8,753" fill="none" stroke="#40281c" stroke-width="1.2" stroke-opacity="0.7"/><polyline points="305.2,733 301.9,743.9 301.8,753" fill="none" stroke="#6a5020" stroke-width="1.2" stroke-opacity="0.7"/><line x1="301.9" y1="743.9" x2="308.9" y2="739.2" stroke="#6a5020" stroke-width="1" stroke-opacity="0.7"/><polyline points="306.5,733 308.9,739.2 311.6,753" fill="none" stroke="#4a4030" stroke-width="1.2" stroke-opacity="0.7"/><polyline points="313.6,733 313.0,747.9 310.1,753" fill="none" stroke="#4a4030" stroke-width="1.2" stroke-opacity="0.7"/><polyline points="321.9,733 319.8,740.0 318.4,753" fill="none" stroke="#4a4030" stroke-width="1.2" stroke-opacity="0.7"/><polyline points="322.9,733 324.0,745.9 321.7,753" fill="none" stroke="#6a5020" stroke-width="1.2" stroke-opacity="0.7"/><polyline points="334.0,733 331.3,739.4 328.7,753" fill="none" stroke="#4a4030" stroke-width="1.2" stroke-opacity="0.7"/><polyline points="337.8,733 338.6,747.6 336.2,753" fill="none" stroke="#5a5630" stroke-width="1.2" stroke-opacity="0.7"/><line x1="338.6" y1="747.6" x2="344.5" y2="742.1" stroke="#5a5630" stroke-width="1" stroke-opacity="0.7"/><polyline points="346.8,733 344.5,742.1 343.1,753" fill="none" stroke="#6a5020" stroke-width="1.2" stroke-opacity="0.7"/><line x1="344.5" y1="742.1" x2="348.4" y2="737.5" stroke="#6a5020" stroke-width="1" stroke-opacity="0.7"/><polyline points="349.0,733 348.4,737.5 345.9,753" fill="none" stroke="#40281c" stroke-width="1.2" stroke-opacity="0.7"/><polyline points="358.2,733 355.8,739.9 353.8,753" fill="none" stroke="#5a5630" stroke-width="1.2" stroke-opacity="0.7"/><polyline points="364.6,733 362.1,740.1 361.3,753" fill="none" stroke="#5a2a20" stroke-width="1.2" stroke-opacity="0.7"/><polyline points="370.4,733 368.9,744.2 371.0,753" fill="none" stroke="#6a5020" stroke-width="1.2" stroke-opacity="0.7"/><polyline points="371.2,733 373.6,739.1 371.0,753" fill="none" stroke="#40281c" stroke-width="1.2" stroke-opacity="0.7"/><polyline points="379.7,733 379.9,737.8 376.0,753" fill="none" stroke="#5a5630" stroke-width="1.2" stroke-opacity="0.7"/><polyline points="380.8,733 384.4,743.7 382.5,753" fill="none" stroke="#6a5020" stroke-width="1.2" stroke-opacity="0.7"/><polyline points="390.0,733 391.3,744.4 392.5,753" fill="none" stroke="#5a5630" stroke-width="1.2" stroke-opacity="0.7"/><polyline points="392.5,733 395.9,748.0 396.0,753" fill="none" stroke="#6a5020" stroke-width="1.2" stroke-opacity="0.7"/><polyline points="401.8,733 400.2,737.2 402.3,753" fill="none" stroke="#5a2a20" stroke-width="1.2" stroke-opacity="0.7"/><polyline points="401.7,733 404.8,742.3 401.6,753" fill="none" stroke="#4a4030" stroke-width="1.2" stroke-opacity="0.7"/><line x1="404.8" y1="742.3" x2="408.5" y2="739.1" stroke="#4a4030" stroke-width="1" stroke-opacity="0.7"/><polyline points="407.7,733 408.5,739.1 404.9,753" fill="none" stroke="#40281c" stroke-width="1.2" stroke-opacity="0.7"/><line x1="408.5" y1="739.1" x2="413.5" y2="743.9" stroke="#40281c" stroke-width="1" stroke-opacity="0.7"/><polyline points="409.6,733 413.5,743.9 411.6,753" fill="none" stroke="#40281c" stroke-width="1.2" stroke-opacity="0.7"/><line x1="413.5" y1="743.9" x2="417.5" y2="741.3" stroke="#40281c" stroke-width="1" stroke-opacity="0.7"/><polyline points="417.9,733 417.5,741.3 417.6,753" fill="none" stroke="#5a5630" stroke-width="1.2" stroke-opacity="0.7"/><polyline points="427.4,733 424.6,748.8 421.4,753" fill="none" stroke="#6a5020" stroke-width="1.2" stroke-opacity="0.7"/><polyline points="431.1,733 430.7,745.3 432.1,753" fill="none" stroke="#4a4030" stroke-width="1.2" stroke-opacity="0.7"/><polyline points="440.0,733 436.5,738.7 433.8,753" fill="none" stroke="#40281c" stroke-width="1.2" stroke-opacity="0.7"/><polyline points="443.0,733 440.2,737.2 440.5,753" fill="none" stroke="#5a2a20" stroke-width="1.2" stroke-opacity="0.7"/><polyline points="450.9,733 447.3,745.4 446.7,753" fill="none" stroke="#40281c" stroke-width="1.2" stroke-opacity="0.7"/><polyline points="453.2,733 454.7,737.3 454.9,753" fill="none" stroke="#6a5020" stroke-width="1.2" stroke-opacity="0.7"/><polyline points="461.2,733 460.7,742.8 459.0,753" fill="none" stroke="#5a5630" stroke-width="1.2" stroke-opacity="0.7"/><polyline points="463.4,733 467.1,740.8 469.3,753" fill="none" stroke="#5a5630" stroke-width="1.2" stroke-opacity="0.7"/><polyline points="473.9,733 474.6,737.9 476.1,753" fill="none" stroke="#5a2a20" stroke-width="1.2" stroke-opacity="0.7"/><line x1="474.6" y1="737.9" x2="480.3" y2="745.8" stroke="#5a2a20" stroke-width="1" stroke-opacity="0.7"/><polyline points="482.3,733 480.3,745.8 476.7,753" fill="none" stroke="#5a5630" stroke-width="1.2" stroke-opacity="0.7"/><polyline points="484.0,733 487.4,745.8 490.7,753" fill="none" stroke="#5a5630" stroke-width="1.2" stroke-opacity="0.7"/><polyline points="491.8,733 493.7,746.5 495.8,753" fill="none" stroke="#40281c" stroke-width="1.2" stroke-opacity="0.7"/><line x1="493.7" y1="746.5" x2="500.9" y2="741.2" stroke="#40281c" stroke-width="1" stroke-opacity="0.7"/><polyline points="504.4,733 500.9,741.2 502.7,753" fill="none" stroke="#4a4030" stroke-width="1.2" stroke-opacity="0.7"/><polyline points="508.0,733 507.1,747.8 504.1,753" fill="none" stroke="#5a2a20" stroke-width="1.2" stroke-opacity="0.7"/><polyline points="511.1,733 514.1,742.0 517.0,753" fill="none" stroke="#40281c" stroke-width="1.2" stroke-opacity="0.7"/><polyline points="517.8,733 520.8,747.4 520.3,753" fill="none" stroke="#5a2a20" stroke-width="1.2" stroke-opacity="0.7"/><polyline points="527.4,733 526.6,744.5 527.7,753" fill="none" stroke="#40281c" stroke-width="1.2" stroke-opacity="0.7"/><polyline points="533.8,733 531.6,744.0 531.9,753" fill="none" stroke="#5a5630" stroke-width="1.2" stroke-opacity="0.7"/><polyline points="539.4,733 537.5,738.0 535.5,753" fill="none" stroke="#5a5630" stroke-width="1.2" stroke-opacity="0.7"/><line x1="537.5" y1="738.0" x2="543.6" y2="748.9" stroke="#5a5630" stroke-width="1" stroke-opacity="0.7"/><polyline points="545.9,733 543.6,748.9 544.6,753" fill="none" stroke="#5a5630" stroke-width="1.2" stroke-opacity="0.7"/><polyline points="551.5,733 550.6,745.7 552.4,753" fill="none" stroke="#5a5630" stroke-width="1.2" stroke-opacity="0.7"/><polyline points="556.7,733 555.7,745.8 557.7,753" fill="none" stroke="#5a2a20" stroke-width="1.2" stroke-opacity="0.7"/><line x1="555.7" y1="745.8" x2="561.5" y2="742.3" stroke="#5a2a20" stroke-width="1" stroke-opacity="0.7"/><polyline points="561.5,733 561.5,742.3 562.7,753" fill="none" stroke="#5a2a20" stroke-width="1.2" stroke-opacity="0.7"/><line x1="561.5" y1="742.3" x2="568.4" y2="738.0" stroke="#5a2a20" stroke-width="1" stroke-opacity="0.7"/><polyline points="569.4,733 568.4,738.0 564.4,753" fill="none" stroke="#4a4030" stroke-width="1.2" stroke-opacity="0.7"/><line x1="568.4" y1="738.0" x2="574.9" y2="737.4" stroke="#4a4030" stroke-width="1" stroke-opacity="0.7"/><polyline points="575.8,733 574.9,737.4 571.7,753" fill="none" stroke="#4a4030" stroke-width="1.2" stroke-opacity="0.7"/><polyline points="582.8,733 580.8,742.8 584.1,753" fill="none" stroke="#4a4030" stroke-width="1.2" stroke-opacity="0.7"/><line x1="580.8" y1="742.8" x2="585.2" y2="745.4" stroke="#4a4030" stroke-width="1" stroke-opacity="0.7"/><polyline points="586.2,733 585.2,745.4 584.2,753" fill="none" stroke="#5a2a20" stroke-width="1.2" stroke-opacity="0.7"/><polyline points="589.4,733 590.7,744.4 590.6,753" fill="none" stroke="#5a2a20" stroke-width="1.2" stroke-opacity="0.7"/><line x1="590.7" y1="744.4" x2="597.9" y2="740.1" stroke="#5a2a20" stroke-width="1" stroke-opacity="0.7"/><polyline points="600.3,733 597.9,740.1 597.4,753" fill="none" stroke="#4a4030" stroke-width="1.2" stroke-opacity="0.7"/><polyline points="601.0,733 601.4,740.6 603.4,753" fill="none" stroke="#5a2a20" stroke-width="1.2" stroke-opacity="0.7"/><polyline points="606.6,733 607.6,739.4 608.8,753" fill="none" stroke="#5a2a20" stroke-width="1.2" stroke-opacity="0.7"/><polyline points="610.1,733 611.8,747.9 613.9,753" fill="none" stroke="#5a5630" stroke-width="1.2" stroke-opacity="0.7"/><polyline points="617.4,733 617.9,742.3 616.9,753" fill="none" stroke="#5a2a20" stroke-width="1.2" stroke-opacity="0.7"/><line x1="617.9" y1="742.3" x2="625.0" y2="740.9" stroke="#5a2a20" stroke-width="1" stroke-opacity="0.7"/><polyline points="621.6,733 625.0,740.9 621.7,753" fill="none" stroke="#5a5630" stroke-width="1.2" stroke-opacity="0.7"/><polyline points="633.7,733 631.2,739.4 630.9,753" fill="none" stroke="#40281c" stroke-width="1.2" stroke-opacity="0.7"/><polyline points="633.0,733 636.4,746.7 634.1,753" fill="none" stroke="#4a4030" stroke-width="1.2" stroke-opacity="0.7"/><polyline points="645.1,733 643.5,747.6 643.5,753" fill="none" stroke="#4a4030" stroke-width="1.2" stroke-opacity="0.7"/><polyline points="646.8,733 648.6,744.0 645.7,753" fill="none" stroke="#5a5630" stroke-width="1.2" stroke-opacity="0.7"/><polyline points="652.3,733 653.3,738.6 650.3,753" fill="none" stroke="#5a5630" stroke-width="1.2" stroke-opacity="0.7"/><polyline points="659.6,733 658.8,747.0 662.1,753" fill="none" stroke="#6a5020" stroke-width="1.2" stroke-opacity="0.7"/><polyline points="665.2,733 665.7,745.5 668.2,753" fill="none" stroke="#5a5630" stroke-width="1.2" stroke-opacity="0.7"/><line x1="665.7" y1="745.5" x2="673.0" y2="740.3" stroke="#5a5630" stroke-width="1" stroke-opacity="0.7"/><polyline points="670.8,733 673.0,740.3 676.8,753" fill="none" stroke="#5a5630" stroke-width="1.2" stroke-opacity="0.7"/><polyline points="675.2,733 677.2,742.4 676.1,753" fill="none" stroke="#6a5020" stroke-width="1.2" stroke-opacity="0.7"/><polyline points="683.2,733 681.8,739.6 682.5,753" fill="none" stroke="#5a5630" stroke-width="1.2" stroke-opacity="0.7"/><polyline points="685.9,733 687.0,744.5 686.1,753" fill="none" stroke="#6a5020" stroke-width="1.2" stroke-opacity="0.7"/>
<line x1="17.7" y1="604.0" x2="15.5" y2="599.7" stroke="#d6d020" stroke-width="1.6" stroke-linecap="round"/><circle cx="19.6" cy="600.1" r="1.2" fill="#c8b810"/><line x1="22.5" y1="604.0" x2="20.0" y2="600.3" stroke="#c8b810" stroke-width="1.6" stroke-linecap="round"/><circle cx="25.4" cy="599.6" r="1.3" fill="#d6d020"/><circle cx="26.9" cy="598.2" r="1.2" fill="#b01a0a"/><line x1="29.7" y1="604.0" x2="31.9" y2="599.9" stroke="#b01a0a" stroke-width="1.6" stroke-linecap="round"/><circle cx="32.8" cy="601.1" r="1.5" fill="#b02010"/><line x1="35.2" y1="604.0" x2="37.3" y2="600.3" stroke="#b01a0a" stroke-width="1.6" stroke-linecap="round"/><circle cx="37.0" cy="601.5" r="1.7" fill="#b02010"/><line x1="40.6" y1="604.0" x2="39.1" y2="600.0" stroke="#c8b810" stroke-width="1.6" stroke-linecap="round"/><line x1="43.0" y1="604.0" x2="43.4" y2="598.6" stroke="#c8b810" stroke-width="1.6" stroke-linecap="round"/><circle cx="44.6" cy="599.0" r="1.7" fill="#d6d020"/><line x1="47.2" y1="604.0" x2="45.2" y2="601.7" stroke="#b02010" stroke-width="1.6" stroke-linecap="round"/><line x1="49.2" y1="604.0" x2="49.0" y2="600.5" stroke="#c8b810" stroke-width="1.6" stroke-linecap="round"/><circle cx="51.6" cy="599.4" r="1.2" fill="#c8b810"/><line x1="53.2" y1="604.0" x2="51.8" y2="599.8" stroke="#d6d020" stroke-width="1.6" stroke-linecap="round"/><circle cx="56.2" cy="600.2" r="1.5" fill="#b02010"/><line x1="60.6" y1="604.0" x2="62.8" y2="600.5" stroke="#b01a0a" stroke-width="1.6" stroke-linecap="round"/><line x1="64.9" y1="604.0" x2="64.5" y2="599.9" stroke="#d6d020" stroke-width="1.6" stroke-linecap="round"/><circle cx="66.6" cy="599.7" r="1.5" fill="#b02010"/><circle cx="69.5" cy="600.3" r="1.5" fill="#b02010"/><circle cx="73.4" cy="600.2" r="1.2" fill="#b02010"/><line x1="75.4" y1="604.0" x2="76.9" y2="598.6" stroke="#d6d020" stroke-width="1.6" stroke-linecap="round"/><line x1="79.4" y1="604.0" x2="77.2" y2="601.9" stroke="#b02010" stroke-width="1.6" stroke-linecap="round"/><line x1="83.5" y1="604.0" x2="82.2" y2="601.9" stroke="#c8b810" stroke-width="1.6" stroke-linecap="round"/><circle cx="85.3" cy="600.6" r="1.2" fill="#d6d020"/><line x1="88.4" y1="604.0" x2="87.3" y2="599.4" stroke="#d6d020" stroke-width="1.6" stroke-linecap="round"/><circle cx="92.0" cy="600.1" r="1.4" fill="#c8b810"/><circle cx="94.7" cy="601.0" r="1.7" fill="#d6d020"/><circle cx="99.2" cy="598.7" r="1.0" fill="#c8b810"/><line x1="101.1" y1="604.0" x2="100.7" y2="600.2" stroke="#d6d020" stroke-width="1.6" stroke-linecap="round"/><line x1="105.1" y1="604.0" x2="104.6" y2="601.1" stroke="#c8b810" stroke-width="1.6" stroke-linecap="round"/><circle cx="108.3" cy="599.4" r="1.7" fill="#b02010"/><circle cx="110.2" cy="598.5" r="1.9" fill="#d6d020"/><circle cx="112.6" cy="599.0" r="1.3" fill="#b02010"/><circle cx="114.2" cy="599.6" r="1.9" fill="#b01a0a"/><circle cx="117.0" cy="600.5" r="1.2" fill="#b01a0a"/><circle cx="120.6" cy="599.6" r="1.9" fill="#c8b810"/><line x1="123.2" y1="604.0" x2="122.8" y2="601.9" stroke="#c8b810" stroke-width="1.6" stroke-linecap="round"/><circle cx="125.6" cy="601.2" r="2.0" fill="#d6d020"/><circle cx="129.4" cy="600.3" r="1.1" fill="#b02010"/><line x1="132.1" y1="604.0" x2="132.2" y2="598.3" stroke="#b02010" stroke-width="1.6" stroke-linecap="round"/><circle cx="135.9" cy="601.7" r="1.1" fill="#d6d020"/><circle cx="137.9" cy="600.9" r="1.5" fill="#d6d020"/><circle cx="140.1" cy="600.6" r="1.9" fill="#b02010"/><line x1="143.5" y1="604.0" x2="141.5" y2="601.5" stroke="#c8b810" stroke-width="1.6" stroke-linecap="round"/><line x1="145.1" y1="604.0" x2="143.3" y2="600.5" stroke="#b01a0a" stroke-width="1.6" stroke-linecap="round"/><line x1="146.9" y1="604.0" x2="146.3" y2="599.5" stroke="#b01a0a" stroke-width="1.6" stroke-linecap="round"/><line x1="150.2" y1="604.0" x2="149.5" y2="599.7" stroke="#d6d020" stroke-width="1.6" stroke-linecap="round"/><circle cx="152.5" cy="600.2" r="1.8" fill="#b01a0a"/><circle cx="156.5" cy="599.5" r="1.4" fill="#b01a0a"/><line x1="160.5" y1="604.0" x2="160.9" y2="601.2" stroke="#b01a0a" stroke-width="1.6" stroke-linecap="round"/><circle cx="162.5" cy="601.3" r="1.7" fill="#c8b810"/><line x1="164.3" y1="604.0" x2="165.9" y2="598.8" stroke="#c8b810" stroke-width="1.6" stroke-linecap="round"/><circle cx="167.4" cy="600.7" r="1.3" fill="#c8b810"/><circle cx="169.0" cy="599.1" r="1.4" fill="#b02010"/><line x1="171.7" y1="604.0" x2="174.1" y2="598.3" stroke="#b01a0a" stroke-width="1.6" stroke-linecap="round"/><line x1="173.6" y1="604.0" x2="175.5" y2="598.9" stroke="#d6d020" stroke-width="1.6" stroke-linecap="round"/><circle cx="177.7" cy="599.4" r="1.5" fill="#c8b810"/><line x1="180.1" y1="604.0" x2="178.0" y2="600.6" stroke="#d6d020" stroke-width="1.6" stroke-linecap="round"/><line x1="183.8" y1="604.0" x2="186.0" y2="599.4" stroke="#b01a0a" stroke-width="1.6" stroke-linecap="round"/><circle cx="186.5" cy="601.8" r="1.8" fill="#b02010"/><circle cx="189.8" cy="601.0" r="1.6" fill="#b02010"/><circle cx="193.7" cy="601.0" r="1.2" fill="#b01a0a"/><circle cx="195.4" cy="599.1" r="1.0" fill="#b01a0a"/><line x1="199.1" y1="604.0" x2="197.4" y2="600.0" stroke="#b02010" stroke-width="1.6" stroke-linecap="round"/><line x1="202.1" y1="604.0" x2="200.5" y2="601.7" stroke="#b02010" stroke-width="1.6" stroke-linecap="round"/><circle cx="206.0" cy="598.7" r="1.1" fill="#d6d020"/><circle cx="209.0" cy="601.5" r="1.5" fill="#b02010"/><line x1="212.7" y1="604.0" x2="213.5" y2="598.7" stroke="#b02010" stroke-width="1.6" stroke-linecap="round"/><circle cx="215.8" cy="601.3" r="1.2" fill="#d6d020"/><circle cx="219.5" cy="601.0" r="2.0" fill="#d6d020"/><line x1="223.4" y1="604.0" x2="223.2" y2="599.8" stroke="#b02010" stroke-width="1.6" stroke-linecap="round"/><circle cx="226.1" cy="601.3" r="1.8" fill="#b02010"/><circle cx="230.4" cy="601.8" r="1.1" fill="#b01a0a"/><circle cx="232.3" cy="598.1" r="1.6" fill="#b02010"/><circle cx="234.3" cy="601.1" r="1.5" fill="#b01a0a"/><line x1="237.3" y1="604.0" x2="235.9" y2="598.3" stroke="#c8b810" stroke-width="1.6" stroke-linecap="round"/><line x1="239.7" y1="604.0" x2="238.9" y2="598.2" stroke="#c8b810" stroke-width="1.6" stroke-linecap="round"/><circle cx="243.1" cy="598.1" r="1.9" fill="#b02010"/><line x1="246.9" y1="604.0" x2="248.8" y2="601.4" stroke="#b02010" stroke-width="1.6" stroke-linecap="round"/><circle cx="249.3" cy="598.6" r="1.7" fill="#b02010"/><line x1="253.0" y1="604.0" x2="255.3" y2="598.6" stroke="#b01a0a" stroke-width="1.6" stroke-linecap="round"/><circle cx="256.2" cy="601.4" r="1.9" fill="#d6d020"/><circle cx="259.9" cy="600.0" r="1.6" fill="#b01a0a"/><line x1="262.5" y1="604.0" x2="262.6" y2="599.8" stroke="#d6d020" stroke-width="1.6" stroke-linecap="round"/><circle cx="264.3" cy="599.5" r="1.9" fill="#b02010"/><line x1="268.7" y1="604.0" x2="271.0" y2="598.1" stroke="#d6d020" stroke-width="1.6" stroke-linecap="round"/><line x1="272.2" y1="604.0" x2="274.6" y2="600.2" stroke="#b01a0a" stroke-width="1.6" stroke-linecap="round"/><line x1="274.9" y1="604.0" x2="274.6" y2="600.4" stroke="#c8b810" stroke-width="1.6" stroke-linecap="round"/><circle cx="278.3" cy="598.2" r="1.6" fill="#c8b810"/><circle cx="281.0" cy="599.4" r="1.4" fill="#b01a0a"/><line x1="284.2" y1="604.0" x2="281.8" y2="599.9" stroke="#d6d020" stroke-width="1.6" stroke-linecap="round"/><circle cx="288.6" cy="598.7" r="1.3" fill="#d6d020"/><line x1="291.7" y1="604.0" x2="293.4" y2="600.8" stroke="#b02010" stroke-width="1.6" stroke-linecap="round"/><circle cx="294.5" cy="599.8" r="1.9" fill="#d6d020"/><line x1="298.3" y1="604.0" x2="300.4" y2="601.2" stroke="#c8b810" stroke-width="1.6" stroke-linecap="round"/><line x1="299.9" y1="604.0" x2="301.2" y2="599.8" stroke="#b01a0a" stroke-width="1.6" stroke-linecap="round"/><circle cx="304.3" cy="601.7" r="1.8" fill="#d6d020"/><circle cx="307.2" cy="599.0" r="1.1" fill="#b02010"/><circle cx="310.8" cy="600.8" r="1.8" fill="#b02010"/><line x1="314.4" y1="604.0" x2="313.8" y2="601.5" stroke="#c8b810" stroke-width="1.6" stroke-linecap="round"/><line x1="317.5" y1="604.0" x2="318.7" y2="599.5" stroke="#b02010" stroke-width="1.6" stroke-linecap="round"/><circle cx="321.2" cy="598.1" r="1.8" fill="#d6d020"/><circle cx="323.9" cy="599.2" r="1.7" fill="#b02010"/><line x1="326.0" y1="604.0" x2="328.4" y2="599.3" stroke="#b01a0a" stroke-width="1.6" stroke-linecap="round"/><line x1="328.5" y1="604.0" x2="329.2" y2="600.0" stroke="#b01a0a" stroke-width="1.6" stroke-linecap="round"/><line x1="332.0" y1="604.0" x2="332.7" y2="600.4" stroke="#b01a0a" stroke-width="1.6" stroke-linecap="round"/><line x1="336.3" y1="604.0" x2="337.9" y2="598.6" stroke="#b02010" stroke-width="1.6" stroke-linecap="round"/><line x1="339.6" y1="604.0" x2="339.2" y2="598.3" stroke="#b02010" stroke-width="1.6" stroke-linecap="round"/><line x1="343.2" y1="604.0" x2="343.1" y2="601.4" stroke="#b02010" stroke-width="1.6" stroke-linecap="round"/><circle cx="346.1" cy="600.9" r="1.6" fill="#b01a0a"/><circle cx="347.8" cy="599.4" r="1.5" fill="#b01a0a"/><line x1="352.1" y1="604.0" x2="352.6" y2="600.4" stroke="#b01a0a" stroke-width="1.6" stroke-linecap="round"/><circle cx="354.2" cy="601.1" r="1.1" fill="#d6d020"/><line x1="357.8" y1="604.0" x2="355.6" y2="600.1" stroke="#b02010" stroke-width="1.6" stroke-linecap="round"/><line x1="360.2" y1="604.0" x2="359.7" y2="600.6" stroke="#b02010" stroke-width="1.6" stroke-linecap="round"/><line x1="362.9" y1="604.0" x2="362.1" y2="598.8" stroke="#c8b810" stroke-width="1.6" stroke-linecap="round"/><circle cx="365.1" cy="598.6" r="1.9" fill="#d6d020"/><line x1="368.5" y1="604.0" x2="367.2" y2="598.3" stroke="#b02010" stroke-width="1.6" stroke-linecap="round"/><circle cx="370.8" cy="599.5" r="2.0" fill="#b01a0a"/><circle cx="373.6" cy="599.6" r="1.5" fill="#d6d020"/><circle cx="375.5" cy="598.4" r="1.3" fill="#d6d020"/><line x1="378.2" y1="604.0" x2="377.2" y2="599.1" stroke="#b01a0a" stroke-width="1.6" stroke-linecap="round"/><line x1="380.0" y1="604.0" x2="382.3" y2="600.7" stroke="#c8b810" stroke-width="1.6" stroke-linecap="round"/><circle cx="381.7" cy="598.4" r="1.0" fill="#b01a0a"/><line x1="385.3" y1="604.0" x2="383.4" y2="600.6" stroke="#c8b810" stroke-width="1.6" stroke-linecap="round"/><circle cx="388.9" cy="601.1" r="1.4" fill="#b01a0a"/><circle cx="392.6" cy="601.1" r="1.5" fill="#d6d020"/><circle cx="395.3" cy="599.1" r="1.6" fill="#c8b810"/><line x1="399.5" y1="604.0" x2="401.3" y2="601.8" stroke="#b01a0a" stroke-width="1.6" stroke-linecap="round"/><circle cx="402.0" cy="598.6" r="1.2" fill="#c8b810"/><circle cx="404.0" cy="598.8" r="1.4" fill="#d6d020"/><circle cx="408.1" cy="599.7" r="1.1" fill="#b01a0a"/><circle cx="411.5" cy="598.4" r="1.1" fill="#b02010"/><line x1="415.6" y1="604.0" x2="415.2" y2="598.3" stroke="#b01a0a" stroke-width="1.6" stroke-linecap="round"/><line x1="417.6" y1="604.0" x2="418.6" y2="599.4" stroke="#c8b810" stroke-width="1.6" stroke-linecap="round"/><line x1="421.7" y1="604.0" x2="424.0" y2="600.4" stroke="#c8b810" stroke-width="1.6" stroke-linecap="round"/><line x1="425.1" y1="604.0" x2="426.5" y2="601.0" stroke="#d6d020" stroke-width="1.6" stroke-linecap="round"/><line x1="427.1" y1="604.0" x2="427.2" y2="599.6" stroke="#c8b810" stroke-width="1.6" stroke-linecap="round"/><line x1="428.8" y1="604.0" x2="429.9" y2="599.8" stroke="#b02010" stroke-width="1.6" stroke-linecap="round"/><line x1="431.9" y1="604.0" x2="433.0" y2="599.1" stroke="#b01a0a" stroke-width="1.6" stroke-linecap="round"/><circle cx="435.7" cy="601.3" r="1.1" fill="#b02010"/><circle cx="437.8" cy="598.6" r="1.1" fill="#c8b810"/><circle cx="441.7" cy="600.0" r="1.3" fill="#c8b810"/><circle cx="443.6" cy="600.2" r="1.4" fill="#b01a0a"/><line x1="447.2" y1="604.0" x2="445.2" y2="601.9" stroke="#c8b810" stroke-width="1.6" stroke-linecap="round"/><line x1="451.1" y1="604.0" x2="448.9" y2="600.8" stroke="#b01a0a" stroke-width="1.6" stroke-linecap="round"/><circle cx="453.4" cy="601.0" r="1.1" fill="#d6d020"/><circle cx="456.9" cy="600.3" r="1.6" fill="#b01a0a"/><circle cx="459.4" cy="600.0" r="1.9" fill="#b02010"/><circle cx="462.4" cy="599.4" r="2.0" fill="#d6d020"/><line x1="466.0" y1="604.0" x2="465.0" y2="598.4" stroke="#b01a0a" stroke-width="1.6" stroke-linecap="round"/><circle cx="468.0" cy="600.4" r="1.4" fill="#b02010"/><line x1="469.9" y1="604.0" x2="470.6" y2="601.8" stroke="#b01a0a" stroke-width="1.6" stroke-linecap="round"/><circle cx="472.3" cy="600.7" r="1.7" fill="#b02010"/><circle cx="475.4" cy="599.9" r="1.9" fill="#b01a0a"/><circle cx="477.9" cy="599.7" r="1.3" fill="#b02010"/><line x1="480.7" y1="604.0" x2="482.3" y2="598.3" stroke="#b02010" stroke-width="1.6" stroke-linecap="round"/><line x1="485.0" y1="604.0" x2="485.4" y2="601.5" stroke="#b01a0a" stroke-width="1.6" stroke-linecap="round"/><line x1="489.5" y1="604.0" x2="488.8" y2="599.2" stroke="#d6d020" stroke-width="1.6" stroke-linecap="round"/><circle cx="493.8" cy="600.4" r="2.0" fill="#b02010"/><circle cx="496.9" cy="601.9" r="1.2" fill="#d6d020"/><circle cx="498.8" cy="601.3" r="1.7" fill="#b01a0a"/><line x1="500.4" y1="604.0" x2="501.5" y2="598.1" stroke="#b01a0a" stroke-width="1.6" stroke-linecap="round"/><line x1="502.6" y1="604.0" x2="500.5" y2="599.5" stroke="#b01a0a" stroke-width="1.6" stroke-linecap="round"/><circle cx="504.3" cy="599.4" r="1.9" fill="#d6d020"/><circle cx="505.8" cy="598.4" r="1.8" fill="#b02010"/><line x1="508.0" y1="604.0" x2="510.0" y2="599.6" stroke="#d6d020" stroke-width="1.6" stroke-linecap="round"/><line x1="510.8" y1="604.0" x2="512.3" y2="599.8" stroke="#b02010" stroke-width="1.6" stroke-linecap="round"/><circle cx="514.5" cy="600.4" r="1.5" fill="#b02010"/><line x1="517.1" y1="604.0" x2="517.1" y2="601.7" stroke="#c8b810" stroke-width="1.6" stroke-linecap="round"/><line x1="520.3" y1="604.0" x2="520.1" y2="601.8" stroke="#c8b810" stroke-width="1.6" stroke-linecap="round"/><line x1="522.4" y1="604.0" x2="522.6" y2="599.2" stroke="#b02010" stroke-width="1.6" stroke-linecap="round"/><line x1="526.4" y1="604.0" x2="526.7" y2="598.1" stroke="#b02010" stroke-width="1.6" stroke-linecap="round"/><line x1="529.5" y1="604.0" x2="531.8" y2="599.8" stroke="#c8b810" stroke-width="1.6" stroke-linecap="round"/><circle cx="532.2" cy="600.2" r="1.4" fill="#b02010"/><circle cx="534.2" cy="601.0" r="1.4" fill="#d6d020"/><circle cx="537.7" cy="600.5" r="1.9" fill="#b01a0a"/><line x1="541.8" y1="604.0" x2="543.6" y2="598.4" stroke="#b01a0a" stroke-width="1.6" stroke-linecap="round"/><line x1="544.5" y1="604.0" x2="545.2" y2="600.9" stroke="#c8b810" stroke-width="1.6" stroke-linecap="round"/><line x1="548.5" y1="604.0" x2="548.5" y2="600.4" stroke="#b02010" stroke-width="1.6" stroke-linecap="round"/><circle cx="550.5" cy="601.9" r="1.3" fill="#d6d020"/><circle cx="554.6" cy="598.2" r="1.9" fill="#b02010"/><circle cx="556.9" cy="599.2" r="1.8" fill="#c8b810"/><circle cx="559.9" cy="598.2" r="1.4" fill="#c8b810"/><circle cx="561.6" cy="598.1" r="1.0" fill="#d6d020"/><circle cx="563.8" cy="598.9" r="1.6" fill="#c8b810"/><line x1="565.9" y1="604.0" x2="568.4" y2="601.6" stroke="#b01a0a" stroke-width="1.6" stroke-linecap="round"/><line x1="569.0" y1="604.0" x2="571.4" y2="600.6" stroke="#c8b810" stroke-width="1.6" stroke-linecap="round"/><line x1="570.8" y1="604.0" x2="573.3" y2="598.7" stroke="#c8b810" stroke-width="1.6" stroke-linecap="round"/><line x1="574.4" y1="604.0" x2="576.2" y2="600.1" stroke="#d6d020" stroke-width="1.6" stroke-linecap="round"/><circle cx="578.3" cy="598.5" r="1.4" fill="#b01a0a"/><circle cx="581.8" cy="598.4" r="1.9" fill="#c8b810"/><line x1="583.6" y1="604.0" x2="582.0" y2="599.5" stroke="#c8b810" stroke-width="1.6" stroke-linecap="round"/><line x1="585.9" y1="604.0" x2="587.4" y2="598.5" stroke="#b02010" stroke-width="1.6" stroke-linecap="round"/><circle cx="590.1" cy="598.6" r="1.8" fill="#b02010"/><line x1="593.8" y1="604.0" x2="592.7" y2="598.3" stroke="#b02010" stroke-width="1.6" stroke-linecap="round"/><line x1="596.9" y1="604.0" x2="594.9" y2="600.8" stroke="#c8b810" stroke-width="1.6" stroke-linecap="round"/><circle cx="600.0" cy="599.2" r="1.1" fill="#b02010"/><line x1="602.1" y1="604.0" x2="600.3" y2="599.9" stroke="#b01a0a" stroke-width="1.6" stroke-linecap="round"/><circle cx="604.8" cy="600.1" r="1.5" fill="#b02010"/><circle cx="607.8" cy="601.0" r="1.8" fill="#c8b810"/><circle cx="611.5" cy="599.9" r="1.3" fill="#c8b810"/><circle cx="615.1" cy="600.7" r="1.3" fill="#d6d020"/><circle cx="617.0" cy="599.2" r="1.6" fill="#d6d020"/><line x1="621.0" y1="604.0" x2="619.6" y2="599.7" stroke="#b01a0a" stroke-width="1.6" stroke-linecap="round"/><circle cx="623.0" cy="600.3" r="1.0" fill="#b02010"/><circle cx="625.5" cy="601.7" r="1.7" fill="#d6d020"/><line x1="629.9" y1="604.0" x2="629.3" y2="600.9" stroke="#b02010" stroke-width="1.6" stroke-linecap="round"/><circle cx="631.8" cy="601.4" r="1.8" fill="#b02010"/><circle cx="635.3" cy="600.6" r="2.0" fill="#b01a0a"/><circle cx="637.7" cy="600.9" r="1.0" fill="#d6d020"/><line x1="639.6" y1="604.0" x2="640.6" y2="600.5" stroke="#c8b810" stroke-width="1.6" stroke-linecap="round"/><line x1="641.4" y1="604.0" x2="640.5" y2="600.9" stroke="#b02010" stroke-width="1.6" stroke-linecap="round"/><line x1="645.8" y1="604.0" x2="646.9" y2="598.3" stroke="#b02010" stroke-width="1.6" stroke-linecap="round"/><line x1="647.7" y1="604.0" x2="648.3" y2="600.4" stroke="#b02010" stroke-width="1.6" stroke-linecap="round"/><circle cx="650.7" cy="599.9" r="1.9" fill="#c8b810"/><line x1="654.1" y1="604.0" x2="652.5" y2="601.8" stroke="#d6d020" stroke-width="1.6" stroke-linecap="round"/><circle cx="656.3" cy="600.9" r="1.5" fill="#c8b810"/><circle cx="660.6" cy="600.1" r="1.1" fill="#b02010"/><line x1="663.2" y1="604.0" x2="664.3" y2="599.8" stroke="#b02010" stroke-width="1.6" stroke-linecap="round"/><circle cx="666.8" cy="599.5" r="1.1" fill="#b01a0a"/><line x1="668.5" y1="604.0" x2="668.4" y2="599.3" stroke="#d6d020" stroke-width="1.6" stroke-linecap="round"/><circle cx="672.4" cy="600.5" r="1.2" fill="#b02010"/><line x1="676.3" y1="604.0" x2="674.5" y2="600.4" stroke="#c8b810" stroke-width="1.6" stroke-linecap="round"/><circle cx="678.7" cy="599.9" r="1.8" fill="#b01a0a"/><line x1="680.6" y1="604.0" x2="681.1" y2="600.2" stroke="#b01a0a" stroke-width="1.6" stroke-linecap="round"/><line x1="683.3" y1="604.0" x2="681.1" y2="600.4" stroke="#b02010" stroke-width="1.6" stroke-linecap="round"/><line x1="686.3" y1="604.0" x2="687.8" y2="599.4" stroke="#b01a0a" stroke-width="1.6" stroke-linecap="round"/><line x1="690.3" y1="604.0" x2="690.5" y2="599.9" stroke="#d6d020" stroke-width="1.6" stroke-linecap="round"/>
<circle cx="17.7" cy="736.7" r="1.3" fill="#d6d020"/><line x1="21.7" y1="735.0" x2="21.8" y2="738.2" stroke="#c8b810" stroke-width="1.6" stroke-linecap="round"/><line x1="23.9" y1="735.0" x2="23.6" y2="735.1" stroke="#b01a0a" stroke-width="1.6" stroke-linecap="round"/><line x1="25.9" y1="735.0" x2="25.6" y2="738.7" stroke="#d6d020" stroke-width="1.6" stroke-linecap="round"/><circle cx="30.4" cy="737.5" r="1.3" fill="#c8b810"/><line x1="33.4" y1="735.0" x2="31.0" y2="737.6" stroke="#b01a0a" stroke-width="1.6" stroke-linecap="round"/><line x1="37.1" y1="735.0" x2="36.8" y2="735.5" stroke="#b01a0a" stroke-width="1.6" stroke-linecap="round"/><circle cx="40.2" cy="736.6" r="1.7" fill="#b02010"/><circle cx="43.1" cy="735.3" r="1.7" fill="#d6d020"/><circle cx="47.0" cy="735.5" r="1.8" fill="#b01a0a"/><circle cx="49.2" cy="738.6" r="1.4" fill="#d6d020"/><circle cx="52.0" cy="736.3" r="1.3" fill="#c8b810"/><line x1="56.0" y1="735.0" x2="56.0" y2="737.9" stroke="#d6d020" stroke-width="1.6" stroke-linecap="round"/><circle cx="59.0" cy="737.3" r="2.0" fill="#d6d020"/><line x1="60.8" y1="735.0" x2="60.0" y2="737.5" stroke="#d6d020" stroke-width="1.6" stroke-linecap="round"/><circle cx="64.6" cy="736.0" r="1.9" fill="#b02010"/><line x1="66.6" y1="735.0" x2="67.5" y2="736.5" stroke="#c8b810" stroke-width="1.6" stroke-linecap="round"/><line x1="70.8" y1="735.0" x2="73.1" y2="736.6" stroke="#d6d020" stroke-width="1.6" stroke-linecap="round"/><circle cx="74.1" cy="737.0" r="1.2" fill="#b02010"/><circle cx="78.2" cy="737.2" r="1.4" fill="#d6d020"/><circle cx="81.9" cy="738.3" r="1.3" fill="#b01a0a"/><circle cx="84.3" cy="736.0" r="1.9" fill="#c8b810"/><line x1="87.8" y1="735.0" x2="87.7" y2="738.9" stroke="#d6d020" stroke-width="1.6" stroke-linecap="round"/><circle cx="90.0" cy="735.1" r="1.8" fill="#c8b810"/><circle cx="93.9" cy="737.4" r="1.6" fill="#b02010"/><line x1="97.9" y1="735.0" x2="96.1" y2="735.6" stroke="#b02010" stroke-width="1.6" stroke-linecap="round"/><line x1="101.6" y1="735.0" x2="99.2" y2="737.7" stroke="#c8b810" stroke-width="1.6" stroke-linecap="round"/><line x1="104.9" y1="735.0" x2="103.7" y2="738.4" stroke="#d6d020" stroke-width="1.6" stroke-linecap="round"/><circle cx="107.6" cy="735.5" r="1.1" fill="#d6d020"/><circle cx="109.2" cy="738.1" r="1.1" fill="#c8b810"/><circle cx="111.5" cy="737.2" r="1.5" fill="#b02010"/><line x1="113.7" y1="735.0" x2="112.2" y2="735.7" stroke="#d6d020" stroke-width="1.6" stroke-linecap="round"/><line x1="117.4" y1="735.0" x2="118.6" y2="737.4" stroke="#b01a0a" stroke-width="1.6" stroke-linecap="round"/><line x1="119.1" y1="735.0" x2="118.6" y2="736.6" stroke="#b01a0a" stroke-width="1.6" stroke-linecap="round"/><line x1="122.3" y1="735.0" x2="121.4" y2="736.0" stroke="#d6d020" stroke-width="1.6" stroke-linecap="round"/><line x1="123.9" y1="735.0" x2="126.4" y2="735.6" stroke="#c8b810" stroke-width="1.6" stroke-linecap="round"/><circle cx="127.9" cy="738.8" r="1.6" fill="#c8b810"/><circle cx="130.9" cy="738.9" r="1.7" fill="#b02010"/><line x1="134.0" y1="735.0" x2="136.4" y2="735.3" stroke="#d6d020" stroke-width="1.6" stroke-linecap="round"/><circle cx="136.5" cy="737.6" r="1.9" fill="#b02010"/><line x1="140.0" y1="735.0" x2="140.9" y2="737.0" stroke="#c8b810" stroke-width="1.6" stroke-linecap="round"/><circle cx="143.6" cy="737.1" r="1.4" fill="#c8b810"/><circle cx="145.8" cy="737.6" r="1.3" fill="#b01a0a"/><circle cx="149.1" cy="737.9" r="1.2" fill="#c8b810"/><line x1="151.7" y1="735.0" x2="152.5" y2="735.9" stroke="#c8b810" stroke-width="1.6" stroke-linecap="round"/><line x1="153.3" y1="735.0" x2="155.3" y2="737.0" stroke="#d6d020" stroke-width="1.6" stroke-linecap="round"/><line x1="157.2" y1="735.0" x2="156.6" y2="736.0" stroke="#b02010" stroke-width="1.6" stroke-linecap="round"/><circle cx="160.5" cy="735.6" r="1.9" fill="#b01a0a"/><circle cx="164.2" cy="737.2" r="1.3" fill="#b01a0a"/><line x1="168.5" y1="735.0" x2="166.8" y2="738.9" stroke="#c8b810" stroke-width="1.6" stroke-linecap="round"/><line x1="171.3" y1="735.0" x2="169.7" y2="736.5" stroke="#b02010" stroke-width="1.6" stroke-linecap="round"/><circle cx="173.0" cy="736.3" r="1.8" fill="#b01a0a"/><line x1="175.0" y1="735.0" x2="176.1" y2="736.0" stroke="#d6d020" stroke-width="1.6" stroke-linecap="round"/><circle cx="177.0" cy="736.9" r="1.6" fill="#c8b810"/><line x1="179.3" y1="735.0" x2="177.3" y2="737.7" stroke="#d6d020" stroke-width="1.6" stroke-linecap="round"/><line x1="183.7" y1="735.0" x2="185.9" y2="735.1" stroke="#d6d020" stroke-width="1.6" stroke-linecap="round"/><line x1="187.3" y1="735.0" x2="186.8" y2="735.3" stroke="#b01a0a" stroke-width="1.6" stroke-linecap="round"/><circle cx="190.2" cy="736.0" r="1.5" fill="#c8b810"/><circle cx="191.9" cy="735.8" r="1.0" fill="#b02010"/><circle cx="193.9" cy="737.1" r="1.2" fill="#c8b810"/><line x1="196.7" y1="735.0" x2="198.4" y2="735.9" stroke="#d6d020" stroke-width="1.6" stroke-linecap="round"/><circle cx="200.9" cy="737.6" r="1.4" fill="#b01a0a"/><circle cx="204.9" cy="735.6" r="1.5" fill="#d6d020"/><line x1="208.0" y1="735.0" x2="207.2" y2="736.9" stroke="#c8b810" stroke-width="1.6" stroke-linecap="round"/><line x1="210.3" y1="735.0" x2="207.9" y2="736.2" stroke="#b02010" stroke-width="1.6" stroke-linecap="round"/><circle cx="214.3" cy="735.7" r="1.8" fill="#b01a0a"/><circle cx="216.8" cy="735.2" r="1.5" fill="#b02010"/><circle cx="220.4" cy="735.6" r="1.9" fill="#c8b810"/><circle cx="223.5" cy="735.8" r="2.0" fill="#c8b810"/><circle cx="226.3" cy="738.3" r="1.0" fill="#b02010"/><circle cx="228.8" cy="735.1" r="1.5" fill="#d6d020"/><line x1="232.9" y1="735.0" x2="233.8" y2="738.2" stroke="#c8b810" stroke-width="1.6" stroke-linecap="round"/><circle cx="235.1" cy="738.9" r="1.9" fill="#b01a0a"/><circle cx="239.4" cy="735.0" r="1.6" fill="#b02010"/><circle cx="242.7" cy="737.6" r="1.9" fill="#c8b810"/><line x1="245.8" y1="735.0" x2="246.1" y2="735.8" stroke="#c8b810" stroke-width="1.6" stroke-linecap="round"/><circle cx="249.6" cy="738.6" r="1.6" fill="#b02010"/><line x1="252.2" y1="735.0" x2="254.3" y2="737.3" stroke="#b02010" stroke-width="1.6" stroke-linecap="round"/><line x1="256.6" y1="735.0" x2="257.8" y2="738.9" stroke="#b01a0a" stroke-width="1.6" stroke-linecap="round"/><line x1="258.7" y1="735.0" x2="256.8" y2="738.6" stroke="#b02010" stroke-width="1.6" stroke-linecap="round"/><circle cx="260.9" cy="737.5" r="1.5" fill="#c8b810"/><circle cx="263.0" cy="736.0" r="1.4" fill="#d6d020"/><line x1="266.0" y1="735.0" x2="264.5" y2="735.2" stroke="#b02010" stroke-width="1.6" stroke-linecap="round"/><line x1="269.8" y1="735.0" x2="271.0" y2="737.3" stroke="#b02010" stroke-width="1.6" stroke-linecap="round"/><circle cx="273.5" cy="736.5" r="1.0" fill="#d6d020"/><line x1="277.0" y1="735.0" x2="275.5" y2="737.3" stroke="#b02010" stroke-width="1.6" stroke-linecap="round"/><circle cx="279.2" cy="737.7" r="1.9" fill="#c8b810"/><circle cx="281.1" cy="736.8" r="1.6" fill="#b02010"/><line x1="284.4" y1="735.0" x2="283.8" y2="738.5" stroke="#b01a0a" stroke-width="1.6" stroke-linecap="round"/><line x1="286.6" y1="735.0" x2="285.1" y2="738.2" stroke="#c8b810" stroke-width="1.6" stroke-linecap="round"/><circle cx="290.7" cy="738.0" r="1.1" fill="#b01a0a"/><line x1="294.4" y1="735.0" x2="295.2" y2="735.4" stroke="#b02010" stroke-width="1.6" stroke-linecap="round"/><line x1="297.5" y1="735.0" x2="296.1" y2="737.0" stroke="#d6d020" stroke-width="1.6" stroke-linecap="round"/><line x1="301.0" y1="735.0" x2="298.6" y2="738.7" stroke="#b02010" stroke-width="1.6" stroke-linecap="round"/><line x1="305.1" y1="735.0" x2="304.6" y2="735.2" stroke="#b02010" stroke-width="1.6" stroke-linecap="round"/><circle cx="306.9" cy="739.0" r="1.7" fill="#b01a0a"/><circle cx="309.9" cy="736.7" r="2.0" fill="#b02010"/><line x1="311.8" y1="735.0" x2="311.6" y2="738.0" stroke="#c8b810" stroke-width="1.6" stroke-linecap="round"/><circle cx="314.9" cy="736.8" r="1.9" fill="#d6d020"/><line x1="319.1" y1="735.0" x2="320.3" y2="738.1" stroke="#d6d020" stroke-width="1.6" stroke-linecap="round"/><line x1="321.6" y1="735.0" x2="320.7" y2="735.7" stroke="#d6d020" stroke-width="1.6" stroke-linecap="round"/><circle cx="324.1" cy="738.9" r="1.2" fill="#d6d020"/><circle cx="325.6" cy="738.4" r="1.1" fill="#d6d020"/><circle cx="328.7" cy="737.5" r="1.1" fill="#b01a0a"/><circle cx="332.3" cy="737.2" r="1.2" fill="#d6d020"/><circle cx="335.6" cy="736.0" r="1.8" fill="#b01a0a"/><line x1="339.9" y1="735.0" x2="341.4" y2="736.6" stroke="#b01a0a" stroke-width="1.6" stroke-linecap="round"/><circle cx="343.5" cy="735.1" r="1.9" fill="#c8b810"/><line x1="347.3" y1="735.0" x2="345.2" y2="735.7" stroke="#c8b810" stroke-width="1.6" stroke-linecap="round"/><line x1="351.7" y1="735.0" x2="350.0" y2="737.9" stroke="#c8b810" stroke-width="1.6" stroke-linecap="round"/><circle cx="354.2" cy="737.6" r="1.8" fill="#c8b810"/><circle cx="355.9" cy="737.3" r="1.8" fill="#b02010"/><circle cx="357.8" cy="736.2" r="1.3" fill="#d6d020"/><line x1="361.3" y1="735.0" x2="362.9" y2="735.2" stroke="#d6d020" stroke-width="1.6" stroke-linecap="round"/><circle cx="364.3" cy="737.5" r="1.6" fill="#b01a0a"/><line x1="366.9" y1="735.0" x2="367.5" y2="735.2" stroke="#d6d020" stroke-width="1.6" stroke-linecap="round"/><circle cx="369.7" cy="736.7" r="1.0" fill="#b01a0a"/><line x1="371.9" y1="735.0" x2="373.6" y2="735.1" stroke="#b02010" stroke-width="1.6" stroke-linecap="round"/><line x1="376.3" y1="735.0" x2="375.6" y2="737.9" stroke="#d6d020" stroke-width="1.6" stroke-linecap="round"/><circle cx="378.6" cy="737.8" r="1.3" fill="#d6d020"/><line x1="382.8" y1="735.0" x2="383.8" y2="736.2" stroke="#d6d020" stroke-width="1.6" stroke-linecap="round"/><circle cx="386.5" cy="738.5" r="2.0" fill="#b01a0a"/><line x1="389.0" y1="735.0" x2="390.1" y2="738.3" stroke="#c8b810" stroke-width="1.6" stroke-linecap="round"/><circle cx="390.6" cy="738.7" r="2.0" fill="#b02010"/><line x1="394.4" y1="735.0" x2="396.3" y2="738.2" stroke="#d6d020" stroke-width="1.6" stroke-linecap="round"/><line x1="398.3" y1="735.0" x2="398.4" y2="737.0" stroke="#d6d020" stroke-width="1.6" stroke-linecap="round"/><line x1="402.7" y1="735.0" x2="404.1" y2="736.5" stroke="#c8b810" stroke-width="1.6" stroke-linecap="round"/><circle cx="405.8" cy="735.5" r="1.1" fill="#b01a0a"/><line x1="408.7" y1="735.0" x2="406.7" y2="735.2" stroke="#c8b810" stroke-width="1.6" stroke-linecap="round"/><line x1="411.7" y1="735.0" x2="410.6" y2="737.6" stroke="#b02010" stroke-width="1.6" stroke-linecap="round"/><circle cx="415.5" cy="736.1" r="1.4" fill="#b01a0a"/><line x1="419.4" y1="735.0" x2="421.3" y2="736.9" stroke="#b02010" stroke-width="1.6" stroke-linecap="round"/><circle cx="421.7" cy="735.5" r="1.9" fill="#b02010"/><circle cx="424.2" cy="738.3" r="1.8" fill="#d6d020"/><line x1="425.7" y1="735.0" x2="426.7" y2="735.2" stroke="#b02010" stroke-width="1.6" stroke-linecap="round"/><circle cx="428.7" cy="738.2" r="1.6" fill="#b01a0a"/><line x1="431.9" y1="735.0" x2="430.2" y2="738.4" stroke="#d6d020" stroke-width="1.6" stroke-linecap="round"/><line x1="435.7" y1="735.0" x2="435.2" y2="735.7" stroke="#b01a0a" stroke-width="1.6" stroke-linecap="round"/><line x1="438.2" y1="735.0" x2="437.1" y2="736.5" stroke="#c8b810" stroke-width="1.6" stroke-linecap="round"/><circle cx="442.4" cy="736.0" r="1.3" fill="#b01a0a"/><circle cx="445.2" cy="739.0" r="2.0" fill="#d6d020"/><line x1="449.5" y1="735.0" x2="447.9" y2="737.8" stroke="#c8b810" stroke-width="1.6" stroke-linecap="round"/><line x1="453.2" y1="735.0" x2="455.2" y2="738.9" stroke="#c8b810" stroke-width="1.6" stroke-linecap="round"/><line x1="454.9" y1="735.0" x2="456.5" y2="738.6" stroke="#c8b810" stroke-width="1.6" stroke-linecap="round"/><circle cx="459.1" cy="737.9" r="1.3" fill="#b01a0a"/><circle cx="461.1" cy="737.5" r="2.0" fill="#b01a0a"/><circle cx="465.5" cy="735.4" r="2.0" fill="#c8b810"/><circle cx="469.6" cy="737.0" r="1.6" fill="#c8b810"/><line x1="473.0" y1="735.0" x2="471.2" y2="736.2" stroke="#d6d020" stroke-width="1.6" stroke-linecap="round"/><line x1="477.2" y1="735.0" x2="476.7" y2="737.2" stroke="#b02010" stroke-width="1.6" stroke-linecap="round"/><circle cx="481.0" cy="737.1" r="1.1" fill="#b02010"/><circle cx="483.1" cy="736.8" r="1.5" fill="#d6d020"/><circle cx="485.3" cy="736.1" r="1.6" fill="#c8b810"/><line x1="487.7" y1="735.0" x2="488.4" y2="737.1" stroke="#c8b810" stroke-width="1.6" stroke-linecap="round"/><circle cx="492.0" cy="735.8" r="1.5" fill="#b02010"/><line x1="496.4" y1="735.0" x2="495.2" y2="735.4" stroke="#d6d020" stroke-width="1.6" stroke-linecap="round"/><circle cx="500.2" cy="737.4" r="1.5" fill="#c8b810"/><line x1="501.9" y1="735.0" x2="499.7" y2="738.4" stroke="#b01a0a" stroke-width="1.6" stroke-linecap="round"/><line x1="506.4" y1="735.0" x2="506.7" y2="737.8" stroke="#d6d020" stroke-width="1.6" stroke-linecap="round"/><line x1="510.8" y1="735.0" x2="513.3" y2="737.6" stroke="#d6d020" stroke-width="1.6" stroke-linecap="round"/><line x1="514.8" y1="735.0" x2="514.5" y2="736.0" stroke="#c8b810" stroke-width="1.6" stroke-linecap="round"/><circle cx="516.4" cy="738.9" r="1.9" fill="#b02010"/><line x1="519.9" y1="735.0" x2="521.7" y2="738.7" stroke="#b02010" stroke-width="1.6" stroke-linecap="round"/><circle cx="522.8" cy="735.2" r="1.4" fill="#d6d020"/><circle cx="525.4" cy="737.1" r="1.2" fill="#c8b810"/><line x1="529.6" y1="735.0" x2="531.6" y2="735.4" stroke="#d6d020" stroke-width="1.6" stroke-linecap="round"/><line x1="531.6" y1="735.0" x2="533.7" y2="736.3" stroke="#d6d020" stroke-width="1.6" stroke-linecap="round"/><line x1="534.9" y1="735.0" x2="534.8" y2="738.8" stroke="#b01a0a" stroke-width="1.6" stroke-linecap="round"/><circle cx="539.0" cy="735.7" r="1.8" fill="#d6d020"/><circle cx="541.8" cy="738.9" r="1.9" fill="#b01a0a"/><line x1="544.5" y1="735.0" x2="543.9" y2="735.7" stroke="#c8b810" stroke-width="1.6" stroke-linecap="round"/><line x1="546.3" y1="735.0" x2="544.3" y2="737.6" stroke="#d6d020" stroke-width="1.6" stroke-linecap="round"/><circle cx="550.8" cy="735.5" r="1.7" fill="#b01a0a"/><line x1="553.9" y1="735.0" x2="556.0" y2="736.1" stroke="#c8b810" stroke-width="1.6" stroke-linecap="round"/><line x1="555.6" y1="735.0" x2="553.5" y2="735.6" stroke="#b02010" stroke-width="1.6" stroke-linecap="round"/><line x1="559.6" y1="735.0" x2="561.2" y2="736.6" stroke="#c8b810" stroke-width="1.6" stroke-linecap="round"/><line x1="563.4" y1="735.0" x2="561.2" y2="736.6" stroke="#b01a0a" stroke-width="1.6" stroke-linecap="round"/><circle cx="567.3" cy="736.0" r="1.6" fill="#b02010"/><line x1="570.5" y1="735.0" x2="571.9" y2="738.1" stroke="#d6d020" stroke-width="1.6" stroke-linecap="round"/><line x1="573.1" y1="735.0" x2="574.6" y2="738.6" stroke="#b02010" stroke-width="1.6" stroke-linecap="round"/><circle cx="575.5" cy="738.0" r="1.4" fill="#b02010"/><circle cx="579.9" cy="738.9" r="1.1" fill="#b01a0a"/><line x1="582.9" y1="735.0" x2="582.5" y2="736.3" stroke="#c8b810" stroke-width="1.6" stroke-linecap="round"/><line x1="585.6" y1="735.0" x2="584.0" y2="735.3" stroke="#b02010" stroke-width="1.6" stroke-linecap="round"/><line x1="589.3" y1="735.0" x2="589.5" y2="735.8" stroke="#b01a0a" stroke-width="1.6" stroke-linecap="round"/><line x1="593.7" y1="735.0" x2="595.0" y2="737.0" stroke="#c8b810" stroke-width="1.6" stroke-linecap="round"/><line x1="595.7" y1="735.0" x2="597.9" y2="738.8" stroke="#c8b810" stroke-width="1.6" stroke-linecap="round"/><line x1="597.8" y1="735.0" x2="595.3" y2="735.9" stroke="#d6d020" stroke-width="1.6" stroke-linecap="round"/><line x1="601.2" y1="735.0" x2="601.7" y2="735.2" stroke="#d6d020" stroke-width="1.6" stroke-linecap="round"/><circle cx="604.9" cy="738.7" r="1.1" fill="#b01a0a"/><line x1="608.2" y1="735.0" x2="605.8" y2="738.5" stroke="#b02010" stroke-width="1.6" stroke-linecap="round"/><line x1="611.9" y1="735.0" x2="611.5" y2="738.7" stroke="#d6d020" stroke-width="1.6" stroke-linecap="round"/><circle cx="613.6" cy="738.0" r="1.0" fill="#c8b810"/><line x1="617.8" y1="735.0" x2="618.2" y2="738.9" stroke="#b01a0a" stroke-width="1.6" stroke-linecap="round"/><line x1="620.2" y1="735.0" x2="620.6" y2="737.8" stroke="#c8b810" stroke-width="1.6" stroke-linecap="round"/><circle cx="622.5" cy="736.0" r="1.2" fill="#b01a0a"/><line x1="624.2" y1="735.0" x2="624.2" y2="737.3" stroke="#d6d020" stroke-width="1.6" stroke-linecap="round"/><line x1="626.2" y1="735.0" x2="624.9" y2="738.2" stroke="#d6d020" stroke-width="1.6" stroke-linecap="round"/><circle cx="629.7" cy="738.2" r="1.5" fill="#b01a0a"/><line x1="633.6" y1="735.0" x2="634.8" y2="735.3" stroke="#b02010" stroke-width="1.6" stroke-linecap="round"/><circle cx="636.1" cy="735.9" r="1.5" fill="#b02010"/><circle cx="639.6" cy="738.8" r="1.5" fill="#c8b810"/><circle cx="642.5" cy="738.8" r="1.2" fill="#b02010"/><line x1="646.5" y1="735.0" x2="645.1" y2="737.6" stroke="#d6d020" stroke-width="1.6" stroke-linecap="round"/><circle cx="650.7" cy="735.8" r="1.5" fill="#d6d020"/><circle cx="652.4" cy="735.5" r="1.4" fill="#d6d020"/><circle cx="656.8" cy="736.4" r="1.9" fill="#b02010"/><circle cx="660.1" cy="738.5" r="1.8" fill="#b02010"/><line x1="662.3" y1="735.0" x2="661.8" y2="737.5" stroke="#b02010" stroke-width="1.6" stroke-linecap="round"/><line x1="665.7" y1="735.0" x2="667.0" y2="736.4" stroke="#b02010" stroke-width="1.6" stroke-linecap="round"/><circle cx="667.4" cy="738.2" r="1.7" fill="#b01a0a"/><line x1="670.2" y1="735.0" x2="669.9" y2="738.3" stroke="#d6d020" stroke-width="1.6" stroke-linecap="round"/><line x1="673.7" y1="735.0" x2="673.9" y2="737.1" stroke="#d6d020" stroke-width="1.6" stroke-linecap="round"/><line x1="676.2" y1="735.0" x2="675.8" y2="738.8" stroke="#b01a0a" stroke-width="1.6" stroke-linecap="round"/><circle cx="678.5" cy="736.1" r="1.2" fill="#b01a0a"/><circle cx="681.4" cy="735.3" r="1.7" fill="#d6d020"/><line x1="683.9" y1="735.0" x2="683.2" y2="738.9" stroke="#d6d020" stroke-width="1.6" stroke-linecap="round"/><line x1="687.9" y1="735.0" x2="690.3" y2="738.2" stroke="#d6d020" stroke-width="1.6" stroke-linecap="round"/>
<line x1="17.7" y1="753.0" x2="17.4" y2="750.0" stroke="#d6d020" stroke-width="1.6" stroke-linecap="round"/><circle cx="21.3" cy="747.8" r="1.3" fill="#b02010"/><line x1="23.0" y1="753.0" x2="25.1" y2="747.3" stroke="#d6d020" stroke-width="1.6" stroke-linecap="round"/><circle cx="26.6" cy="748.7" r="1.3" fill="#b01a0a"/><line x1="29.3" y1="753.0" x2="31.5" y2="747.6" stroke="#d6d020" stroke-width="1.6" stroke-linecap="round"/><line x1="33.2" y1="753.0" x2="32.0" y2="748.2" stroke="#b01a0a" stroke-width="1.6" stroke-linecap="round"/><line x1="37.5" y1="753.0" x2="39.8" y2="747.4" stroke="#b02010" stroke-width="1.6" stroke-linecap="round"/><line x1="40.6" y1="753.0" x2="39.0" y2="747.7" stroke="#b02010" stroke-width="1.6" stroke-linecap="round"/><circle cx="42.2" cy="749.3" r="1.3" fill="#b01a0a"/><line x1="46.4" y1="753.0" x2="45.4" y2="748.4" stroke="#c8b810" stroke-width="1.6" stroke-linecap="round"/><line x1="49.0" y1="753.0" x2="49.2" y2="749.8" stroke="#b01a0a" stroke-width="1.6" stroke-linecap="round"/><line x1="51.8" y1="753.0" x2="51.1" y2="750.6" stroke="#c8b810" stroke-width="1.6" stroke-linecap="round"/><line x1="54.6" y1="753.0" x2="53.1" y2="750.8" stroke="#c8b810" stroke-width="1.6" stroke-linecap="round"/><line x1="56.8" y1="753.0" x2="55.2" y2="750.6" stroke="#b01a0a" stroke-width="1.6" stroke-linecap="round"/><line x1="59.9" y1="753.0" x2="60.6" y2="750.3" stroke="#b02010" stroke-width="1.6" stroke-linecap="round"/><line x1="62.8" y1="753.0" x2="63.5" y2="748.9" stroke="#b01a0a" stroke-width="1.6" stroke-linecap="round"/><circle cx="64.9" cy="750.8" r="1.8" fill="#b01a0a"/><circle cx="69.1" cy="750.8" r="1.7" fill="#c8b810"/><line x1="71.1" y1="753.0" x2="70.9" y2="747.0" stroke="#b02010" stroke-width="1.6" stroke-linecap="round"/><circle cx="74.7" cy="747.2" r="1.8" fill="#b02010"/><line x1="77.0" y1="753.0" x2="77.7" y2="750.9" stroke="#b01a0a" stroke-width="1.6" stroke-linecap="round"/><line x1="79.5" y1="753.0" x2="80.5" y2="748.5" stroke="#d6d020" stroke-width="1.6" stroke-linecap="round"/><circle cx="81.6" cy="747.1" r="1.1" fill="#b01a0a"/><circle cx="83.7" cy="749.1" r="1.0" fill="#b02010"/><circle cx="87.5" cy="748.5" r="1.1" fill="#c8b810"/><circle cx="91.7" cy="750.8" r="1.8" fill="#d6d020"/><line x1="93.3" y1="753.0" x2="91.0" y2="748.0" stroke="#d6d020" stroke-width="1.6" stroke-linecap="round"/><circle cx="96.9" cy="749.1" r="1.2" fill="#c8b810"/><line x1="99.2" y1="753.0" x2="97.6" y2="747.3" stroke="#b01a0a" stroke-width="1.6" stroke-linecap="round"/><circle cx="103.5" cy="750.8" r="1.6" fill="#b02010"/><circle cx="105.2" cy="748.2" r="1.8" fill="#c8b810"/><circle cx="107.3" cy="747.6" r="1.5" fill="#c8b810"/><line x1="109.2" y1="753.0" x2="110.2" y2="750.0" stroke="#b02010" stroke-width="1.6" stroke-linecap="round"/><line x1="112.8" y1="753.0" x2="114.8" y2="750.3" stroke="#b01a0a" stroke-width="1.6" stroke-linecap="round"/><line x1="116.0" y1="753.0" x2="114.8" y2="749.9" stroke="#b02010" stroke-width="1.6" stroke-linecap="round"/><line x1="118.3" y1="753.0" x2="118.3" y2="749.6" stroke="#d6d020" stroke-width="1.6" stroke-linecap="round"/><circle cx="121.3" cy="747.1" r="1.4" fill="#d6d020"/><line x1="125.4" y1="753.0" x2="123.9" y2="749.5" stroke="#b01a0a" stroke-width="1.6" stroke-linecap="round"/><circle cx="127.4" cy="747.3" r="1.1" fill="#b01a0a"/><circle cx="130.5" cy="750.2" r="2.0" fill="#d6d020"/><circle cx="132.0" cy="747.9" r="1.9" fill="#b02010"/><circle cx="135.5" cy="750.6" r="1.2" fill="#b01a0a"/><circle cx="138.5" cy="747.4" r="1.6" fill="#b02010"/><line x1="142.3" y1="753.0" x2="143.7" y2="749.7" stroke="#b02010" stroke-width="1.6" stroke-linecap="round"/><line x1="143.9" y1="753.0" x2="143.0" y2="747.8" stroke="#d6d020" stroke-width="1.6" stroke-linecap="round"/><circle cx="146.3" cy="750.0" r="1.3" fill="#d6d020"/><line x1="150.4" y1="753.0" x2="152.0" y2="750.5" stroke="#b02010" stroke-width="1.6" stroke-linecap="round"/><circle cx="154.7" cy="749.1" r="1.4" fill="#d6d020"/><circle cx="158.6" cy="750.1" r="1.6" fill="#b02010"/><circle cx="162.9" cy="749.1" r="1.5" fill="#b01a0a"/><line x1="164.6" y1="753.0" x2="164.4" y2="748.0" stroke="#d6d020" stroke-width="1.6" stroke-linecap="round"/><circle cx="166.9" cy="747.7" r="1.5" fill="#d6d020"/><circle cx="170.8" cy="750.7" r="1.4" fill="#c8b810"/><line x1="175.1" y1="753.0" x2="174.5" y2="749.3" stroke="#c8b810" stroke-width="1.6" stroke-linecap="round"/><circle cx="177.9" cy="749.6" r="1.0" fill="#c8b810"/><line x1="179.7" y1="753.0" x2="177.6" y2="747.6" stroke="#d6d020" stroke-width="1.6" stroke-linecap="round"/><circle cx="182.9" cy="748.5" r="1.9" fill="#b02010"/><line x1="186.1" y1="753.0" x2="184.6" y2="748.8" stroke="#b02010" stroke-width="1.6" stroke-linecap="round"/><line x1="190.0" y1="753.0" x2="191.4" y2="749.2" stroke="#c8b810" stroke-width="1.6" stroke-linecap="round"/><line x1="193.5" y1="753.0" x2="192.3" y2="748.8" stroke="#c8b810" stroke-width="1.6" stroke-linecap="round"/><line x1="197.6" y1="753.0" x2="198.5" y2="750.1" stroke="#d6d020" stroke-width="1.6" stroke-linecap="round"/><circle cx="200.8" cy="748.6" r="1.5" fill="#d6d020"/><circle cx="204.7" cy="748.7" r="1.4" fill="#b01a0a"/><line x1="206.6" y1="753.0" x2="205.7" y2="750.8" stroke="#d6d020" stroke-width="1.6" stroke-linecap="round"/><line x1="210.5" y1="753.0" x2="212.6" y2="747.8" stroke="#d6d020" stroke-width="1.6" stroke-linecap="round"/><line x1="213.2" y1="753.0" x2="212.0" y2="749.5" stroke="#b01a0a" stroke-width="1.6" stroke-linecap="round"/><circle cx="214.7" cy="747.0" r="1.5" fill="#c8b810"/><circle cx="216.7" cy="748.2" r="1.1" fill="#d6d020"/><line x1="218.7" y1="753.0" x2="219.6" y2="748.2" stroke="#b01a0a" stroke-width="1.6" stroke-linecap="round"/><line x1="221.8" y1="753.0" x2="220.4" y2="748.2" stroke="#b02010" stroke-width="1.6" stroke-linecap="round"/><circle cx="223.8" cy="748.5" r="1.0" fill="#b01a0a"/><circle cx="226.9" cy="748.5" r="1.4" fill="#c8b810"/><line x1="230.6" y1="753.0" x2="229.4" y2="747.6" stroke="#d6d020" stroke-width="1.6" stroke-linecap="round"/><line x1="233.8" y1="753.0" x2="236.0" y2="750.4" stroke="#b02010" stroke-width="1.6" stroke-linecap="round"/><line x1="236.9" y1="753.0" x2="235.1" y2="748.2" stroke="#b01a0a" stroke-width="1.6" stroke-linecap="round"/><circle cx="241.2" cy="749.2" r="1.1" fill="#b01a0a"/><circle cx="244.6" cy="749.4" r="1.6" fill="#c8b810"/><line x1="248.5" y1="753.0" x2="246.5" y2="747.3" stroke="#d6d020" stroke-width="1.6" stroke-linecap="round"/><line x1="251.3" y1="753.0" x2="251.1" y2="749.7" stroke="#d6d020" stroke-width="1.6" stroke-linecap="round"/><circle cx="253.3" cy="747.0" r="1.4" fill="#b01a0a"/><circle cx="256.8" cy="748.5" r="1.7" fill="#c8b810"/><line x1="260.5" y1="753.0" x2="262.9" y2="749.8" stroke="#b02010" stroke-width="1.6" stroke-linecap="round"/><circle cx="262.4" cy="749.4" r="1.9" fill="#c8b810"/><circle cx="264.7" cy="748.1" r="1.9" fill="#b02010"/><circle cx="268.7" cy="750.2" r="1.7" fill="#c8b810"/><circle cx="270.3" cy="747.7" r="1.3" fill="#b01a0a"/><line x1="272.1" y1="753.0" x2="270.5" y2="747.2" stroke="#d6d020" stroke-width="1.6" stroke-linecap="round"/><line x1="274.4" y1="753.0" x2="275.4" y2="747.9" stroke="#d6d020" stroke-width="1.6" stroke-linecap="round"/><circle cx="276.3" cy="750.5" r="1.8" fill="#b02010"/><line x1="280.7" y1="753.0" x2="281.3" y2="749.6" stroke="#b02010" stroke-width="1.6" stroke-linecap="round"/><circle cx="284.2" cy="748.8" r="1.6" fill="#c8b810"/><line x1="286.1" y1="753.0" x2="288.2" y2="750.0" stroke="#b02010" stroke-width="1.6" stroke-linecap="round"/><line x1="288.3" y1="753.0" x2="287.2" y2="748.7" stroke="#b01a0a" stroke-width="1.6" stroke-linecap="round"/><circle cx="290.1" cy="747.9" r="1.7" fill="#b01a0a"/><circle cx="293.7" cy="748.0" r="1.7" fill="#c8b810"/><circle cx="297.5" cy="750.3" r="1.3" fill="#d6d020"/><line x1="299.2" y1="753.0" x2="299.2" y2="750.1" stroke="#c8b810" stroke-width="1.6" stroke-linecap="round"/><circle cx="301.4" cy="749.9" r="2.0" fill="#d6d020"/><circle cx="303.0" cy="748.7" r="1.3" fill="#b01a0a"/><circle cx="306.9" cy="749.5" r="1.5" fill="#c8b810"/><circle cx="310.0" cy="750.6" r="1.9" fill="#b02010"/><circle cx="312.6" cy="748.6" r="2.0" fill="#d6d020"/><circle cx="314.3" cy="749.7" r="1.4" fill="#c8b810"/><line x1="316.2" y1="753.0" x2="315.5" y2="749.6" stroke="#b02010" stroke-width="1.6" stroke-linecap="round"/><line x1="320.1" y1="753.0" x2="321.6" y2="748.0" stroke="#b02010" stroke-width="1.6" stroke-linecap="round"/><line x1="322.9" y1="753.0" x2="322.8" y2="748.0" stroke="#d6d020" stroke-width="1.6" stroke-linecap="round"/><circle cx="327.4" cy="750.1" r="1.1" fill="#d6d020"/><line x1="330.0" y1="753.0" x2="329.8" y2="749.2" stroke="#c8b810" stroke-width="1.6" stroke-linecap="round"/><circle cx="333.9" cy="750.5" r="1.3" fill="#c8b810"/><line x1="335.8" y1="753.0" x2="336.3" y2="748.8" stroke="#c8b810" stroke-width="1.6" stroke-linecap="round"/><circle cx="339.1" cy="749.4" r="1.5" fill="#c8b810"/><line x1="342.1" y1="753.0" x2="343.1" y2="748.1" stroke="#b01a0a" stroke-width="1.6" stroke-linecap="round"/><line x1="345.3" y1="753.0" x2="344.5" y2="747.1" stroke="#b02010" stroke-width="1.6" stroke-linecap="round"/><line x1="349.1" y1="753.0" x2="350.5" y2="749.1" stroke="#b01a0a" stroke-width="1.6" stroke-linecap="round"/><circle cx="350.6" cy="749.4" r="1.1" fill="#d6d020"/><circle cx="352.6" cy="749.6" r="1.3" fill="#d6d020"/><line x1="355.2" y1="753.0" x2="357.6" y2="750.7" stroke="#b01a0a" stroke-width="1.6" stroke-linecap="round"/><line x1="359.0" y1="753.0" x2="359.0" y2="748.7" stroke="#d6d020" stroke-width="1.6" stroke-linecap="round"/><circle cx="362.2" cy="747.6" r="1.9" fill="#b01a0a"/><line x1="364.7" y1="753.0" x2="367.1" y2="748.0" stroke="#b01a0a" stroke-width="1.6" stroke-linecap="round"/><circle cx="368.7" cy="748.9" r="1.5" fill="#d6d020"/><circle cx="372.2" cy="748.7" r="1.2" fill="#b01a0a"/><circle cx="375.1" cy="748.8" r="1.2" fill="#b01a0a"/><circle cx="377.7" cy="748.3" r="1.9" fill="#c8b810"/><line x1="379.3" y1="753.0" x2="380.0" y2="748.3" stroke="#b02010" stroke-width="1.6" stroke-linecap="round"/><circle cx="383.6" cy="747.0" r="1.6" fill="#d6d020"/><circle cx="386.0" cy="748.6" r="2.0" fill="#b01a0a"/><circle cx="389.1" cy="749.8" r="1.9" fill="#d6d020"/><line x1="390.6" y1="753.0" x2="390.1" y2="750.0" stroke="#d6d020" stroke-width="1.6" stroke-linecap="round"/><line x1="395.0" y1="753.0" x2="396.6" y2="749.3" stroke="#b02010" stroke-width="1.6" stroke-linecap="round"/><line x1="398.2" y1="753.0" x2="396.1" y2="749.8" stroke="#c8b810" stroke-width="1.6" stroke-linecap="round"/><circle cx="401.9" cy="748.5" r="1.4" fill="#b02010"/><circle cx="403.7" cy="748.1" r="1.8" fill="#c8b810"/><circle cx="407.5" cy="748.1" r="1.7" fill="#b02010"/><line x1="410.9" y1="753.0" x2="410.9" y2="747.3" stroke="#d6d020" stroke-width="1.6" stroke-linecap="round"/><line x1="413.7" y1="753.0" x2="415.7" y2="747.6" stroke="#c8b810" stroke-width="1.6" stroke-linecap="round"/><circle cx="416.1" cy="750.1" r="1.7" fill="#b01a0a"/><circle cx="418.5" cy="750.0" r="1.5" fill="#c8b810"/><circle cx="422.2" cy="747.1" r="1.5" fill="#d6d020"/><line x1="424.1" y1="753.0" x2="424.0" y2="749.4" stroke="#c8b810" stroke-width="1.6" stroke-linecap="round"/><circle cx="428.0" cy="747.3" r="1.6" fill="#b01a0a"/><line x1="431.1" y1="753.0" x2="430.2" y2="750.6" stroke="#d6d020" stroke-width="1.6" stroke-linecap="round"/><line x1="433.9" y1="753.0" x2="433.5" y2="750.4" stroke="#c8b810" stroke-width="1.6" stroke-linecap="round"/><circle cx="437.0" cy="747.6" r="1.3" fill="#d6d020"/><circle cx="440.0" cy="747.5" r="1.9" fill="#d6d020"/><line x1="443.8" y1="753.0" x2="442.1" y2="750.3" stroke="#b01a0a" stroke-width="1.6" stroke-linecap="round"/><circle cx="446.0" cy="748.9" r="1.3" fill="#b01a0a"/><circle cx="450.1" cy="748.0" r="1.4" fill="#b02010"/><circle cx="451.7" cy="747.6" r="1.5" fill="#d6d020"/><line x1="455.5" y1="753.0" x2="456.3" y2="748.5" stroke="#b02010" stroke-width="1.6" stroke-linecap="round"/><line x1="459.7" y1="753.0" x2="459.1" y2="750.5" stroke="#b01a0a" stroke-width="1.6" stroke-linecap="round"/><line x1="462.0" y1="753.0" x2="463.3" y2="750.2" stroke="#b01a0a" stroke-width="1.6" stroke-linecap="round"/><line x1="466.4" y1="753.0" x2="464.5" y2="750.8" stroke="#d6d020" stroke-width="1.6" stroke-linecap="round"/><circle cx="469.6" cy="747.0" r="1.4" fill="#d6d020"/><line x1="472.2" y1="753.0" x2="469.9" y2="748.3" stroke="#b02010" stroke-width="1.6" stroke-linecap="round"/><line x1="475.8" y1="753.0" x2="475.3" y2="750.2" stroke="#c8b810" stroke-width="1.6" stroke-linecap="round"/><circle cx="477.5" cy="747.9" r="1.0" fill="#b02010"/><line x1="479.3" y1="753.0" x2="479.6" y2="750.0" stroke="#b01a0a" stroke-width="1.6" stroke-linecap="round"/><line x1="482.8" y1="753.0" x2="484.4" y2="748.5" stroke="#d6d020" stroke-width="1.6" stroke-linecap="round"/><line x1="486.6" y1="753.0" x2="487.8" y2="747.3" stroke="#b02010" stroke-width="1.6" stroke-linecap="round"/><circle cx="490.5" cy="750.9" r="1.3" fill="#b01a0a"/><line x1="492.0" y1="753.0" x2="489.8" y2="747.5" stroke="#b02010" stroke-width="1.6" stroke-linecap="round"/><line x1="493.6" y1="753.0" x2="493.4" y2="749.8" stroke="#b02010" stroke-width="1.6" stroke-linecap="round"/><circle cx="497.2" cy="747.0" r="1.0" fill="#b01a0a"/><line x1="500.8" y1="753.0" x2="501.5" y2="749.6" stroke="#b02010" stroke-width="1.6" stroke-linecap="round"/><line x1="504.4" y1="753.0" x2="502.2" y2="748.0" stroke="#d6d020" stroke-width="1.6" stroke-linecap="round"/><line x1="508.4" y1="753.0" x2="510.8" y2="750.3" stroke="#b02010" stroke-width="1.6" stroke-linecap="round"/><line x1="511.2" y1="753.0" x2="511.2" y2="748.4" stroke="#c8b810" stroke-width="1.6" stroke-linecap="round"/><circle cx="513.7" cy="750.1" r="1.0" fill="#d6d020"/><circle cx="516.2" cy="750.4" r="1.4" fill="#d6d020"/><circle cx="518.6" cy="747.6" r="1.4" fill="#b01a0a"/><line x1="520.4" y1="753.0" x2="522.9" y2="747.8" stroke="#d6d020" stroke-width="1.6" stroke-linecap="round"/><line x1="522.7" y1="753.0" x2="522.4" y2="749.2" stroke="#b02010" stroke-width="1.6" stroke-linecap="round"/><line x1="526.4" y1="753.0" x2="525.5" y2="747.1" stroke="#b01a0a" stroke-width="1.6" stroke-linecap="round"/><circle cx="529.8" cy="747.2" r="1.7" fill="#b02010"/><line x1="533.5" y1="753.0" x2="532.8" y2="748.9" stroke="#d6d020" stroke-width="1.6" stroke-linecap="round"/><line x1="535.9" y1="753.0" x2="536.1" y2="750.4" stroke="#b02010" stroke-width="1.6" stroke-linecap="round"/><circle cx="539.9" cy="750.9" r="1.3" fill="#b01a0a"/><circle cx="544.1" cy="748.2" r="1.5" fill="#d6d020"/><circle cx="546.1" cy="748.7" r="1.5" fill="#c8b810"/><line x1="548.4" y1="753.0" x2="548.4" y2="748.6" stroke="#d6d020" stroke-width="1.6" stroke-linecap="round"/><line x1="551.4" y1="753.0" x2="549.6" y2="748.2" stroke="#b02010" stroke-width="1.6" stroke-linecap="round"/><circle cx="553.1" cy="748.4" r="1.7" fill="#b01a0a"/><line x1="556.3" y1="753.0" x2="558.7" y2="749.7" stroke="#c8b810" stroke-width="1.6" stroke-linecap="round"/><circle cx="559.3" cy="749.3" r="1.5" fill="#b01a0a"/><line x1="562.5" y1="753.0" x2="561.8" y2="748.9" stroke="#d6d020" stroke-width="1.6" stroke-linecap="round"/><line x1="566.8" y1="753.0" x2="566.2" y2="748.7" stroke="#b01a0a" stroke-width="1.6" stroke-linecap="round"/><circle cx="568.7" cy="748.5" r="1.0" fill="#c8b810"/><line x1="572.5" y1="753.0" x2="573.8" y2="750.4" stroke="#c8b810" stroke-width="1.6" stroke-linecap="round"/><circle cx="574.0" cy="747.5" r="1.6" fill="#c8b810"/><circle cx="577.9" cy="749.6" r="1.3" fill="#d6d020"/><line x1="581.9" y1="753.0" x2="581.7" y2="748.5" stroke="#c8b810" stroke-width="1.6" stroke-linecap="round"/><circle cx="584.8" cy="747.1" r="1.1" fill="#b01a0a"/><line x1="588.2" y1="753.0" x2="587.9" y2="748.5" stroke="#d6d020" stroke-width="1.6" stroke-linecap="round"/><line x1="590.0" y1="753.0" x2="587.9" y2="748.4" stroke="#d6d020" stroke-width="1.6" stroke-linecap="round"/><line x1="592.4" y1="753.0" x2="593.2" y2="749.3" stroke="#b02010" stroke-width="1.6" stroke-linecap="round"/><circle cx="594.9" cy="748.1" r="1.5" fill="#b02010"/><circle cx="598.4" cy="749.7" r="1.6" fill="#c8b810"/><line x1="600.5" y1="753.0" x2="602.7" y2="749.3" stroke="#d6d020" stroke-width="1.6" stroke-linecap="round"/><circle cx="602.8" cy="748.4" r="1.5" fill="#c8b810"/><line x1="606.8" y1="753.0" x2="606.2" y2="747.4" stroke="#b01a0a" stroke-width="1.6" stroke-linecap="round"/><line x1="608.7" y1="753.0" x2="608.4" y2="749.1" stroke="#b02010" stroke-width="1.6" stroke-linecap="round"/><circle cx="612.3" cy="750.0" r="1.4" fill="#d6d020"/><circle cx="615.3" cy="748.3" r="1.3" fill="#d6d020"/><circle cx="617.6" cy="750.6" r="1.1" fill="#b02010"/><circle cx="619.2" cy="747.0" r="1.6" fill="#b02010"/><circle cx="622.5" cy="747.9" r="1.6" fill="#c8b810"/><circle cx="624.0" cy="750.4" r="1.4" fill="#d6d020"/><line x1="628.0" y1="753.0" x2="629.0" y2="747.5" stroke="#b01a0a" stroke-width="1.6" stroke-linecap="round"/><circle cx="631.4" cy="748.3" r="1.5" fill="#d6d020"/><circle cx="634.8" cy="749.6" r="1.1" fill="#c8b810"/><circle cx="637.5" cy="750.5" r="1.2" fill="#b02010"/><circle cx="640.7" cy="749.3" r="1.7" fill="#c8b810"/><line x1="645.1" y1="753.0" x2="644.4" y2="749.3" stroke="#b01a0a" stroke-width="1.6" stroke-linecap="round"/><line x1="649.2" y1="753.0" x2="651.0" y2="750.3" stroke="#c8b810" stroke-width="1.6" stroke-linecap="round"/><circle cx="651.7" cy="748.6" r="1.3" fill="#b01a0a"/><circle cx="654.4" cy="747.8" r="1.7" fill="#c8b810"/><line x1="657.2" y1="753.0" x2="655.4" y2="747.5" stroke="#b02010" stroke-width="1.6" stroke-linecap="round"/><line x1="660.3" y1="753.0" x2="661.0" y2="749.1" stroke="#c8b810" stroke-width="1.6" stroke-linecap="round"/><line x1="663.7" y1="753.0" x2="663.7" y2="748.0" stroke="#d6d020" stroke-width="1.6" stroke-linecap="round"/><line x1="665.3" y1="753.0" x2="667.1" y2="749.7" stroke="#b01a0a" stroke-width="1.6" stroke-linecap="round"/><circle cx="668.3" cy="748.1" r="1.6" fill="#c8b810"/><line x1="670.1" y1="753.0" x2="668.2" y2="750.0" stroke="#c8b810" stroke-width="1.6" stroke-linecap="round"/><circle cx="672.9" cy="748.4" r="1.9" fill="#b02010"/><line x1="674.7" y1="753.0" x2="676.5" y2="748.9" stroke="#b01a0a" stroke-width="1.6" stroke-linecap="round"/><line x1="678.2" y1="753.0" x2="679.2" y2="748.3" stroke="#c8b810" stroke-width="1.6" stroke-linecap="round"/><line x1="682.3" y1="753.0" x2="681.5" y2="747.4" stroke="#c8b810" stroke-width="1.6" stroke-linecap="round"/><circle cx="686.4" cy="748.5" r="2.0" fill="#d6d020"/><line x1="688.0" y1="753.0" x2="689.9" y2="749.9" stroke="#c8b810" stroke-width="1.6" stroke-linecap="round"/>
<circle cx="17.7" cy="882.1" r="1.6" fill="#b02010"/><circle cx="20.5" cy="879.0" r="1.4" fill="#b02010"/><circle cx="22.6" cy="882.1" r="2.0" fill="#c8b810"/><line x1="25.6" y1="878.5" x2="24.9" y2="880.6" stroke="#b01a0a" stroke-width="1.6" stroke-linecap="round"/><line x1="27.3" y1="878.5" x2="27.9" y2="880.9" stroke="#b01a0a" stroke-width="1.6" stroke-linecap="round"/><line x1="31.7" y1="878.5" x2="34.1" y2="880.8" stroke="#b02010" stroke-width="1.6" stroke-linecap="round"/><line x1="34.1" y1="878.5" x2="32.4" y2="880.8" stroke="#b02010" stroke-width="1.6" stroke-linecap="round"/><circle cx="37.0" cy="881.2" r="1.8" fill="#c8b810"/><circle cx="40.1" cy="880.8" r="1.4" fill="#d6d020"/><circle cx="43.3" cy="881.8" r="1.4" fill="#b02010"/><circle cx="45.7" cy="882.1" r="1.2" fill="#b02010"/><line x1="47.6" y1="878.5" x2="46.3" y2="881.3" stroke="#b01a0a" stroke-width="1.6" stroke-linecap="round"/><circle cx="50.8" cy="882.3" r="2.0" fill="#b01a0a"/><circle cx="52.4" cy="880.1" r="1.2" fill="#c8b810"/><line x1="54.0" y1="878.5" x2="54.2" y2="881.7" stroke="#d6d020" stroke-width="1.6" stroke-linecap="round"/><line x1="58.4" y1="878.5" x2="57.8" y2="879.9" stroke="#b01a0a" stroke-width="1.6" stroke-linecap="round"/><line x1="60.5" y1="878.5" x2="61.8" y2="879.6" stroke="#b01a0a" stroke-width="1.6" stroke-linecap="round"/><circle cx="63.4" cy="879.4" r="1.5" fill="#b02010"/><circle cx="65.4" cy="879.5" r="1.9" fill="#d6d020"/><circle cx="68.2" cy="881.1" r="1.2" fill="#b02010"/><line x1="71.6" y1="878.5" x2="73.6" y2="878.8" stroke="#c8b810" stroke-width="1.6" stroke-linecap="round"/><circle cx="75.3" cy="880.2" r="1.9" fill="#b02010"/><circle cx="78.7" cy="881.8" r="1.6" fill="#b01a0a"/><line x1="81.1" y1="878.5" x2="79.0" y2="879.5" stroke="#c8b810" stroke-width="1.6" stroke-linecap="round"/><line x1="84.3" y1="878.5" x2="84.2" y2="879.4" stroke="#b01a0a" stroke-width="1.6" stroke-linecap="round"/><circle cx="87.2" cy="878.5" r="1.8" fill="#b02010"/><line x1="89.1" y1="878.5" x2="87.5" y2="879.3" stroke="#c8b810" stroke-width="1.6" stroke-linecap="round"/><circle cx="92.0" cy="882.3" r="1.3" fill="#c8b810"/><circle cx="95.2" cy="880.6" r="1.9" fill="#d6d020"/><circle cx="97.0" cy="882.0" r="1.8" fill="#b01a0a"/><circle cx="100.5" cy="879.7" r="1.3" fill="#c8b810"/><circle cx="102.9" cy="879.1" r="1.9" fill="#b02010"/><line x1="106.4" y1="878.5" x2="105.9" y2="880.7" stroke="#b02010" stroke-width="1.6" stroke-linecap="round"/><circle cx="110.6" cy="880.5" r="1.5" fill="#d6d020"/><circle cx="112.5" cy="878.5" r="1.8" fill="#c8b810"/><line x1="114.3" y1="878.5" x2="113.2" y2="878.7" stroke="#c8b810" stroke-width="1.6" stroke-linecap="round"/><line x1="116.9" y1="878.5" x2="115.3" y2="881.0" stroke="#d6d020" stroke-width="1.6" stroke-linecap="round"/><circle cx="119.9" cy="879.7" r="1.9" fill="#b02010"/><circle cx="123.4" cy="878.7" r="1.7" fill="#d6d020"/><circle cx="127.8" cy="880.9" r="1.7" fill="#d6d020"/><line x1="130.8" y1="878.5" x2="132.4" y2="880.8" stroke="#b02010" stroke-width="1.6" stroke-linecap="round"/><circle cx="134.1" cy="879.8" r="1.1" fill="#b01a0a"/><line x1="138.1" y1="878.5" x2="139.4" y2="882.4" stroke="#d6d020" stroke-width="1.6" stroke-linecap="round"/><line x1="140.3" y1="878.5" x2="138.9" y2="881.2" stroke="#c8b810" stroke-width="1.6" stroke-linecap="round"/><line x1="143.5" y1="878.5" x2="145.8" y2="880.3" stroke="#b02010" stroke-width="1.6" stroke-linecap="round"/><line x1="146.9" y1="878.5" x2="148.6" y2="880.0" stroke="#b02010" stroke-width="1.6" stroke-linecap="round"/><circle cx="148.5" cy="879.9" r="1.7" fill="#c8b810"/><circle cx="150.5" cy="880.1" r="1.3" fill="#b02010"/><circle cx="153.3" cy="880.9" r="1.2" fill="#d6d020"/><circle cx="155.7" cy="880.3" r="1.8" fill="#b02010"/><line x1="159.0" y1="878.5" x2="158.6" y2="880.6" stroke="#b01a0a" stroke-width="1.6" stroke-linecap="round"/><line x1="162.3" y1="878.5" x2="161.9" y2="882.4" stroke="#c8b810" stroke-width="1.6" stroke-linecap="round"/><circle cx="164.0" cy="880.1" r="1.1" fill="#b01a0a"/><line x1="165.6" y1="878.5" x2="166.4" y2="879.9" stroke="#c8b810" stroke-width="1.6" stroke-linecap="round"/><circle cx="170.0" cy="881.4" r="2.0" fill="#b02010"/><circle cx="173.8" cy="880.7" r="1.1" fill="#c8b810"/><line x1="176.7" y1="878.5" x2="174.8" y2="882.4" stroke="#d6d020" stroke-width="1.6" stroke-linecap="round"/><circle cx="178.2" cy="880.6" r="1.3" fill="#d6d020"/><circle cx="182.7" cy="881.3" r="1.9" fill="#b02010"/><line x1="187.0" y1="878.5" x2="185.6" y2="879.9" stroke="#b02010" stroke-width="1.6" stroke-linecap="round"/><line x1="190.5" y1="878.5" x2="188.7" y2="878.8" stroke="#d6d020" stroke-width="1.6" stroke-linecap="round"/><circle cx="194.8" cy="882.4" r="1.8" fill="#b02010"/><circle cx="196.5" cy="882.3" r="1.5" fill="#b01a0a"/><circle cx="200.8" cy="880.5" r="1.6" fill="#b01a0a"/><circle cx="205.3" cy="882.0" r="1.7" fill="#b01a0a"/><circle cx="209.0" cy="881.1" r="1.8" fill="#b01a0a"/><line x1="212.0" y1="878.5" x2="212.5" y2="879.5" stroke="#d6d020" stroke-width="1.6" stroke-linecap="round"/><line x1="214.6" y1="878.5" x2="216.1" y2="880.8" stroke="#b01a0a" stroke-width="1.6" stroke-linecap="round"/><circle cx="218.0" cy="879.1" r="1.6" fill="#d6d020"/><circle cx="222.4" cy="878.5" r="1.5" fill="#c8b810"/><circle cx="224.7" cy="881.8" r="1.8" fill="#b01a0a"/><line x1="228.6" y1="878.5" x2="229.4" y2="879.1" stroke="#d6d020" stroke-width="1.6" stroke-linecap="round"/><circle cx="230.4" cy="881.5" r="1.2" fill="#c8b810"/><circle cx="234.0" cy="881.9" r="1.6" fill="#d6d020"/><circle cx="237.9" cy="879.0" r="1.1" fill="#d6d020"/><line x1="241.5" y1="878.5" x2="239.5" y2="882.4" stroke="#c8b810" stroke-width="1.6" stroke-linecap="round"/><circle cx="243.7" cy="881.0" r="1.2" fill="#b02010"/><line x1="246.9" y1="878.5" x2="249.2" y2="879.8" stroke="#d6d020" stroke-width="1.6" stroke-linecap="round"/><circle cx="248.7" cy="881.4" r="1.6" fill="#d6d020"/><circle cx="252.1" cy="880.3" r="1.9" fill="#b01a0a"/><line x1="254.4" y1="878.5" x2="253.6" y2="880.4" stroke="#d6d020" stroke-width="1.6" stroke-linecap="round"/><line x1="256.2" y1="878.5" x2="254.2" y2="882.1" stroke="#c8b810" stroke-width="1.6" stroke-linecap="round"/><line x1="259.3" y1="878.5" x2="257.6" y2="880.0" stroke="#c8b810" stroke-width="1.6" stroke-linecap="round"/><line x1="263.4" y1="878.5" x2="264.8" y2="878.6" stroke="#b01a0a" stroke-width="1.6" stroke-linecap="round"/><line x1="267.0" y1="878.5" x2="267.7" y2="881.9" stroke="#b01a0a" stroke-width="1.6" stroke-linecap="round"/><line x1="271.0" y1="878.5" x2="273.1" y2="882.3" stroke="#b02010" stroke-width="1.6" stroke-linecap="round"/><circle cx="272.9" cy="879.0" r="1.5" fill="#b02010"/><circle cx="276.2" cy="881.2" r="1.3" fill="#c8b810"/><line x1="279.9" y1="878.5" x2="281.4" y2="881.8" stroke="#d6d020" stroke-width="1.6" stroke-linecap="round"/><line x1="283.1" y1="878.5" x2="280.8" y2="880.4" stroke="#c8b810" stroke-width="1.6" stroke-linecap="round"/><circle cx="285.8" cy="879.6" r="1.6" fill="#b01a0a"/><line x1="288.0" y1="878.5" x2="286.7" y2="880.2" stroke="#b02010" stroke-width="1.6" stroke-linecap="round"/><line x1="289.8" y1="878.5" x2="292.1" y2="879.5" stroke="#b02010" stroke-width="1.6" stroke-linecap="round"/><circle cx="293.3" cy="880.5" r="1.8" fill="#d6d020"/><line x1="296.1" y1="878.5" x2="297.8" y2="880.7" stroke="#b02010" stroke-width="1.6" stroke-linecap="round"/><line x1="297.7" y1="878.5" x2="298.9" y2="882.1" stroke="#c8b810" stroke-width="1.6" stroke-linecap="round"/><circle cx="299.4" cy="879.0" r="1.4" fill="#d6d020"/><line x1="303.5" y1="878.5" x2="302.8" y2="879.2" stroke="#b02010" stroke-width="1.6" stroke-linecap="round"/><line x1="305.9" y1="878.5" x2="304.4" y2="882.2" stroke="#c8b810" stroke-width="1.6" stroke-linecap="round"/><line x1="309.1" y1="878.5" x2="308.0" y2="882.1" stroke="#c8b810" stroke-width="1.6" stroke-linecap="round"/><line x1="312.1" y1="878.5" x2="313.7" y2="881.4" stroke="#d6d020" stroke-width="1.6" stroke-linecap="round"/><circle cx="315.2" cy="879.0" r="1.4" fill="#b01a0a"/><line x1="319.1" y1="878.5" x2="317.3" y2="881.6" stroke="#c8b810" stroke-width="1.6" stroke-linecap="round"/><line x1="322.7" y1="878.5" x2="321.2" y2="879.6" stroke="#b01a0a" stroke-width="1.6" stroke-linecap="round"/><line x1="325.1" y1="878.5" x2="326.7" y2="880.8" stroke="#c8b810" stroke-width="1.6" stroke-linecap="round"/><line x1="327.4" y1="878.5" x2="327.1" y2="879.2" stroke="#c8b810" stroke-width="1.6" stroke-linecap="round"/><line x1="331.3" y1="878.5" x2="333.6" y2="881.3" stroke="#b01a0a" stroke-width="1.6" stroke-linecap="round"/><line x1="335.4" y1="878.5" x2="333.8" y2="882.4" stroke="#b01a0a" stroke-width="1.6" stroke-linecap="round"/><circle cx="339.4" cy="879.4" r="1.7" fill="#d6d020"/><circle cx="342.4" cy="878.8" r="1.2" fill="#c8b810"/><line x1="346.6" y1="878.5" x2="344.5" y2="881.7" stroke="#b01a0a" stroke-width="1.6" stroke-linecap="round"/><line x1="348.2" y1="878.5" x2="345.8" y2="880.0" stroke="#d6d020" stroke-width="1.6" stroke-linecap="round"/><line x1="350.9" y1="878.5" x2="352.3" y2="880.8" stroke="#b02010" stroke-width="1.6" stroke-linecap="round"/><line x1="355.1" y1="878.5" x2="353.3" y2="879.6" stroke="#d6d020" stroke-width="1.6" stroke-linecap="round"/><line x1="356.9" y1="878.5" x2="359.1" y2="878.9" stroke="#d6d020" stroke-width="1.6" stroke-linecap="round"/><circle cx="360.9" cy="880.6" r="1.5" fill="#c8b810"/><line x1="364.9" y1="878.5" x2="363.2" y2="882.0" stroke="#b01a0a" stroke-width="1.6" stroke-linecap="round"/><circle cx="367.3" cy="881.9" r="1.4" fill="#c8b810"/><line x1="369.8" y1="878.5" x2="369.9" y2="879.8" stroke="#b01a0a" stroke-width="1.6" stroke-linecap="round"/><circle cx="373.8" cy="880.4" r="1.8" fill="#d6d020"/><line x1="377.8" y1="878.5" x2="379.1" y2="881.0" stroke="#b02010" stroke-width="1.6" stroke-linecap="round"/><line x1="380.2" y1="878.5" x2="377.9" y2="880.2" stroke="#d6d020" stroke-width="1.6" stroke-linecap="round"/><line x1="381.9" y1="878.5" x2="382.9" y2="880.1" stroke="#b02010" stroke-width="1.6" stroke-linecap="round"/><line x1="386.1" y1="878.5" x2="384.4" y2="880.8" stroke="#d6d020" stroke-width="1.6" stroke-linecap="round"/><circle cx="388.3" cy="880.7" r="1.7" fill="#b01a0a"/><circle cx="391.2" cy="880.1" r="1.8" fill="#b01a0a"/><line x1="395.4" y1="878.5" x2="395.6" y2="879.9" stroke="#b01a0a" stroke-width="1.6" stroke-linecap="round"/><circle cx="398.0" cy="882.3" r="1.2" fill="#b02010"/><circle cx="400.0" cy="881.8" r="1.7" fill="#d6d020"/><line x1="404.3" y1="878.5" x2="401.9" y2="879.1" stroke="#c8b810" stroke-width="1.6" stroke-linecap="round"/><circle cx="406.4" cy="879.4" r="1.4" fill="#c8b810"/><line x1="409.2" y1="878.5" x2="410.3" y2="880.8" stroke="#b01a0a" stroke-width="1.6" stroke-linecap="round"/><circle cx="411.3" cy="881.6" r="1.1" fill="#c8b810"/><line x1="413.9" y1="878.5" x2="415.6" y2="879.9" stroke="#c8b810" stroke-width="1.6" stroke-linecap="round"/><line x1="418.2" y1="878.5" x2="415.8" y2="879.8" stroke="#b02010" stroke-width="1.6" stroke-linecap="round"/><line x1="421.4" y1="878.5" x2="420.2" y2="879.7" stroke="#c8b810" stroke-width="1.6" stroke-linecap="round"/><circle cx="423.2" cy="882.4" r="2.0" fill="#b01a0a"/><circle cx="425.0" cy="880.7" r="1.5" fill="#b01a0a"/><circle cx="427.5" cy="880.9" r="1.4" fill="#b02010"/><circle cx="429.4" cy="882.3" r="1.3" fill="#d6d020"/><line x1="431.7" y1="878.5" x2="430.4" y2="881.3" stroke="#b02010" stroke-width="1.6" stroke-linecap="round"/><circle cx="435.0" cy="880.6" r="1.2" fill="#c8b810"/><circle cx="439.1" cy="881.0" r="1.8" fill="#c8b810"/><circle cx="441.5" cy="880.1" r="1.6" fill="#d6d020"/><line x1="445.4" y1="878.5" x2="443.8" y2="878.5" stroke="#b01a0a" stroke-width="1.6" stroke-linecap="round"/><line x1="449.5" y1="878.5" x2="449.0" y2="882.5" stroke="#d6d020" stroke-width="1.6" stroke-linecap="round"/><circle cx="453.7" cy="881.6" r="1.4" fill="#b02010"/><circle cx="455.9" cy="879.1" r="1.3" fill="#c8b810"/><circle cx="458.1" cy="881.3" r="1.7" fill="#b01a0a"/><line x1="462.3" y1="878.5" x2="460.2" y2="881.3" stroke="#c8b810" stroke-width="1.6" stroke-linecap="round"/><circle cx="466.7" cy="881.3" r="1.3" fill="#d6d020"/><line x1="468.9" y1="878.5" x2="467.9" y2="879.1" stroke="#b01a0a" stroke-width="1.6" stroke-linecap="round"/><line x1="470.7" y1="878.5" x2="470.7" y2="880.4" stroke="#d6d020" stroke-width="1.6" stroke-linecap="round"/><line x1="474.7" y1="878.5" x2="476.5" y2="880.5" stroke="#c8b810" stroke-width="1.6" stroke-linecap="round"/><circle cx="478.2" cy="880.5" r="1.2" fill="#b02010"/><circle cx="481.7" cy="881.2" r="1.8" fill="#d6d020"/><line x1="485.5" y1="878.5" x2="486.3" y2="879.6" stroke="#b01a0a" stroke-width="1.6" stroke-linecap="round"/><line x1="489.5" y1="878.5" x2="488.1" y2="882.2" stroke="#b01a0a" stroke-width="1.6" stroke-linecap="round"/><line x1="492.8" y1="878.5" x2="495.2" y2="880.4" stroke="#d6d020" stroke-width="1.6" stroke-linecap="round"/><line x1="496.9" y1="878.5" x2="496.3" y2="881.7" stroke="#d6d020" stroke-width="1.6" stroke-linecap="round"/><circle cx="500.2" cy="879.7" r="2.0" fill="#d6d020"/><line x1="504.1" y1="878.5" x2="504.2" y2="879.1" stroke="#d6d020" stroke-width="1.6" stroke-linecap="round"/><line x1="507.2" y1="878.5" x2="508.9" y2="881.2" stroke="#c8b810" stroke-width="1.6" stroke-linecap="round"/><circle cx="509.0" cy="881.8" r="1.7" fill="#c8b810"/><circle cx="513.0" cy="879.4" r="1.0" fill="#b02010"/><circle cx="515.6" cy="880.5" r="1.1" fill="#c8b810"/><circle cx="517.7" cy="879.7" r="1.5" fill="#b01a0a"/><line x1="521.4" y1="878.5" x2="520.3" y2="878.9" stroke="#b01a0a" stroke-width="1.6" stroke-linecap="round"/><line x1="524.4" y1="878.5" x2="523.0" y2="880.0" stroke="#b02010" stroke-width="1.6" stroke-linecap="round"/><line x1="527.0" y1="878.5" x2="527.2" y2="881.2" stroke="#b01a0a" stroke-width="1.6" stroke-linecap="round"/><line x1="529.8" y1="878.5" x2="529.5" y2="878.5" stroke="#b01a0a" stroke-width="1.6" stroke-linecap="round"/><circle cx="531.4" cy="880.6" r="1.2" fill="#b01a0a"/><circle cx="535.3" cy="881.3" r="1.0" fill="#d6d020"/><circle cx="537.7" cy="880.5" r="2.0" fill="#b01a0a"/><circle cx="541.5" cy="879.6" r="1.5" fill="#b01a0a"/><circle cx="544.0" cy="881.4" r="1.2" fill="#b01a0a"/><line x1="547.5" y1="878.5" x2="547.0" y2="881.2" stroke="#d6d020" stroke-width="1.6" stroke-linecap="round"/><circle cx="551.1" cy="878.7" r="2.0" fill="#c8b810"/><circle cx="554.9" cy="880.9" r="1.2" fill="#b02010"/><circle cx="556.6" cy="882.1" r="1.9" fill="#b02010"/><line x1="558.5" y1="878.5" x2="558.9" y2="880.9" stroke="#c8b810" stroke-width="1.6" stroke-linecap="round"/><line x1="560.8" y1="878.5" x2="562.2" y2="879.5" stroke="#c8b810" stroke-width="1.6" stroke-linecap="round"/><line x1="563.5" y1="878.5" x2="562.4" y2="879.5" stroke="#b02010" stroke-width="1.6" stroke-linecap="round"/><circle cx="566.8" cy="879.8" r="1.4" fill="#b01a0a"/><line x1="569.0" y1="878.5" x2="570.6" y2="879.4" stroke="#b01a0a" stroke-width="1.6" stroke-linecap="round"/><circle cx="573.2" cy="880.5" r="1.9" fill="#d6d020"/><line x1="576.5" y1="878.5" x2="574.8" y2="879.0" stroke="#c8b810" stroke-width="1.6" stroke-linecap="round"/><line x1="578.5" y1="878.5" x2="580.4" y2="881.8" stroke="#b02010" stroke-width="1.6" stroke-linecap="round"/><line x1="581.2" y1="878.5" x2="581.1" y2="880.2" stroke="#c8b810" stroke-width="1.6" stroke-linecap="round"/><circle cx="583.6" cy="880.7" r="1.1" fill="#b02010"/><line x1="587.8" y1="878.5" x2="585.4" y2="879.6" stroke="#b02010" stroke-width="1.6" stroke-linecap="round"/><line x1="590.2" y1="878.5" x2="589.3" y2="880.3" stroke="#c8b810" stroke-width="1.6" stroke-linecap="round"/><line x1="593.3" y1="878.5" x2="594.2" y2="880.9" stroke="#b02010" stroke-width="1.6" stroke-linecap="round"/><circle cx="597.0" cy="879.2" r="1.9" fill="#d6d020"/><line x1="599.0" y1="878.5" x2="599.0" y2="881.9" stroke="#b02010" stroke-width="1.6" stroke-linecap="round"/><circle cx="602.5" cy="881.4" r="1.8" fill="#c8b810"/><line x1="606.5" y1="878.5" x2="604.5" y2="878.7" stroke="#d6d020" stroke-width="1.6" stroke-linecap="round"/><circle cx="608.9" cy="882.2" r="1.5" fill="#c8b810"/><line x1="610.4" y1="878.5" x2="608.1" y2="881.1" stroke="#c8b810" stroke-width="1.6" stroke-linecap="round"/><circle cx="612.6" cy="882.1" r="1.0" fill="#b01a0a"/><line x1="616.3" y1="878.5" x2="615.1" y2="880.9" stroke="#d6d020" stroke-width="1.6" stroke-linecap="round"/><circle cx="620.3" cy="878.7" r="1.4" fill="#b02010"/><circle cx="623.8" cy="881.9" r="1.3" fill="#b01a0a"/><line x1="627.6" y1="878.5" x2="626.9" y2="880.5" stroke="#d6d020" stroke-width="1.6" stroke-linecap="round"/><circle cx="631.8" cy="878.8" r="1.7" fill="#b02010"/><circle cx="635.2" cy="881.1" r="1.2" fill="#b02010"/><line x1="639.1" y1="878.5" x2="640.7" y2="879.9" stroke="#b01a0a" stroke-width="1.6" stroke-linecap="round"/><circle cx="642.6" cy="879.8" r="1.3" fill="#b02010"/><circle cx="644.8" cy="880.7" r="1.1" fill="#d6d020"/><circle cx="646.3" cy="878.9" r="1.6" fill="#d6d020"/><circle cx="648.5" cy="879.9" r="1.7" fill="#c8b810"/><line x1="652.1" y1="878.5" x2="653.1" y2="879.7" stroke="#b02010" stroke-width="1.6" stroke-linecap="round"/><line x1="654.1" y1="878.5" x2="651.6" y2="879.9" stroke="#c8b810" stroke-width="1.6" stroke-linecap="round"/><line x1="657.7" y1="878.5" x2="658.5" y2="878.5" stroke="#c8b810" stroke-width="1.6" stroke-linecap="round"/><circle cx="660.5" cy="880.4" r="1.1" fill="#d6d020"/><line x1="663.9" y1="878.5" x2="663.6" y2="879.1" stroke="#b02010" stroke-width="1.6" stroke-linecap="round"/><circle cx="666.1" cy="879.7" r="1.8" fill="#b02010"/><circle cx="670.1" cy="878.5" r="1.2" fill="#b01a0a"/><line x1="673.4" y1="878.5" x2="674.3" y2="881.4" stroke="#d6d020" stroke-width="1.6" stroke-linecap="round"/><line x1="677.7" y1="878.5" x2="676.8" y2="881.7" stroke="#b02010" stroke-width="1.6" stroke-linecap="round"/><line x1="679.3" y1="878.5" x2="677.4" y2="878.8" stroke="#b01a0a" stroke-width="1.6" stroke-linecap="round"/><line x1="681.7" y1="878.5" x2="679.9" y2="880.9" stroke="#c8b810" stroke-width="1.6" stroke-linecap="round"/><line x1="685.5" y1="878.5" x2="686.9" y2="879.0" stroke="#d6d020" stroke-width="1.6" stroke-linecap="round"/><line x1="687.3" y1="878.5" x2="687.3" y2="879.3" stroke="#b01a0a" stroke-width="1.6" stroke-linecap="round"/><line x1="688.9" y1="878.5" x2="690.5" y2="878.6" stroke="#d6d020" stroke-width="1.6" stroke-linecap="round"/>
<rect x="752" y="582" width="108" height="123" fill="url(#d_t1)"/>
<rect x="860" y="582" width="142" height="123" fill="url(#d_t2)"/>
<rect x="1002" y="582" width="215" height="123" fill="url(#d_t3)"/>
<rect x="1217" y="582" width="169" height="123" fill="url(#d_t4)"/>
<rect x="752" y="771" width="118" height="121.60000000000002" fill="url(#d_b1)"/>
<rect x="870" y="771" width="172" height="121.60000000000002" fill="url(#d_b2)"/>
<rect x="1042" y="771" width="178" height="121.60000000000002" fill="url(#d_b3)"/>
<rect x="1220" y="771" width="166" height="121.60000000000002" fill="url(#d_b4)"/>
<rect x="752" y="582" width="634" height="310.6" fill="url(#noise1)" opacity="0.35"/>
<rect x="752" y="705" width="634" height="66" fill="#680404"/>
<rect x="752" y="707" width="634" height="16" fill="#8a0808"/><line x1="752.0" y1="717.9" x2="795.0" y2="718.8" stroke="#c02020" stroke-width="2.1" stroke-opacity="0.8"/><line x1="799.3" y1="718.3" x2="852.1" y2="717.6" stroke="#b81414" stroke-width="2.5" stroke-opacity="0.8"/><line x1="853.0" y1="712.0" x2="889.1" y2="712.1" stroke="#c02020" stroke-width="1.5" stroke-opacity="0.8"/><line x1="894.9" y1="711.2" x2="928.3" y2="712.3" stroke="#7a0606" stroke-width="1.4" stroke-opacity="0.8"/><line x1="934.7" y1="716.4" x2="955.9" y2="715.3" stroke="#b81414" stroke-width="2.6" stroke-opacity="0.8"/><line x1="956.0" y1="720.5" x2="1005.8" y2="719.5" stroke="#b81414" stroke-width="1.6" stroke-opacity="0.8"/><line x1="1013.5" y1="717.1" x2="1052.7" y2="716.2" stroke="#c02020" stroke-width="1.5" stroke-opacity="0.8"/><line x1="1060.5" y1="709.3" x2="1092.7" y2="709.0" stroke="#b81414" stroke-width="1.6" stroke-opacity="0.8"/><line x1="1095.4" y1="716.0" x2="1147.2" y2="716.3" stroke="#c02020" stroke-width="1.7" stroke-opacity="0.8"/><line x1="1149.6" y1="714.8" x2="1201.5" y2="714.2" stroke="#7a0606" stroke-width="1.9" stroke-opacity="0.8"/><line x1="1202.9" y1="720.3" x2="1229.4" y2="721.6" stroke="#7a0606" stroke-width="2.4" stroke-opacity="0.8"/><line x1="1229.5" y1="713.4" x2="1280.0" y2="713.6" stroke="#b81414" stroke-width="1.8" stroke-opacity="0.8"/><line x1="1285.7" y1="720.5" x2="1328.7" y2="719.3" stroke="#b81414" stroke-width="2.5" stroke-opacity="0.8"/><line x1="1336.3" y1="713.3" x2="1366.8" y2="713.3" stroke="#7a0606" stroke-width="1.4" stroke-opacity="0.8"/><line x1="1372.7" y1="719.3" x2="1386.0" y2="717.9" stroke="#b81414" stroke-width="1.5" stroke-opacity="0.8"/><rect x="752" y="733.5" width="634" height="12.0" fill="#8a0808"/><line x1="752.0" y1="736.7" x2="783.3" y2="736.0" stroke="#c02020" stroke-width="2.0" stroke-opacity="0.8"/><line x1="785.8" y1="736.9" x2="815.1" y2="735.7" stroke="#b81414" stroke-width="2.2" stroke-opacity="0.8"/><line x1="817.5" y1="741.3" x2="854.3" y2="740.0" stroke="#c02020" stroke-width="1.9" stroke-opacity="0.8"/><line x1="857.6" y1="740.3" x2="883.2" y2="741.2" stroke="#7a0606" stroke-width="2.1" stroke-opacity="0.8"/><line x1="884.4" y1="740.6" x2="943.5" y2="741.5" stroke="#7a0606" stroke-width="2.4" stroke-opacity="0.8"/><line x1="944.5" y1="743.1" x2="992.4" y2="743.5" stroke="#7a0606" stroke-width="1.3" stroke-opacity="0.8"/><line x1="995.9" y1="742.3" x2="1017.6" y2="741.6" stroke="#7a0606" stroke-width="2.5" stroke-opacity="0.8"/><line x1="1022.6" y1="739.7" x2="1045.2" y2="741.1" stroke="#c02020" stroke-width="2.2" stroke-opacity="0.8"/><line x1="1049.0" y1="738.7" x2="1077.1" y2="737.7" stroke="#7a0606" stroke-width="2.4" stroke-opacity="0.8"/><line x1="1081.4" y1="743.0" x2="1104.5" y2="744.1" stroke="#b81414" stroke-width="1.3" stroke-opacity="0.8"/><line x1="1106.6" y1="742.4" x2="1156.8" y2="742.0" stroke="#7a0606" stroke-width="2.2" stroke-opacity="0.8"/><line x1="1162.1" y1="738.4" x2="1211.3" y2="739.0" stroke="#7a0606" stroke-width="2.4" stroke-opacity="0.8"/><line x1="1213.5" y1="741.2" x2="1272.6" y2="742.6" stroke="#7a0606" stroke-width="2.1" stroke-opacity="0.8"/><line x1="1277.2" y1="739.9" x2="1292.8" y2="739.1" stroke="#c02020" stroke-width="1.6" stroke-opacity="0.8"/><line x1="1295.1" y1="740.9" x2="1332.6" y2="740.5" stroke="#7a0606" stroke-width="2.1" stroke-opacity="0.8"/><line x1="1338.5" y1="738.3" x2="1386.0" y2="739.3" stroke="#c02020" stroke-width="1.8" stroke-opacity="0.8"/><rect x="752" y="754" width="634" height="15" fill="#8a0808"/><line x1="752.0" y1="757.6" x2="782.0" y2="759.0" stroke="#b81414" stroke-width="2.4" stroke-opacity="0.8"/><line x1="789.5" y1="763.6" x2="826.0" y2="764.3" stroke="#c02020" stroke-width="1.8" stroke-opacity="0.8"/><line x1="831.0" y1="761.7" x2="888.1" y2="763.0" stroke="#7a0606" stroke-width="2.1" stroke-opacity="0.8"/><line x1="894.3" y1="763.9" x2="937.9" y2="762.5" stroke="#b81414" stroke-width="2.0" stroke-opacity="0.8"/><line x1="942.9" y1="764.3" x2="966.1" y2="763.4" stroke="#c02020" stroke-width="1.3" stroke-opacity="0.8"/><line x1="969.8" y1="756.6" x2="995.0" y2="755.5" stroke="#7a0606" stroke-width="2.6" stroke-opacity="0.8"/><line x1="998.9" y1="760.6" x2="1038.6" y2="760.1" stroke="#c02020" stroke-width="2.1" stroke-opacity="0.8"/><line x1="1043.3" y1="765.9" x2="1069.0" y2="764.4" stroke="#7a0606" stroke-width="2.5" stroke-opacity="0.8"/><line x1="1075.8" y1="763.6" x2="1129.8" y2="763.7" stroke="#b81414" stroke-width="2.0" stroke-opacity="0.8"/><line x1="1132.2" y1="761.6" x2="1160.5" y2="763.0" stroke="#7a0606" stroke-width="2.5" stroke-opacity="0.8"/><line x1="1167.1" y1="764.9" x2="1200.9" y2="765.4" stroke="#7a0606" stroke-width="1.9" stroke-opacity="0.8"/><line x1="1202.2" y1="761.2" x2="1234.4" y2="760.3" stroke="#b81414" stroke-width="2.1" stroke-opacity="0.8"/><line x1="1237.2" y1="756.0" x2="1292.4" y2="754.8" stroke="#c02020" stroke-width="2.5" stroke-opacity="0.8"/><line x1="1296.7" y1="765.6" x2="1326.4" y2="765.8" stroke="#7a0606" stroke-width="1.8" stroke-opacity="0.8"/><line x1="1328.2" y1="766.7" x2="1356.3" y2="766.3" stroke="#b81414" stroke-width="2.0" stroke-opacity="0.8"/><line x1="1358.4" y1="761.5" x2="1386.0" y2="761.2" stroke="#7a0606" stroke-width="2.5" stroke-opacity="0.8"/><ellipse cx="757.7" cy="727.0" rx="3.0" ry="2.0" fill="#fff" fill-opacity="0.92"/><ellipse cx="760.9" cy="728.9" rx="2.2" ry="1.4" fill="#fff" fill-opacity="0.92"/><ellipse cx="765.1" cy="730.6" rx="1.1" ry="1.4" fill="#fff" fill-opacity="0.92"/><ellipse cx="771.7" cy="728.6" rx="2.5" ry="2.0" fill="#fff" fill-opacity="0.92"/><ellipse cx="786.5" cy="729.7" rx="1.4" ry="1.1" fill="#fff" fill-opacity="0.92"/><ellipse cx="795.7" cy="726.3" rx="3.0" ry="1.8" fill="#fff" fill-opacity="0.92"/><ellipse cx="798.7" cy="729.6" rx="3.1" ry="0.9" fill="#fff" fill-opacity="0.92"/><ellipse cx="802.7" cy="729.6" rx="3.4" ry="1.5" fill="#fff" fill-opacity="0.92"/><ellipse cx="810.5" cy="728.4" rx="3.6" ry="1.8" fill="#fff" fill-opacity="0.92"/><ellipse cx="824.4" cy="725.5" rx="3.3" ry="1.1" fill="#fff" fill-opacity="0.92"/><ellipse cx="831.3" cy="727.4" rx="2.9" ry="1.3" fill="#fff" fill-opacity="0.92"/><ellipse cx="835.1" cy="728.7" rx="3.7" ry="2.0" fill="#fff" fill-opacity="0.92"/><ellipse cx="840.2" cy="727.1" rx="1.1" ry="1.7" fill="#fff" fill-opacity="0.92"/><ellipse cx="843.7" cy="728.1" rx="3.8" ry="1.2" fill="#fff" fill-opacity="0.92"/><ellipse cx="847.0" cy="726.2" rx="2.5" ry="0.9" fill="#fff" fill-opacity="0.92"/><ellipse cx="869.8" cy="725.9" rx="1.6" ry="1.8" fill="#fff" fill-opacity="0.92"/><ellipse cx="873.9" cy="727.2" rx="3.0" ry="1.7" fill="#fff" fill-opacity="0.92"/><ellipse cx="879.7" cy="725.6" rx="2.2" ry="1.5" fill="#fff" fill-opacity="0.92"/><ellipse cx="883.2" cy="729.4" rx="2.5" ry="1.2" fill="#fff" fill-opacity="0.92"/><ellipse cx="890.7" cy="729.6" rx="1.9" ry="1.5" fill="#fff" fill-opacity="0.92"/><ellipse cx="900.9" cy="730.5" rx="1.2" ry="1.0" fill="#fff" fill-opacity="0.92"/><ellipse cx="917.7" cy="727.5" rx="1.4" ry="0.8" fill="#fff" fill-opacity="0.92"/><ellipse cx="923.5" cy="728.2" rx="3.6" ry="1.4" fill="#fff" fill-opacity="0.92"/><ellipse cx="928.5" cy="728.7" rx="3.9" ry="0.9" fill="#fff" fill-opacity="0.92"/><ellipse cx="934.2" cy="728.1" rx="3.5" ry="1.9" fill="#fff" fill-opacity="0.92"/><ellipse cx="950.0" cy="730.5" rx="3.1" ry="1.2" fill="#fff" fill-opacity="0.92"/><ellipse cx="970.7" cy="727.7" rx="2.9" ry="2.0" fill="#fff" fill-opacity="0.92"/><ellipse cx="978.0" cy="726.6" rx="1.2" ry="0.8" fill="#fff" fill-opacity="0.92"/><ellipse cx="981.9" cy="727.6" rx="3.8" ry="1.6" fill="#fff" fill-opacity="0.92"/><ellipse cx="987.1" cy="727.4" rx="3.8" ry="1.9" fill="#fff" fill-opacity="0.92"/><ellipse cx="992.4" cy="730.7" rx="3.0" ry="0.8" fill="#fff" fill-opacity="0.92"/><ellipse cx="999.7" cy="730.4" rx="2.7" ry="0.9" fill="#fff" fill-opacity="0.92"/><ellipse cx="1006.5" cy="727.6" rx="1.1" ry="1.9" fill="#fff" fill-opacity="0.92"/><ellipse cx="1013.2" cy="728.2" rx="1.2" ry="0.8" fill="#fff" fill-opacity="0.92"/><ellipse cx="1020.5" cy="728.2" rx="3.4" ry="1.2" fill="#fff" fill-opacity="0.92"/><ellipse cx="1033.7" cy="729.7" rx="2.9" ry="1.9" fill="#fff" fill-opacity="0.92"/><ellipse cx="1040.1" cy="731.5" rx="2.1" ry="0.8" fill="#fff" fill-opacity="0.92"/><ellipse cx="1049.3" cy="729.9" rx="1.1" ry="1.5" fill="#fff" fill-opacity="0.92"/><ellipse cx="1053.7" cy="726.5" rx="2.4" ry="1.6" fill="#fff" fill-opacity="0.92"/><ellipse cx="1064.0" cy="726.9" rx="3.8" ry="1.6" fill="#fff" fill-opacity="0.92"/><ellipse cx="1071.1" cy="729.4" rx="2.4" ry="1.6" fill="#fff" fill-opacity="0.92"/><ellipse cx="1085.0" cy="726.7" rx="3.6" ry="1.9" fill="#fff" fill-opacity="0.92"/><ellipse cx="1091.5" cy="731.1" rx="1.6" ry="1.0" fill="#fff" fill-opacity="0.92"/><ellipse cx="1098.4" cy="726.0" rx="4.0" ry="1.0" fill="#fff" fill-opacity="0.92"/><ellipse cx="1105.1" cy="728.0" rx="2.3" ry="1.2" fill="#fff" fill-opacity="0.92"/><ellipse cx="1111.9" cy="730.0" rx="1.4" ry="0.8" fill="#fff" fill-opacity="0.92"/><ellipse cx="1126.4" cy="730.2" rx="1.4" ry="1.4" fill="#fff" fill-opacity="0.92"/><ellipse cx="1130.7" cy="728.3" rx="1.4" ry="1.4" fill="#fff" fill-opacity="0.92"/><ellipse cx="1145.0" cy="727.0" rx="1.8" ry="1.4" fill="#fff" fill-opacity="0.92"/><ellipse cx="1170.2" cy="725.7" rx="3.8" ry="0.9" fill="#fff" fill-opacity="0.92"/><ellipse cx="1173.9" cy="725.8" rx="3.3" ry="0.8" fill="#fff" fill-opacity="0.92"/><ellipse cx="1179.1" cy="727.4" rx="3.4" ry="1.5" fill="#fff" fill-opacity="0.92"/><ellipse cx="1183.6" cy="725.7" rx="2.5" ry="1.2" fill="#fff" fill-opacity="0.92"/><ellipse cx="1192.5" cy="728.1" rx="3.9" ry="1.8" fill="#fff" fill-opacity="0.92"/><ellipse cx="1199.8" cy="727.6" rx="1.4" ry="1.0" fill="#fff" fill-opacity="0.92"/><ellipse cx="1203.6" cy="727.1" rx="1.5" ry="2.0" fill="#fff" fill-opacity="0.92"/><ellipse cx="1209.7" cy="728.1" rx="1.4" ry="1.7" fill="#fff" fill-opacity="0.92"/><ellipse cx="1214.8" cy="729.1" rx="2.3" ry="1.0" fill="#fff" fill-opacity="0.92"/><ellipse cx="1218.7" cy="728.3" rx="3.0" ry="1.0" fill="#fff" fill-opacity="0.92"/><ellipse cx="1224.1" cy="729.6" rx="1.4" ry="1.8" fill="#fff" fill-opacity="0.92"/><ellipse cx="1228.2" cy="729.7" rx="3.7" ry="1.0" fill="#fff" fill-opacity="0.92"/><ellipse cx="1232.9" cy="727.3" rx="1.6" ry="1.8" fill="#fff" fill-opacity="0.92"/><ellipse cx="1245.4" cy="729.5" rx="3.4" ry="1.8" fill="#fff" fill-opacity="0.92"/><ellipse cx="1253.0" cy="726.4" rx="2.5" ry="1.2" fill="#fff" fill-opacity="0.92"/><ellipse cx="1257.2" cy="730.0" rx="1.3" ry="1.2" fill="#fff" fill-opacity="0.92"/><ellipse cx="1274.0" cy="726.7" rx="2.6" ry="0.9" fill="#fff" fill-opacity="0.92"/><ellipse cx="1280.4" cy="730.4" rx="2.8" ry="1.5" fill="#fff" fill-opacity="0.92"/><ellipse cx="1283.5" cy="728.5" rx="2.8" ry="1.4" fill="#fff" fill-opacity="0.92"/><ellipse cx="1289.2" cy="729.0" rx="2.3" ry="1.7" fill="#fff" fill-opacity="0.92"/><ellipse cx="1296.9" cy="728.0" rx="1.2" ry="0.9" fill="#fff" fill-opacity="0.92"/><ellipse cx="1304.7" cy="727.2" rx="3.3" ry="1.0" fill="#fff" fill-opacity="0.92"/><ellipse cx="1321.6" cy="731.1" rx="3.9" ry="0.8" fill="#fff" fill-opacity="0.92"/><ellipse cx="1325.8" cy="727.3" rx="1.3" ry="2.0" fill="#fff" fill-opacity="0.92"/><ellipse cx="1338.2" cy="726.1" rx="2.7" ry="1.4" fill="#fff" fill-opacity="0.92"/><ellipse cx="1341.8" cy="731.3" rx="3.4" ry="1.3" fill="#fff" fill-opacity="0.92"/><ellipse cx="1348.2" cy="726.7" rx="3.3" ry="1.4" fill="#fff" fill-opacity="0.92"/><ellipse cx="1354.5" cy="730.8" rx="2.0" ry="1.8" fill="#fff" fill-opacity="0.92"/><ellipse cx="1365.2" cy="730.3" rx="1.9" ry="1.7" fill="#fff" fill-opacity="0.92"/><ellipse cx="1372.0" cy="728.9" rx="1.6" ry="1.6" fill="#fff" fill-opacity="0.92"/><ellipse cx="1378.1" cy="726.9" rx="2.6" ry="1.3" fill="#fff" fill-opacity="0.92"/><ellipse cx="1383.5" cy="726.0" rx="1.7" ry="1.3" fill="#fff" fill-opacity="0.92"/><ellipse cx="754.0" cy="748.8" rx="2.3" ry="0.9" fill="#fff" fill-opacity="0.92"/><ellipse cx="759.8" cy="747.6" rx="2.3" ry="1.2" fill="#fff" fill-opacity="0.92"/><ellipse cx="766.7" cy="747.8" rx="1.2" ry="1.9" fill="#fff" fill-opacity="0.92"/><ellipse cx="772.3" cy="749.3" rx="1.6" ry="1.3" fill="#fff" fill-opacity="0.92"/><ellipse cx="793.1" cy="749.0" rx="3.0" ry="0.9" fill="#fff" fill-opacity="0.92"/><ellipse cx="803.8" cy="748.1" rx="2.0" ry="1.7" fill="#fff" fill-opacity="0.92"/><ellipse cx="811.3" cy="752.2" rx="2.7" ry="1.8" fill="#fff" fill-opacity="0.92"/><ellipse cx="820.1" cy="752.9" rx="1.5" ry="1.9" fill="#fff" fill-opacity="0.92"/><ellipse cx="826.9" cy="747.0" rx="3.8" ry="1.3" fill="#fff" fill-opacity="0.92"/><ellipse cx="838.5" cy="751.5" rx="2.1" ry="1.2" fill="#fff" fill-opacity="0.92"/><ellipse cx="850.5" cy="751.5" rx="3.4" ry="2.0" fill="#fff" fill-opacity="0.92"/><ellipse cx="854.5" cy="750.9" rx="1.4" ry="1.9" fill="#fff" fill-opacity="0.92"/><ellipse cx="861.3" cy="752.7" rx="1.3" ry="1.3" fill="#fff" fill-opacity="0.92"/><ellipse cx="864.6" cy="748.6" rx="1.7" ry="2.0" fill="#fff" fill-opacity="0.92"/><ellipse cx="871.2" cy="749.6" rx="3.9" ry="1.4" fill="#fff" fill-opacity="0.92"/><ellipse cx="882.4" cy="747.5" rx="2.4" ry="0.9" fill="#fff" fill-opacity="0.92"/><ellipse cx="889.5" cy="750.4" rx="3.4" ry="0.8" fill="#fff" fill-opacity="0.92"/><ellipse cx="907.7" cy="752.0" rx="3.9" ry="1.5" fill="#fff" fill-opacity="0.92"/><ellipse cx="913.0" cy="750.0" rx="1.5" ry="1.7" fill="#fff" fill-opacity="0.92"/><ellipse cx="926.6" cy="749.5" rx="2.8" ry="1.0" fill="#fff" fill-opacity="0.92"/><ellipse cx="940.4" cy="751.9" rx="3.7" ry="0.8" fill="#fff" fill-opacity="0.92"/><ellipse cx="944.2" cy="752.0" rx="1.9" ry="1.0" fill="#fff" fill-opacity="0.92"/><ellipse cx="947.6" cy="747.8" rx="2.2" ry="1.0" fill="#fff" fill-opacity="0.92"/><ellipse cx="952.4" cy="751.5" rx="2.9" ry="1.7" fill="#fff" fill-opacity="0.92"/><ellipse cx="955.8" cy="747.9" rx="1.1" ry="1.3" fill="#fff" fill-opacity="0.92"/><ellipse cx="967.5" cy="747.5" rx="2.4" ry="1.3" fill="#fff" fill-opacity="0.92"/><ellipse cx="972.3" cy="747.5" rx="1.0" ry="1.8" fill="#fff" fill-opacity="0.92"/><ellipse cx="976.0" cy="748.8" rx="2.0" ry="1.0" fill="#fff" fill-opacity="0.92"/><ellipse cx="989.3" cy="748.8" rx="1.3" ry="1.2" fill="#fff" fill-opacity="0.92"/><ellipse cx="996.8" cy="752.8" rx="2.3" ry="1.8" fill="#fff" fill-opacity="0.92"/><ellipse cx="1000.5" cy="748.4" rx="1.0" ry="1.2" fill="#fff" fill-opacity="0.92"/><ellipse cx="1006.8" cy="748.4" rx="1.0" ry="1.0" fill="#fff" fill-opacity="0.92"/><ellipse cx="1013.4" cy="748.4" rx="1.9" ry="1.8" fill="#fff" fill-opacity="0.92"/><ellipse cx="1026.7" cy="747.7" rx="2.3" ry="0.9" fill="#fff" fill-opacity="0.92"/><ellipse cx="1034.3" cy="750.6" rx="1.8" ry="1.5" fill="#fff" fill-opacity="0.92"/><ellipse cx="1039.2" cy="751.1" rx="3.5" ry="1.5" fill="#fff" fill-opacity="0.92"/><ellipse cx="1045.4" cy="747.6" rx="1.6" ry="1.5" fill="#fff" fill-opacity="0.92"/><ellipse cx="1055.9" cy="747.0" rx="2.4" ry="0.8" fill="#fff" fill-opacity="0.92"/><ellipse cx="1061.7" cy="747.7" rx="1.1" ry="1.7" fill="#fff" fill-opacity="0.92"/><ellipse cx="1069.1" cy="749.9" rx="2.0" ry="1.8" fill="#fff" fill-opacity="0.92"/><ellipse cx="1072.8" cy="748.5" rx="1.8" ry="0.8" fill="#fff" fill-opacity="0.92"/><ellipse cx="1083.2" cy="752.0" rx="3.6" ry="1.9" fill="#fff" fill-opacity="0.92"/><ellipse cx="1089.2" cy="747.7" rx="3.7" ry="1.2" fill="#fff" fill-opacity="0.92"/><ellipse cx="1094.4" cy="750.9" rx="2.8" ry="1.6" fill="#fff" fill-opacity="0.92"/><ellipse cx="1097.6" cy="749.7" rx="2.2" ry="1.4" fill="#fff" fill-opacity="0.92"/><ellipse cx="1103.4" cy="751.3" rx="3.1" ry="1.6" fill="#fff" fill-opacity="0.92"/><ellipse cx="1109.4" cy="750.1" rx="3.1" ry="1.1" fill="#fff" fill-opacity="0.92"/><ellipse cx="1122.9" cy="748.8" rx="1.8" ry="1.3" fill="#fff" fill-opacity="0.92"/><ellipse cx="1128.2" cy="750.9" rx="3.6" ry="1.2" fill="#fff" fill-opacity="0.92"/><ellipse cx="1133.7" cy="748.9" rx="3.0" ry="1.9" fill="#fff" fill-opacity="0.92"/><ellipse cx="1139.7" cy="750.8" rx="1.5" ry="2.0" fill="#fff" fill-opacity="0.92"/><ellipse cx="1144.9" cy="752.5" rx="2.2" ry="1.0" fill="#fff" fill-opacity="0.92"/><ellipse cx="1148.7" cy="747.1" rx="3.8" ry="1.2" fill="#fff" fill-opacity="0.92"/><ellipse cx="1153.9" cy="748.3" rx="2.5" ry="1.9" fill="#fff" fill-opacity="0.92"/><ellipse cx="1158.1" cy="748.9" rx="2.7" ry="1.1" fill="#fff" fill-opacity="0.92"/><ellipse cx="1164.2" cy="750.1" rx="2.3" ry="1.8" fill="#fff" fill-opacity="0.92"/><ellipse cx="1179.5" cy="748.7" rx="1.3" ry="1.8" fill="#fff" fill-opacity="0.92"/><ellipse cx="1186.3" cy="748.0" rx="3.3" ry="1.4" fill="#fff" fill-opacity="0.92"/><ellipse cx="1201.9" cy="753.0" rx="1.9" ry="1.2" fill="#fff" fill-opacity="0.92"/><ellipse cx="1206.9" cy="747.6" rx="1.2" ry="0.8" fill="#fff" fill-opacity="0.92"/><ellipse cx="1218.6" cy="752.6" rx="1.2" ry="1.3" fill="#fff" fill-opacity="0.92"/><ellipse cx="1224.3" cy="749.2" rx="3.0" ry="1.2" fill="#fff" fill-opacity="0.92"/><ellipse cx="1227.7" cy="750.7" rx="1.5" ry="1.1" fill="#fff" fill-opacity="0.92"/><ellipse cx="1231.2" cy="747.7" rx="3.0" ry="1.2" fill="#fff" fill-opacity="0.92"/><ellipse cx="1235.7" cy="752.3" rx="3.5" ry="0.8" fill="#fff" fill-opacity="0.92"/><ellipse cx="1243.6" cy="748.2" rx="3.0" ry="1.0" fill="#fff" fill-opacity="0.92"/><ellipse cx="1254.4" cy="748.8" rx="3.6" ry="1.6" fill="#fff" fill-opacity="0.92"/><ellipse cx="1266.3" cy="749.7" rx="1.5" ry="1.5" fill="#fff" fill-opacity="0.92"/><ellipse cx="1274.9" cy="751.6" rx="2.4" ry="1.9" fill="#fff" fill-opacity="0.92"/><ellipse cx="1280.1" cy="751.3" rx="1.7" ry="1.6" fill="#fff" fill-opacity="0.92"/><ellipse cx="1284.4" cy="749.9" rx="3.0" ry="1.8" fill="#fff" fill-opacity="0.92"/><ellipse cx="1295.0" cy="748.2" rx="2.6" ry="1.4" fill="#fff" fill-opacity="0.92"/><ellipse cx="1298.1" cy="752.2" rx="2.4" ry="1.8" fill="#fff" fill-opacity="0.92"/><ellipse cx="1303.7" cy="748.7" rx="2.8" ry="0.8" fill="#fff" fill-opacity="0.92"/><ellipse cx="1309.3" cy="748.7" rx="2.1" ry="1.7" fill="#fff" fill-opacity="0.92"/><ellipse cx="1316.5" cy="749.5" rx="1.5" ry="2.0" fill="#fff" fill-opacity="0.92"/><ellipse cx="1326.8" cy="749.0" rx="3.7" ry="1.4" fill="#fff" fill-opacity="0.92"/><ellipse cx="1336.4" cy="749.9" rx="3.0" ry="1.4" fill="#fff" fill-opacity="0.92"/><ellipse cx="1341.7" cy="752.8" rx="1.7" ry="0.8" fill="#fff" fill-opacity="0.92"/><ellipse cx="1348.4" cy="751.0" rx="1.5" ry="1.4" fill="#fff" fill-opacity="0.92"/><ellipse cx="1353.4" cy="750.9" rx="2.3" ry="1.8" fill="#fff" fill-opacity="0.92"/><ellipse cx="1361.0" cy="752.6" rx="1.7" ry="0.8" fill="#fff" fill-opacity="0.92"/><ellipse cx="1365.8" cy="750.3" rx="1.7" ry="0.9" fill="#fff" fill-opacity="0.92"/><ellipse cx="757.0" cy="705.6" rx="1.7" ry="1.0" fill="#fff" fill-opacity="0.92"/><ellipse cx="772.8" cy="706.8" rx="2.2" ry="1.6" fill="#fff" fill-opacity="0.92"/><ellipse cx="791.4" cy="706.5" rx="2.0" ry="1.3" fill="#fff" fill-opacity="0.92"/><ellipse cx="810.7" cy="705.2" rx="1.6" ry="0.8" fill="#fff" fill-opacity="0.92"/><ellipse cx="823.2" cy="707.7" rx="1.3" ry="0.9" fill="#fff" fill-opacity="0.92"/><ellipse cx="842.5" cy="706.3" rx="1.1" ry="1.0" fill="#fff" fill-opacity="0.92"/><ellipse cx="870.8" cy="707.6" rx="1.9" ry="1.6" fill="#fff" fill-opacity="0.92"/><ellipse cx="881.9" cy="706.3" rx="1.9" ry="1.6" fill="#fff" fill-opacity="0.92"/><ellipse cx="937.8" cy="706.7" rx="2.3" ry="1.1" fill="#fff" fill-opacity="0.92"/><ellipse cx="945.3" cy="706.2" rx="2.5" ry="1.3" fill="#fff" fill-opacity="0.92"/><ellipse cx="972.6" cy="706.1" rx="1.5" ry="1.0" fill="#fff" fill-opacity="0.92"/><ellipse cx="979.4" cy="707.8" rx="1.9" ry="1.7" fill="#fff" fill-opacity="0.92"/><ellipse cx="1005.0" cy="706.8" rx="1.5" ry="1.3" fill="#fff" fill-opacity="0.92"/><ellipse cx="1027.0" cy="706.9" rx="1.6" ry="0.9" fill="#fff" fill-opacity="0.92"/><ellipse cx="1039.5" cy="707.5" rx="1.2" ry="1.2" fill="#fff" fill-opacity="0.92"/><ellipse cx="1045.0" cy="707.8" rx="2.4" ry="1.6" fill="#fff" fill-opacity="0.92"/><ellipse cx="1068.5" cy="706.2" rx="1.8" ry="1.9" fill="#fff" fill-opacity="0.92"/><ellipse cx="1080.2" cy="705.1" rx="1.1" ry="1.2" fill="#fff" fill-opacity="0.92"/><ellipse cx="1087.1" cy="705.0" rx="2.4" ry="0.9" fill="#fff" fill-opacity="0.92"/><ellipse cx="1090.8" cy="707.1" rx="1.9" ry="1.5" fill="#fff" fill-opacity="0.92"/><ellipse cx="1098.5" cy="706.3" rx="1.6" ry="1.0" fill="#fff" fill-opacity="0.92"/><ellipse cx="1114.5" cy="705.1" rx="1.7" ry="1.3" fill="#fff" fill-opacity="0.92"/><ellipse cx="1126.5" cy="707.8" rx="1.7" ry="1.1" fill="#fff" fill-opacity="0.92"/><ellipse cx="1134.8" cy="705.4" rx="1.7" ry="1.1" fill="#fff" fill-opacity="0.92"/><ellipse cx="1146.6" cy="707.1" rx="2.5" ry="0.8" fill="#fff" fill-opacity="0.92"/><ellipse cx="1151.2" cy="706.5" rx="1.2" ry="1.9" fill="#fff" fill-opacity="0.92"/><ellipse cx="1154.8" cy="706.2" rx="1.3" ry="1.0" fill="#fff" fill-opacity="0.92"/><ellipse cx="1167.6" cy="705.3" rx="1.2" ry="1.4" fill="#fff" fill-opacity="0.92"/><ellipse cx="1172.2" cy="705.6" rx="2.3" ry="0.8" fill="#fff" fill-opacity="0.92"/><ellipse cx="1187.4" cy="705.1" rx="1.5" ry="1.2" fill="#fff" fill-opacity="0.92"/><ellipse cx="1222.3" cy="707.3" rx="1.5" ry="1.3" fill="#fff" fill-opacity="0.92"/><ellipse cx="1226.8" cy="707.5" rx="1.4" ry="2.0" fill="#fff" fill-opacity="0.92"/><ellipse cx="1237.8" cy="707.8" rx="2.1" ry="1.7" fill="#fff" fill-opacity="0.92"/><ellipse cx="1251.8" cy="707.8" rx="1.2" ry="1.7" fill="#fff" fill-opacity="0.92"/><ellipse cx="1256.4" cy="707.1" rx="1.9" ry="0.8" fill="#fff" fill-opacity="0.92"/><ellipse cx="1265.0" cy="707.5" rx="1.4" ry="1.0" fill="#fff" fill-opacity="0.92"/><ellipse cx="1287.2" cy="706.9" rx="1.4" ry="1.2" fill="#fff" fill-opacity="0.92"/><ellipse cx="1310.9" cy="705.8" rx="1.7" ry="1.1" fill="#fff" fill-opacity="0.92"/><ellipse cx="1344.1" cy="705.5" rx="1.0" ry="1.0" fill="#fff" fill-opacity="0.92"/><ellipse cx="1351.0" cy="706.8" rx="2.3" ry="1.8" fill="#fff" fill-opacity="0.92"/><ellipse cx="1355.7" cy="707.2" rx="1.8" ry="1.5" fill="#fff" fill-opacity="0.92"/><ellipse cx="1369.3" cy="707.1" rx="1.8" ry="1.0" fill="#fff" fill-opacity="0.92"/><ellipse cx="1382.6" cy="707.8" rx="1.4" ry="1.5" fill="#fff" fill-opacity="0.92"/><ellipse cx="754.0" cy="770.2" rx="2.2" ry="0.8" fill="#fff" fill-opacity="0.92"/><ellipse cx="761.9" cy="771.8" rx="2.3" ry="2.0" fill="#fff" fill-opacity="0.92"/><ellipse cx="782.4" cy="769.5" rx="2.2" ry="1.6" fill="#fff" fill-opacity="0.92"/><ellipse cx="806.7" cy="770.4" rx="2.5" ry="1.3" fill="#fff" fill-opacity="0.92"/><ellipse cx="813.9" cy="770.5" rx="2.2" ry="1.4" fill="#fff" fill-opacity="0.92"/><ellipse cx="820.1" cy="769.7" rx="1.4" ry="1.6" fill="#fff" fill-opacity="0.92"/><ellipse cx="823.8" cy="771.0" rx="1.7" ry="1.3" fill="#fff" fill-opacity="0.92"/><ellipse cx="836.4" cy="771.3" rx="1.2" ry="0.8" fill="#fff" fill-opacity="0.92"/><ellipse cx="843.6" cy="769.1" rx="1.3" ry="0.9" fill="#fff" fill-opacity="0.92"/><ellipse cx="850.5" cy="771.3" rx="2.5" ry="1.4" fill="#fff" fill-opacity="0.92"/><ellipse cx="855.2" cy="771.5" rx="1.2" ry="1.4" fill="#fff" fill-opacity="0.92"/><ellipse cx="862.7" cy="769.0" rx="2.2" ry="1.5" fill="#fff" fill-opacity="0.92"/><ellipse cx="870.6" cy="771.9" rx="1.8" ry="1.1" fill="#fff" fill-opacity="0.92"/><ellipse cx="880.0" cy="769.7" rx="1.7" ry="1.9" fill="#fff" fill-opacity="0.92"/><ellipse cx="885.1" cy="771.4" rx="1.7" ry="1.1" fill="#fff" fill-opacity="0.92"/><ellipse cx="889.3" cy="771.3" rx="1.4" ry="1.9" fill="#fff" fill-opacity="0.92"/><ellipse cx="897.2" cy="770.6" rx="1.8" ry="1.1" fill="#fff" fill-opacity="0.92"/><ellipse cx="903.4" cy="769.3" rx="2.0" ry="1.8" fill="#fff" fill-opacity="0.92"/><ellipse cx="907.9" cy="770.0" rx="2.4" ry="1.0" fill="#fff" fill-opacity="0.92"/><ellipse cx="911.8" cy="769.3" rx="2.0" ry="1.2" fill="#fff" fill-opacity="0.92"/><ellipse cx="923.9" cy="770.7" rx="1.1" ry="1.1" fill="#fff" fill-opacity="0.92"/><ellipse cx="933.8" cy="769.8" rx="2.4" ry="1.8" fill="#fff" fill-opacity="0.92"/><ellipse cx="970.2" cy="770.6" rx="2.0" ry="1.3" fill="#fff" fill-opacity="0.92"/><ellipse cx="999.6" cy="769.8" rx="1.7" ry="1.1" fill="#fff" fill-opacity="0.92"/><ellipse cx="1021.9" cy="770.6" rx="1.3" ry="1.0" fill="#fff" fill-opacity="0.92"/><ellipse cx="1029.2" cy="771.3" rx="1.5" ry="1.6" fill="#fff" fill-opacity="0.92"/><ellipse cx="1034.4" cy="770.9" rx="2.4" ry="2.0" fill="#fff" fill-opacity="0.92"/><ellipse cx="1045.5" cy="770.4" rx="1.5" ry="0.9" fill="#fff" fill-opacity="0.92"/><ellipse cx="1055.2" cy="769.7" rx="1.9" ry="2.0" fill="#fff" fill-opacity="0.92"/><ellipse cx="1065.6" cy="770.1" rx="1.8" ry="1.7" fill="#fff" fill-opacity="0.92"/><ellipse cx="1077.4" cy="771.5" rx="1.9" ry="1.3" fill="#fff" fill-opacity="0.92"/><ellipse cx="1081.5" cy="770.0" rx="2.1" ry="1.9" fill="#fff" fill-opacity="0.92"/><ellipse cx="1092.3" cy="771.0" rx="1.8" ry="1.9" fill="#fff" fill-opacity="0.92"/><ellipse cx="1100.7" cy="769.9" rx="1.8" ry="1.2" fill="#fff" fill-opacity="0.92"/><ellipse cx="1104.9" cy="769.9" rx="1.5" ry="1.8" fill="#fff" fill-opacity="0.92"/><ellipse cx="1109.5" cy="771.3" rx="2.3" ry="1.9" fill="#fff" fill-opacity="0.92"/><ellipse cx="1114.1" cy="769.3" rx="1.7" ry="2.0" fill="#fff" fill-opacity="0.92"/><ellipse cx="1117.9" cy="769.5" rx="2.0" ry="1.7" fill="#fff" fill-opacity="0.92"/><ellipse cx="1121.9" cy="770.9" rx="2.5" ry="1.1" fill="#fff" fill-opacity="0.92"/><ellipse cx="1129.4" cy="769.3" rx="2.2" ry="1.5" fill="#fff" fill-opacity="0.92"/><ellipse cx="1193.6" cy="770.5" rx="1.2" ry="1.5" fill="#fff" fill-opacity="0.92"/><ellipse cx="1201.6" cy="769.9" rx="1.7" ry="1.6" fill="#fff" fill-opacity="0.92"/><ellipse cx="1204.8" cy="771.3" rx="1.6" ry="1.5" fill="#fff" fill-opacity="0.92"/><ellipse cx="1215.9" cy="770.9" rx="1.2" ry="1.3" fill="#fff" fill-opacity="0.92"/><ellipse cx="1219.5" cy="769.1" rx="1.2" ry="1.8" fill="#fff" fill-opacity="0.92"/><ellipse cx="1225.5" cy="771.5" rx="2.0" ry="1.1" fill="#fff" fill-opacity="0.92"/><ellipse cx="1239.6" cy="770.5" rx="2.4" ry="1.6" fill="#fff" fill-opacity="0.92"/><ellipse cx="1247.1" cy="770.8" rx="1.4" ry="1.5" fill="#fff" fill-opacity="0.92"/><ellipse cx="1251.3" cy="769.2" rx="1.2" ry="1.3" fill="#fff" fill-opacity="0.92"/><ellipse cx="1258.8" cy="769.3" rx="1.1" ry="1.7" fill="#fff" fill-opacity="0.92"/><ellipse cx="1264.4" cy="770.7" rx="1.9" ry="1.6" fill="#fff" fill-opacity="0.92"/><ellipse cx="1277.4" cy="770.1" rx="1.2" ry="1.4" fill="#fff" fill-opacity="0.92"/><ellipse cx="1286.7" cy="769.4" rx="2.3" ry="1.5" fill="#fff" fill-opacity="0.92"/><ellipse cx="1306.3" cy="770.4" rx="1.3" ry="1.8" fill="#fff" fill-opacity="0.92"/><ellipse cx="1331.8" cy="770.3" rx="2.0" ry="1.6" fill="#fff" fill-opacity="0.92"/><ellipse cx="1335.5" cy="769.2" rx="2.3" ry="1.3" fill="#fff" fill-opacity="0.92"/><ellipse cx="1339.8" cy="771.0" rx="1.1" ry="0.8" fill="#fff" fill-opacity="0.92"/><ellipse cx="1345.4" cy="770.3" rx="2.3" ry="1.9" fill="#fff" fill-opacity="0.92"/><ellipse cx="1352.6" cy="772.0" rx="1.9" ry="1.0" fill="#fff" fill-opacity="0.92"/><ellipse cx="1363.9" cy="771.4" rx="1.1" ry="1.3" fill="#fff" fill-opacity="0.92"/><ellipse cx="1373.4" cy="770.3" rx="1.9" ry="0.8" fill="#fff" fill-opacity="0.92"/>
<circle cx="752.0" cy="580.6" r="1.2" fill="#b01a0a"/><circle cx="755.9" cy="580.0" r="1.0" fill="#b02010"/><line x1="759.5" y1="583.0" x2="761.3" y2="578.4" stroke="#c8b810" stroke-width="1.6" stroke-linecap="round"/><circle cx="762.5" cy="578.8" r="1.3" fill="#b02010"/><line x1="764.1" y1="583.0" x2="766.1" y2="579.5" stroke="#b01a0a" stroke-width="1.6" stroke-linecap="round"/><circle cx="766.9" cy="578.8" r="1.0" fill="#d6d020"/><circle cx="769.4" cy="579.0" r="1.5" fill="#d6d020"/><line x1="772.5" y1="583.0" x2="774.6" y2="577.8" stroke="#c8b810" stroke-width="1.6" stroke-linecap="round"/><line x1="776.3" y1="583.0" x2="776.0" y2="579.6" stroke="#b02010" stroke-width="1.6" stroke-linecap="round"/><circle cx="780.7" cy="578.1" r="1.5" fill="#c8b810"/><line x1="783.7" y1="583.0" x2="782.9" y2="579.0" stroke="#c8b810" stroke-width="1.6" stroke-linecap="round"/><line x1="787.8" y1="583.0" x2="788.1" y2="579.6" stroke="#c8b810" stroke-width="1.6" stroke-linecap="round"/><line x1="790.7" y1="583.0" x2="792.3" y2="577.2" stroke="#d6d020" stroke-width="1.6" stroke-linecap="round"/><circle cx="794.8" cy="577.9" r="1.3" fill="#b02010"/><circle cx="798.7" cy="579.8" r="1.5" fill="#c8b810"/><circle cx="803.0" cy="577.9" r="1.0" fill="#b01a0a"/><line x1="806.9" y1="583.0" x2="805.8" y2="580.8" stroke="#b01a0a" stroke-width="1.6" stroke-linecap="round"/><circle cx="809.1" cy="578.0" r="1.3" fill="#b01a0a"/><line x1="813.1" y1="583.0" x2="810.8" y2="579.3" stroke="#b01a0a" stroke-width="1.6" stroke-linecap="round"/><circle cx="815.7" cy="580.0" r="1.1" fill="#d6d020"/><circle cx="817.4" cy="578.1" r="1.3" fill="#b01a0a"/><line x1="821.3" y1="583.0" x2="818.8" y2="578.1" stroke="#d6d020" stroke-width="1.6" stroke-linecap="round"/><circle cx="824.6" cy="580.4" r="1.3" fill="#d6d020"/><circle cx="827.9" cy="579.9" r="1.3" fill="#b01a0a"/><line x1="831.1" y1="583.0" x2="832.9" y2="577.4" stroke="#b01a0a" stroke-width="1.6" stroke-linecap="round"/><circle cx="834.7" cy="577.2" r="1.7" fill="#c8b810"/><line x1="838.7" y1="583.0" x2="836.9" y2="579.2" stroke="#b01a0a" stroke-width="1.6" stroke-linecap="round"/><circle cx="842.0" cy="579.1" r="1.9" fill="#c8b810"/><circle cx="844.5" cy="578.6" r="1.0" fill="#b02010"/><circle cx="847.7" cy="578.3" r="1.1" fill="#d6d020"/><line x1="849.7" y1="583.0" x2="852.1" y2="578.5" stroke="#c8b810" stroke-width="1.6" stroke-linecap="round"/><circle cx="854.0" cy="580.1" r="1.3" fill="#d6d020"/><circle cx="857.3" cy="580.0" r="1.5" fill="#b02010"/><circle cx="858.8" cy="579.5" r="1.5" fill="#b01a0a"/><circle cx="860.6" cy="580.6" r="1.2" fill="#b01a0a"/><line x1="862.7" y1="583.0" x2="862.1" y2="579.2" stroke="#c8b810" stroke-width="1.6" stroke-linecap="round"/><circle cx="866.3" cy="578.1" r="1.5" fill="#d6d020"/><line x1="869.5" y1="583.0" x2="869.9" y2="577.5" stroke="#b01a0a" stroke-width="1.6" stroke-linecap="round"/><line x1="873.8" y1="583.0" x2="875.9" y2="579.5" stroke="#c8b810" stroke-width="1.6" stroke-linecap="round"/><line x1="877.1" y1="583.0" x2="876.1" y2="578.2" stroke="#b02010" stroke-width="1.6" stroke-linecap="round"/><circle cx="881.2" cy="580.6" r="1.8" fill="#c8b810"/><circle cx="884.7" cy="577.8" r="1.6" fill="#b01a0a"/><circle cx="887.6" cy="581.0" r="1.3" fill="#b01a0a"/><circle cx="891.3" cy="578.0" r="1.6" fill="#d6d020"/><circle cx="894.0" cy="580.4" r="1.9" fill="#c8b810"/><line x1="896.2" y1="583.0" x2="896.9" y2="580.7" stroke="#b01a0a" stroke-width="1.6" stroke-linecap="round"/><line x1="900.6" y1="583.0" x2="902.0" y2="580.9" stroke="#b01a0a" stroke-width="1.6" stroke-linecap="round"/><line x1="904.3" y1="583.0" x2="902.5" y2="579.8" stroke="#c8b810" stroke-width="1.6" stroke-linecap="round"/><circle cx="906.9" cy="578.9" r="2.0" fill="#c8b810"/><circle cx="910.8" cy="577.7" r="1.2" fill="#c8b810"/><line x1="913.8" y1="583.0" x2="914.8" y2="578.8" stroke="#b02010" stroke-width="1.6" stroke-linecap="round"/><circle cx="915.5" cy="580.7" r="1.5" fill="#b01a0a"/><line x1="919.5" y1="583.0" x2="920.4" y2="577.8" stroke="#b01a0a" stroke-width="1.6" stroke-linecap="round"/><circle cx="923.4" cy="580.5" r="1.2" fill="#b01a0a"/><line x1="926.9" y1="583.0" x2="925.0" y2="579.2" stroke="#b02010" stroke-width="1.6" stroke-linecap="round"/><line x1="930.0" y1="583.0" x2="931.1" y2="580.6" stroke="#c8b810" stroke-width="1.6" stroke-linecap="round"/><line x1="932.3" y1="583.0" x2="931.8" y2="579.2" stroke="#d6d020" stroke-width="1.6" stroke-linecap="round"/><line x1="936.8" y1="583.0" x2="938.3" y2="579.1" stroke="#d6d020" stroke-width="1.6" stroke-linecap="round"/><circle cx="939.4" cy="579.4" r="1.3" fill="#d6d020"/><circle cx="941.7" cy="578.2" r="2.0" fill="#c8b810"/><line x1="944.2" y1="583.0" x2="942.8" y2="578.0" stroke="#b01a0a" stroke-width="1.6" stroke-linecap="round"/><circle cx="947.5" cy="577.7" r="1.9" fill="#c8b810"/><line x1="951.8" y1="583.0" x2="953.7" y2="579.1" stroke="#b02010" stroke-width="1.6" stroke-linecap="round"/><line x1="955.2" y1="583.0" x2="956.4" y2="580.9" stroke="#b01a0a" stroke-width="1.6" stroke-linecap="round"/><circle cx="958.6" cy="577.5" r="1.8" fill="#d6d020"/><line x1="962.4" y1="583.0" x2="962.8" y2="579.9" stroke="#d6d020" stroke-width="1.6" stroke-linecap="round"/><line x1="965.3" y1="583.0" x2="965.2" y2="581.0" stroke="#d6d020" stroke-width="1.6" stroke-linecap="round"/><circle cx="968.4" cy="579.1" r="2.0" fill="#d6d020"/><line x1="970.1" y1="583.0" x2="970.9" y2="577.4" stroke="#b01a0a" stroke-width="1.6" stroke-linecap="round"/><line x1="971.8" y1="583.0" x2="971.6" y2="577.3" stroke="#c8b810" stroke-width="1.6" stroke-linecap="round"/><circle cx="975.9" cy="580.9" r="1.8" fill="#c8b810"/><line x1="977.9" y1="583.0" x2="979.6" y2="580.0" stroke="#c8b810" stroke-width="1.6" stroke-linecap="round"/><circle cx="981.6" cy="580.3" r="1.5" fill="#b01a0a"/><circle cx="984.0" cy="579.9" r="1.0" fill="#b01a0a"/><circle cx="985.6" cy="578.7" r="1.7" fill="#c8b810"/><line x1="988.6" y1="583.0" x2="990.7" y2="579.1" stroke="#d6d020" stroke-width="1.6" stroke-linecap="round"/><line x1="990.3" y1="583.0" x2="991.8" y2="579.8" stroke="#b02010" stroke-width="1.6" stroke-linecap="round"/><line x1="993.8" y1="583.0" x2="993.8" y2="578.9" stroke="#c8b810" stroke-width="1.6" stroke-linecap="round"/><line x1="995.9" y1="583.0" x2="994.9" y2="577.8" stroke="#d6d020" stroke-width="1.6" stroke-linecap="round"/><line x1="998.1" y1="583.0" x2="995.9" y2="578.8" stroke="#c8b810" stroke-width="1.6" stroke-linecap="round"/><circle cx="999.9" cy="577.6" r="1.4" fill="#c8b810"/><circle cx="1002.4" cy="580.3" r="1.3" fill="#b02010"/><circle cx="1006.6" cy="577.0" r="1.3" fill="#c8b810"/><line x1="1008.6" y1="583.0" x2="1010.3" y2="579.1" stroke="#d6d020" stroke-width="1.6" stroke-linecap="round"/><circle cx="1010.7" cy="577.8" r="1.8" fill="#d6d020"/><line x1="1014.1" y1="583.0" x2="1013.0" y2="577.8" stroke="#c8b810" stroke-width="1.6" stroke-linecap="round"/><line x1="1017.7" y1="583.0" x2="1019.6" y2="578.0" stroke="#b02010" stroke-width="1.6" stroke-linecap="round"/><line x1="1022.0" y1="583.0" x2="1019.9" y2="578.9" stroke="#b02010" stroke-width="1.6" stroke-linecap="round"/><line x1="1024.4" y1="583.0" x2="1023.7" y2="580.3" stroke="#c8b810" stroke-width="1.6" stroke-linecap="round"/><circle cx="1027.4" cy="579.7" r="2.0" fill="#d6d020"/><line x1="1029.2" y1="583.0" x2="1031.1" y2="579.6" stroke="#d6d020" stroke-width="1.6" stroke-linecap="round"/><circle cx="1033.0" cy="581.0" r="1.8" fill="#c8b810"/><line x1="1036.3" y1="583.0" x2="1035.6" y2="579.1" stroke="#b02010" stroke-width="1.6" stroke-linecap="round"/><circle cx="1038.4" cy="580.6" r="1.2" fill="#c8b810"/><circle cx="1040.6" cy="579.6" r="1.2" fill="#c8b810"/><circle cx="1044.2" cy="579.7" r="1.8" fill="#b01a0a"/><circle cx="1045.9" cy="580.3" r="1.4" fill="#d6d020"/><line x1="1048.2" y1="583.0" x2="1047.4" y2="578.9" stroke="#b02010" stroke-width="1.6" stroke-linecap="round"/><circle cx="1052.0" cy="580.1" r="1.8" fill="#c8b810"/><line x1="1055.0" y1="583.0" x2="1053.0" y2="578.8" stroke="#b02010" stroke-width="1.6" stroke-linecap="round"/><line x1="1058.0" y1="583.0" x2="1057.8" y2="577.0" stroke="#c8b810" stroke-width="1.6" stroke-linecap="round"/><circle cx="1060.8" cy="580.8" r="2.0" fill="#c8b810"/><circle cx="1062.7" cy="580.7" r="1.8" fill="#d6d020"/><circle cx="1064.2" cy="578.3" r="1.0" fill="#b01a0a"/><line x1="1067.0" y1="583.0" x2="1066.8" y2="579.7" stroke="#b01a0a" stroke-width="1.6" stroke-linecap="round"/><circle cx="1071.1" cy="580.0" r="1.6" fill="#c8b810"/><line x1="1073.0" y1="583.0" x2="1070.5" y2="580.8" stroke="#b01a0a" stroke-width="1.6" stroke-linecap="round"/><line x1="1076.9" y1="583.0" x2="1075.1" y2="578.3" stroke="#b02010" stroke-width="1.6" stroke-linecap="round"/><circle cx="1079.9" cy="578.8" r="1.5" fill="#d6d020"/><circle cx="1083.8" cy="578.5" r="1.6" fill="#d6d020"/><line x1="1086.5" y1="583.0" x2="1084.7" y2="579.0" stroke="#d6d020" stroke-width="1.6" stroke-linecap="round"/><circle cx="1090.8" cy="579.5" r="1.4" fill="#d6d020"/><circle cx="1093.6" cy="579.7" r="1.1" fill="#c8b810"/><line x1="1095.4" y1="583.0" x2="1097.9" y2="579.9" stroke="#b02010" stroke-width="1.6" stroke-linecap="round"/><line x1="1097.6" y1="583.0" x2="1095.3" y2="578.2" stroke="#d6d020" stroke-width="1.6" stroke-linecap="round"/><circle cx="1100.8" cy="580.2" r="1.0" fill="#d6d020"/><line x1="1102.7" y1="583.0" x2="1102.5" y2="578.0" stroke="#b01a0a" stroke-width="1.6" stroke-linecap="round"/><line x1="1104.3" y1="583.0" x2="1102.0" y2="577.7" stroke="#d6d020" stroke-width="1.6" stroke-linecap="round"/><line x1="1106.4" y1="583.0" x2="1108.5" y2="580.4" stroke="#b01a0a" stroke-width="1.6" stroke-linecap="round"/><line x1="1110.2" y1="583.0" x2="1110.0" y2="577.1" stroke="#b01a0a" stroke-width="1.6" stroke-linecap="round"/><circle cx="1112.6" cy="580.4" r="1.8" fill="#d6d020"/><circle cx="1116.6" cy="579.3" r="1.7" fill="#b01a0a"/><line x1="1119.5" y1="583.0" x2="1121.7" y2="578.5" stroke="#b01a0a" stroke-width="1.6" stroke-linecap="round"/><line x1="1121.0" y1="583.0" x2="1120.5" y2="579.7" stroke="#c8b810" stroke-width="1.6" stroke-linecap="round"/><circle cx="1124.1" cy="579.3" r="1.2" fill="#d6d020"/><circle cx="1128.2" cy="577.1" r="1.6" fill="#c8b810"/><line x1="1131.6" y1="583.0" x2="1133.3" y2="579.2" stroke="#c8b810" stroke-width="1.6" stroke-linecap="round"/><line x1="1134.1" y1="583.0" x2="1135.9" y2="580.3" stroke="#b01a0a" stroke-width="1.6" stroke-linecap="round"/><circle cx="1136.3" cy="578.3" r="1.2" fill="#d6d020"/><line x1="1140.3" y1="583.0" x2="1137.9" y2="580.6" stroke="#b02010" stroke-width="1.6" stroke-linecap="round"/><circle cx="1144.7" cy="579.7" r="1.7" fill="#b01a0a"/><circle cx="1147.3" cy="580.7" r="1.7" fill="#c8b810"/><circle cx="1149.6" cy="580.2" r="1.8" fill="#d6d020"/><line x1="1153.3" y1="583.0" x2="1153.3" y2="577.3" stroke="#c8b810" stroke-width="1.6" stroke-linecap="round"/><circle cx="1157.2" cy="580.4" r="2.0" fill="#d6d020"/><line x1="1161.5" y1="583.0" x2="1160.6" y2="578.5" stroke="#d6d020" stroke-width="1.6" stroke-linecap="round"/><circle cx="1164.8" cy="578.9" r="1.2" fill="#c8b810"/><line x1="1166.5" y1="583.0" x2="1165.9" y2="580.4" stroke="#d6d020" stroke-width="1.6" stroke-linecap="round"/><circle cx="1169.3" cy="579.4" r="1.4" fill="#c8b810"/><line x1="1171.4" y1="583.0" x2="1173.4" y2="580.8" stroke="#d6d020" stroke-width="1.6" stroke-linecap="round"/><line x1="1174.8" y1="583.0" x2="1174.3" y2="580.8" stroke="#b01a0a" stroke-width="1.6" stroke-linecap="round"/><circle cx="1177.8" cy="579.5" r="1.9" fill="#b01a0a"/><line x1="1180.8" y1="583.0" x2="1179.4" y2="578.2" stroke="#b01a0a" stroke-width="1.6" stroke-linecap="round"/><line x1="1182.4" y1="583.0" x2="1180.9" y2="580.8" stroke="#c8b810" stroke-width="1.6" stroke-linecap="round"/><line x1="1184.6" y1="583.0" x2="1186.8" y2="578.5" stroke="#b01a0a" stroke-width="1.6" stroke-linecap="round"/><circle cx="1186.4" cy="578.3" r="1.7" fill="#b01a0a"/><line x1="1188.0" y1="583.0" x2="1187.3" y2="579.1" stroke="#b02010" stroke-width="1.6" stroke-linecap="round"/><circle cx="1190.5" cy="578.6" r="1.8" fill="#b01a0a"/><line x1="1193.1" y1="583.0" x2="1193.1" y2="577.8" stroke="#b02010" stroke-width="1.6" stroke-linecap="round"/><circle cx="1197.5" cy="580.8" r="1.6" fill="#b01a0a"/><circle cx="1200.0" cy="577.6" r="1.5" fill="#b01a0a"/><circle cx="1203.4" cy="579.3" r="1.2" fill="#c8b810"/><line x1="1206.7" y1="583.0" x2="1208.3" y2="578.6" stroke="#b01a0a" stroke-width="1.6" stroke-linecap="round"/><line x1="1210.2" y1="583.0" x2="1212.6" y2="580.9" stroke="#b02010" stroke-width="1.6" stroke-linecap="round"/><line x1="1213.4" y1="583.0" x2="1211.5" y2="579.4" stroke="#d6d020" stroke-width="1.6" stroke-linecap="round"/><line x1="1216.7" y1="583.0" x2="1214.7" y2="580.0" stroke="#b01a0a" stroke-width="1.6" stroke-linecap="round"/><circle cx="1220.3" cy="579.0" r="1.7" fill="#b01a0a"/><line x1="1222.0" y1="583.0" x2="1220.2" y2="579.3" stroke="#c8b810" stroke-width="1.6" stroke-linecap="round"/><line x1="1223.8" y1="583.0" x2="1222.3" y2="580.8" stroke="#b02010" stroke-width="1.6" stroke-linecap="round"/><line x1="1227.8" y1="583.0" x2="1229.6" y2="578.6" stroke="#c8b810" stroke-width="1.6" stroke-linecap="round"/><circle cx="1230.6" cy="578.6" r="1.4" fill="#c8b810"/><line x1="1232.2" y1="583.0" x2="1232.6" y2="577.1" stroke="#d6d020" stroke-width="1.6" stroke-linecap="round"/><circle cx="1234.5" cy="579.1" r="1.4" fill="#c8b810"/><line x1="1238.3" y1="583.0" x2="1239.9" y2="578.0" stroke="#b02010" stroke-width="1.6" stroke-linecap="round"/><line x1="1241.6" y1="583.0" x2="1239.3" y2="579.3" stroke="#b01a0a" stroke-width="1.6" stroke-linecap="round"/><line x1="1245.9" y1="583.0" x2="1244.6" y2="578.7" stroke="#c8b810" stroke-width="1.6" stroke-linecap="round"/><line x1="1249.5" y1="583.0" x2="1251.5" y2="578.9" stroke="#b02010" stroke-width="1.6" stroke-linecap="round"/><line x1="1251.8" y1="583.0" x2="1253.0" y2="579.2" stroke="#d6d020" stroke-width="1.6" stroke-linecap="round"/><line x1="1254.5" y1="583.0" x2="1256.8" y2="578.0" stroke="#d6d020" stroke-width="1.6" stroke-linecap="round"/><circle cx="1256.4" cy="578.5" r="2.0" fill="#c8b810"/><line x1="1260.8" y1="583.0" x2="1261.8" y2="579.2" stroke="#c8b810" stroke-width="1.6" stroke-linecap="round"/><circle cx="1264.5" cy="580.3" r="1.9" fill="#b02010"/><line x1="1266.5" y1="583.0" x2="1268.0" y2="579.0" stroke="#c8b810" stroke-width="1.6" stroke-linecap="round"/><circle cx="1269.2" cy="578.7" r="1.6" fill="#b02010"/><line x1="1273.1" y1="583.0" x2="1272.6" y2="578.3" stroke="#b02010" stroke-width="1.6" stroke-linecap="round"/><circle cx="1274.7" cy="580.6" r="1.8" fill="#c8b810"/><circle cx="1277.2" cy="578.1" r="1.8" fill="#b02010"/><circle cx="1279.6" cy="578.9" r="1.6" fill="#b01a0a"/><circle cx="1281.8" cy="578.6" r="1.3" fill="#b01a0a"/><circle cx="1283.8" cy="581.0" r="1.7" fill="#b01a0a"/><line x1="1287.1" y1="583.0" x2="1287.5" y2="577.5" stroke="#b01a0a" stroke-width="1.6" stroke-linecap="round"/><circle cx="1289.3" cy="580.3" r="1.8" fill="#b02010"/><circle cx="1292.5" cy="579.1" r="1.5" fill="#c8b810"/><circle cx="1295.7" cy="579.6" r="1.8" fill="#d6d020"/><circle cx="1299.9" cy="580.2" r="1.4" fill="#d6d020"/><circle cx="1302.2" cy="579.0" r="1.4" fill="#d6d020"/><line x1="1305.1" y1="583.0" x2="1306.2" y2="578.4" stroke="#b02010" stroke-width="1.6" stroke-linecap="round"/><line x1="1308.4" y1="583.0" x2="1309.9" y2="577.6" stroke="#d6d020" stroke-width="1.6" stroke-linecap="round"/><circle cx="1310.3" cy="577.0" r="1.6" fill="#d6d020"/><circle cx="1313.2" cy="578.0" r="1.6" fill="#d6d020"/><circle cx="1314.8" cy="577.5" r="1.6" fill="#b02010"/><circle cx="1317.7" cy="580.7" r="1.1" fill="#b01a0a"/><line x1="1321.8" y1="583.0" x2="1320.6" y2="577.4" stroke="#c8b810" stroke-width="1.6" stroke-linecap="round"/><line x1="1325.9" y1="583.0" x2="1327.0" y2="577.4" stroke="#b01a0a" stroke-width="1.6" stroke-linecap="round"/><line x1="1328.3" y1="583.0" x2="1326.2" y2="578.8" stroke="#b01a0a" stroke-width="1.6" stroke-linecap="round"/><circle cx="1332.5" cy="578.7" r="1.2" fill="#d6d020"/><circle cx="1334.2" cy="579.2" r="2.0" fill="#b02010"/><line x1="1338.2" y1="583.0" x2="1338.9" y2="578.5" stroke="#b02010" stroke-width="1.6" stroke-linecap="round"/><circle cx="1342.3" cy="577.7" r="1.3" fill="#d6d020"/><line x1="1344.6" y1="583.0" x2="1346.7" y2="577.9" stroke="#b02010" stroke-width="1.6" stroke-linecap="round"/><line x1="1349.0" y1="583.0" x2="1350.2" y2="579.6" stroke="#d6d020" stroke-width="1.6" stroke-linecap="round"/><circle cx="1351.1" cy="578.0" r="1.1" fill="#b01a0a"/><line x1="1352.8" y1="583.0" x2="1355.2" y2="580.5" stroke="#b01a0a" stroke-width="1.6" stroke-linecap="round"/><circle cx="1356.3" cy="578.3" r="1.9" fill="#c8b810"/><circle cx="1358.3" cy="581.0" r="1.1" fill="#b01a0a"/><line x1="1362.5" y1="583.0" x2="1363.4" y2="577.2" stroke="#d6d020" stroke-width="1.6" stroke-linecap="round"/><line x1="1366.7" y1="583.0" x2="1367.1" y2="580.6" stroke="#d6d020" stroke-width="1.6" stroke-linecap="round"/><line x1="1370.6" y1="583.0" x2="1372.4" y2="577.8" stroke="#d6d020" stroke-width="1.6" stroke-linecap="round"/><line x1="1374.1" y1="583.0" x2="1375.7" y2="579.4" stroke="#d6d020" stroke-width="1.6" stroke-linecap="round"/><circle cx="1376.6" cy="578.4" r="1.2" fill="#c8b810"/><line x1="1380.9" y1="583.0" x2="1379.2" y2="580.5" stroke="#b01a0a" stroke-width="1.6" stroke-linecap="round"/><line x1="1384.7" y1="583.0" x2="1385.7" y2="578.5" stroke="#d6d020" stroke-width="1.6" stroke-linecap="round"/>
<circle cx="752.0" cy="897.0" r="2.0" fill="#c8b810"/><line x1="754.1" y1="893.6" x2="755.6" y2="896.4" stroke="#b01a0a" stroke-width="1.6" stroke-linecap="round"/><line x1="756.4" y1="893.6" x2="758.9" y2="895.4" stroke="#b01a0a" stroke-width="1.6" stroke-linecap="round"/><line x1="758.3" y1="893.6" x2="758.0" y2="897.4" stroke="#d6d020" stroke-width="1.6" stroke-linecap="round"/><circle cx="760.7" cy="896.3" r="1.6" fill="#b01a0a"/><line x1="764.2" y1="893.6" x2="765.0" y2="893.9" stroke="#b02010" stroke-width="1.6" stroke-linecap="round"/><line x1="765.8" y1="893.6" x2="763.7" y2="894.9" stroke="#d6d020" stroke-width="1.6" stroke-linecap="round"/><line x1="767.6" y1="893.6" x2="769.4" y2="896.9" stroke="#d6d020" stroke-width="1.6" stroke-linecap="round"/><circle cx="769.9" cy="897.3" r="1.5" fill="#b02010"/><circle cx="771.9" cy="894.9" r="1.6" fill="#d6d020"/><line x1="775.7" y1="893.6" x2="777.1" y2="895.6" stroke="#c8b810" stroke-width="1.6" stroke-linecap="round"/><circle cx="778.8" cy="893.9" r="1.3" fill="#d6d020"/><line x1="782.0" y1="893.6" x2="781.5" y2="895.2" stroke="#d6d020" stroke-width="1.6" stroke-linecap="round"/><circle cx="784.9" cy="894.6" r="1.6" fill="#b02010"/><circle cx="787.7" cy="897.2" r="1.9" fill="#d6d020"/><line x1="791.3" y1="893.6" x2="789.0" y2="895.4" stroke="#c8b810" stroke-width="1.6" stroke-linecap="round"/><line x1="795.7" y1="893.6" x2="796.1" y2="896.8" stroke="#c8b810" stroke-width="1.6" stroke-linecap="round"/><circle cx="798.5" cy="897.0" r="1.4" fill="#c8b810"/><line x1="800.4" y1="893.6" x2="798.0" y2="896.8" stroke="#b01a0a" stroke-width="1.6" stroke-linecap="round"/><circle cx="802.7" cy="896.4" r="1.6" fill="#b01a0a"/><line x1="806.9" y1="893.6" x2="806.3" y2="895.4" stroke="#b02010" stroke-width="1.6" stroke-linecap="round"/><circle cx="811.0" cy="895.2" r="1.5" fill="#b01a0a"/><line x1="812.7" y1="893.6" x2="814.7" y2="897.0" stroke="#d6d020" stroke-width="1.6" stroke-linecap="round"/><line x1="814.9" y1="893.6" x2="812.9" y2="894.1" stroke="#c8b810" stroke-width="1.6" stroke-linecap="round"/><line x1="816.6" y1="893.6" x2="817.6" y2="897.3" stroke="#d6d020" stroke-width="1.6" stroke-linecap="round"/><circle cx="818.3" cy="896.8" r="1.2" fill="#b02010"/><line x1="820.2" y1="893.6" x2="820.3" y2="896.0" stroke="#b01a0a" stroke-width="1.6" stroke-linecap="round"/><circle cx="822.6" cy="895.4" r="1.9" fill="#c8b810"/><circle cx="826.1" cy="895.0" r="1.2" fill="#d6d020"/><line x1="828.0" y1="893.6" x2="826.6" y2="894.7" stroke="#b02010" stroke-width="1.6" stroke-linecap="round"/><line x1="831.3" y1="893.6" x2="832.0" y2="894.0" stroke="#d6d020" stroke-width="1.6" stroke-linecap="round"/><circle cx="834.7" cy="897.3" r="1.2" fill="#d6d020"/><line x1="837.3" y1="893.6" x2="837.1" y2="895.9" stroke="#c8b810" stroke-width="1.6" stroke-linecap="round"/><circle cx="841.4" cy="897.3" r="1.2" fill="#b01a0a"/><circle cx="845.4" cy="894.5" r="1.7" fill="#b01a0a"/><circle cx="849.1" cy="897.2" r="1.3" fill="#d6d020"/><circle cx="852.0" cy="897.4" r="1.6" fill="#b02010"/><circle cx="855.3" cy="895.1" r="1.8" fill="#d6d020"/><circle cx="859.6" cy="894.9" r="1.4" fill="#c8b810"/><circle cx="863.9" cy="897.4" r="1.4" fill="#b02010"/><line x1="865.5" y1="893.6" x2="867.3" y2="895.7" stroke="#d6d020" stroke-width="1.6" stroke-linecap="round"/><circle cx="867.9" cy="895.9" r="1.2" fill="#b01a0a"/><line x1="871.5" y1="893.6" x2="872.2" y2="895.0" stroke="#d6d020" stroke-width="1.6" stroke-linecap="round"/><line x1="874.6" y1="893.6" x2="875.6" y2="895.7" stroke="#d6d020" stroke-width="1.6" stroke-linecap="round"/><line x1="876.5" y1="893.6" x2="875.5" y2="894.8" stroke="#c8b810" stroke-width="1.6" stroke-linecap="round"/><line x1="879.8" y1="893.6" x2="877.7" y2="896.0" stroke="#c8b810" stroke-width="1.6" stroke-linecap="round"/><line x1="882.7" y1="893.6" x2="885.0" y2="894.6" stroke="#b01a0a" stroke-width="1.6" stroke-linecap="round"/><line x1="886.5" y1="893.6" x2="888.2" y2="897.2" stroke="#d6d020" stroke-width="1.6" stroke-linecap="round"/><line x1="889.1" y1="893.6" x2="888.3" y2="896.0" stroke="#b01a0a" stroke-width="1.6" stroke-linecap="round"/><circle cx="892.8" cy="897.4" r="1.2" fill="#d6d020"/><line x1="895.5" y1="893.6" x2="895.8" y2="897.5" stroke="#b02010" stroke-width="1.6" stroke-linecap="round"/><circle cx="898.4" cy="894.8" r="1.7" fill="#b02010"/><circle cx="901.9" cy="897.5" r="1.8" fill="#d6d020"/><circle cx="906.0" cy="897.1" r="1.1" fill="#b02010"/><line x1="909.1" y1="893.6" x2="910.5" y2="896.5" stroke="#d6d020" stroke-width="1.6" stroke-linecap="round"/><circle cx="913.3" cy="894.3" r="1.9" fill="#d6d020"/><circle cx="917.1" cy="894.1" r="1.7" fill="#b01a0a"/><circle cx="919.9" cy="896.2" r="1.4" fill="#d6d020"/><line x1="923.9" y1="893.6" x2="922.4" y2="897.4" stroke="#b02010" stroke-width="1.6" stroke-linecap="round"/><line x1="926.1" y1="893.6" x2="927.4" y2="895.3" stroke="#b02010" stroke-width="1.6" stroke-linecap="round"/><line x1="929.4" y1="893.6" x2="927.6" y2="894.7" stroke="#b01a0a" stroke-width="1.6" stroke-linecap="round"/><circle cx="933.1" cy="894.2" r="1.9" fill="#c8b810"/><line x1="935.2" y1="893.6" x2="937.5" y2="896.3" stroke="#b02010" stroke-width="1.6" stroke-linecap="round"/><line x1="937.3" y1="893.6" x2="935.5" y2="896.7" stroke="#b01a0a" stroke-width="1.6" stroke-linecap="round"/><circle cx="939.8" cy="897.1" r="1.4" fill="#b01a0a"/><circle cx="942.0" cy="896.1" r="1.1" fill="#d6d020"/><circle cx="943.6" cy="897.5" r="1.5" fill="#b02010"/><line x1="947.7" y1="893.6" x2="948.2" y2="895.1" stroke="#b02010" stroke-width="1.6" stroke-linecap="round"/><line x1="950.4" y1="893.6" x2="952.0" y2="897.3" stroke="#d6d020" stroke-width="1.6" stroke-linecap="round"/><line x1="952.2" y1="893.6" x2="950.4" y2="893.6" stroke="#c8b810" stroke-width="1.6" stroke-linecap="round"/><circle cx="955.4" cy="896.1" r="1.3" fill="#c8b810"/><circle cx="958.9" cy="897.2" r="1.9" fill="#b02010"/><circle cx="962.1" cy="894.1" r="1.5" fill="#b02010"/><line x1="965.9" y1="893.6" x2="964.1" y2="896.2" stroke="#b02010" stroke-width="1.6" stroke-linecap="round"/><line x1="970.3" y1="893.6" x2="971.5" y2="897.5" stroke="#d6d020" stroke-width="1.6" stroke-linecap="round"/><line x1="974.8" y1="893.6" x2="972.8" y2="895.2" stroke="#c8b810" stroke-width="1.6" stroke-linecap="round"/><circle cx="977.1" cy="894.8" r="1.2" fill="#b01a0a"/><circle cx="978.9" cy="894.1" r="2.0" fill="#b02010"/><line x1="982.3" y1="893.6" x2="980.9" y2="896.7" stroke="#d6d020" stroke-width="1.6" stroke-linecap="round"/><line x1="984.3" y1="893.6" x2="982.3" y2="896.2" stroke="#b02010" stroke-width="1.6" stroke-linecap="round"/><circle cx="988.5" cy="896.3" r="1.4" fill="#d6d020"/><circle cx="991.5" cy="894.6" r="1.2" fill="#c8b810"/><circle cx="994.5" cy="896.3" r="1.9" fill="#b02010"/><circle cx="998.6" cy="897.2" r="2.0" fill="#c8b810"/><circle cx="1000.5" cy="897.2" r="1.2" fill="#d6d020"/><circle cx="1002.8" cy="895.0" r="1.3" fill="#b02010"/><circle cx="1004.6" cy="894.9" r="1.5" fill="#d6d020"/><circle cx="1007.5" cy="897.1" r="1.6" fill="#b02010"/><circle cx="1009.4" cy="893.8" r="1.8" fill="#b02010"/><line x1="1012.0" y1="893.6" x2="1010.8" y2="894.2" stroke="#b01a0a" stroke-width="1.6" stroke-linecap="round"/><line x1="1016.2" y1="893.6" x2="1014.4" y2="896.3" stroke="#b01a0a" stroke-width="1.6" stroke-linecap="round"/><line x1="1017.8" y1="893.6" x2="1019.8" y2="893.9" stroke="#d6d020" stroke-width="1.6" stroke-linecap="round"/><line x1="1020.0" y1="893.6" x2="1019.6" y2="897.0" stroke="#c8b810" stroke-width="1.6" stroke-linecap="round"/><circle cx="1022.6" cy="894.1" r="1.4" fill="#b01a0a"/><circle cx="1027.1" cy="895.5" r="1.6" fill="#c8b810"/><circle cx="1031.4" cy="894.7" r="1.3" fill="#b02010"/><line x1="1035.2" y1="893.6" x2="1034.7" y2="897.4" stroke="#c8b810" stroke-width="1.6" stroke-linecap="round"/><circle cx="1037.0" cy="893.7" r="1.7" fill="#b01a0a"/><circle cx="1040.6" cy="896.5" r="1.9" fill="#d6d020"/><line x1="1042.4" y1="893.6" x2="1040.0" y2="893.7" stroke="#d6d020" stroke-width="1.6" stroke-linecap="round"/><line x1="1046.2" y1="893.6" x2="1044.7" y2="896.2" stroke="#b02010" stroke-width="1.6" stroke-linecap="round"/><circle cx="1048.1" cy="895.9" r="1.4" fill="#b01a0a"/><line x1="1051.8" y1="893.6" x2="1054.3" y2="895.1" stroke="#b01a0a" stroke-width="1.6" stroke-linecap="round"/><circle cx="1053.7" cy="895.3" r="1.3" fill="#d6d020"/><circle cx="1057.5" cy="896.5" r="1.9" fill="#b02010"/><circle cx="1060.3" cy="894.4" r="1.8" fill="#d6d020"/><circle cx="1061.9" cy="896.3" r="1.5" fill="#c8b810"/><line x1="1065.6" y1="893.6" x2="1067.8" y2="897.5" stroke="#c8b810" stroke-width="1.6" stroke-linecap="round"/><line x1="1067.5" y1="893.6" x2="1067.9" y2="895.5" stroke="#b02010" stroke-width="1.6" stroke-linecap="round"/><line x1="1069.9" y1="893.6" x2="1069.9" y2="895.2" stroke="#d6d020" stroke-width="1.6" stroke-linecap="round"/><line x1="1073.3" y1="893.6" x2="1074.6" y2="894.9" stroke="#b02010" stroke-width="1.6" stroke-linecap="round"/><line x1="1076.1" y1="893.6" x2="1076.6" y2="895.4" stroke="#d6d020" stroke-width="1.6" stroke-linecap="round"/><circle cx="1077.9" cy="894.0" r="1.6" fill="#b02010"/><circle cx="1080.7" cy="895.1" r="1.5" fill="#d6d020"/><line x1="1084.9" y1="893.6" x2="1087.2" y2="893.9" stroke="#b02010" stroke-width="1.6" stroke-linecap="round"/><line x1="1087.9" y1="893.6" x2="1087.6" y2="893.8" stroke="#d6d020" stroke-width="1.6" stroke-linecap="round"/><circle cx="1089.6" cy="894.4" r="1.4" fill="#b01a0a"/><circle cx="1092.9" cy="894.2" r="1.3" fill="#d6d020"/><line x1="1096.3" y1="893.6" x2="1096.2" y2="895.7" stroke="#b02010" stroke-width="1.6" stroke-linecap="round"/><line x1="1098.3" y1="893.6" x2="1098.3" y2="896.9" stroke="#b02010" stroke-width="1.6" stroke-linecap="round"/><circle cx="1101.4" cy="896.3" r="1.4" fill="#b02010"/><circle cx="1105.7" cy="897.0" r="1.9" fill="#b02010"/><circle cx="1109.8" cy="894.6" r="1.6" fill="#d6d020"/><circle cx="1113.0" cy="895.3" r="1.7" fill="#b01a0a"/><circle cx="1117.0" cy="894.1" r="1.6" fill="#c8b810"/><circle cx="1121.3" cy="894.5" r="1.9" fill="#b02010"/><line x1="1124.9" y1="893.6" x2="1122.5" y2="897.5" stroke="#b02010" stroke-width="1.6" stroke-linecap="round"/><line x1="1128.9" y1="893.6" x2="1128.6" y2="895.0" stroke="#c8b810" stroke-width="1.6" stroke-linecap="round"/><line x1="1131.4" y1="893.6" x2="1131.9" y2="894.7" stroke="#c8b810" stroke-width="1.6" stroke-linecap="round"/><circle cx="1133.1" cy="896.3" r="1.3" fill="#c8b810"/><line x1="1137.5" y1="893.6" x2="1139.3" y2="897.5" stroke="#b02010" stroke-width="1.6" stroke-linecap="round"/><line x1="1140.0" y1="893.6" x2="1138.2" y2="894.8" stroke="#b01a0a" stroke-width="1.6" stroke-linecap="round"/><circle cx="1142.0" cy="896.1" r="1.8" fill="#c8b810"/><circle cx="1146.1" cy="895.4" r="1.8" fill="#b02010"/><line x1="1149.4" y1="893.6" x2="1150.6" y2="895.4" stroke="#b01a0a" stroke-width="1.6" stroke-linecap="round"/><circle cx="1153.2" cy="894.9" r="1.0" fill="#c8b810"/><circle cx="1155.1" cy="896.7" r="1.2" fill="#c8b810"/><line x1="1158.1" y1="893.6" x2="1159.8" y2="896.3" stroke="#d6d020" stroke-width="1.6" stroke-linecap="round"/><line x1="1162.1" y1="893.6" x2="1163.1" y2="895.0" stroke="#c8b810" stroke-width="1.6" stroke-linecap="round"/><circle cx="1165.9" cy="897.6" r="1.0" fill="#d6d020"/><line x1="1168.7" y1="893.6" x2="1168.9" y2="896.2" stroke="#b02010" stroke-width="1.6" stroke-linecap="round"/><circle cx="1170.6" cy="897.2" r="1.6" fill="#c8b810"/><line x1="1172.2" y1="893.6" x2="1171.0" y2="896.1" stroke="#b02010" stroke-width="1.6" stroke-linecap="round"/><line x1="1175.6" y1="893.6" x2="1175.9" y2="894.7" stroke="#c8b810" stroke-width="1.6" stroke-linecap="round"/><circle cx="1178.0" cy="894.3" r="1.1" fill="#c8b810"/><circle cx="1180.1" cy="896.8" r="1.6" fill="#b01a0a"/><circle cx="1183.1" cy="895.6" r="1.7" fill="#c8b810"/><circle cx="1186.1" cy="896.0" r="1.4" fill="#d6d020"/><line x1="1189.7" y1="893.6" x2="1188.0" y2="895.1" stroke="#c8b810" stroke-width="1.6" stroke-linecap="round"/><line x1="1193.6" y1="893.6" x2="1193.9" y2="896.7" stroke="#d6d020" stroke-width="1.6" stroke-linecap="round"/><circle cx="1198.1" cy="897.2" r="1.4" fill="#b02010"/><circle cx="1202.2" cy="897.4" r="1.7" fill="#b01a0a"/><line x1="1206.4" y1="893.6" x2="1208.0" y2="895.0" stroke="#b01a0a" stroke-width="1.6" stroke-linecap="round"/><circle cx="1208.0" cy="894.7" r="1.6" fill="#c8b810"/><circle cx="1210.9" cy="897.0" r="1.2" fill="#d6d020"/><circle cx="1214.6" cy="896.5" r="1.9" fill="#c8b810"/><circle cx="1216.8" cy="894.3" r="1.3" fill="#c8b810"/><circle cx="1219.4" cy="894.3" r="1.7" fill="#b01a0a"/><line x1="1221.6" y1="893.6" x2="1222.9" y2="896.0" stroke="#b02010" stroke-width="1.6" stroke-linecap="round"/><circle cx="1223.6" cy="894.6" r="1.6" fill="#b02010"/><line x1="1225.6" y1="893.6" x2="1224.9" y2="896.7" stroke="#c8b810" stroke-width="1.6" stroke-linecap="round"/><line x1="1229.6" y1="893.6" x2="1231.4" y2="897.3" stroke="#d6d020" stroke-width="1.6" stroke-linecap="round"/><circle cx="1232.3" cy="894.7" r="1.3" fill="#b01a0a"/><circle cx="1236.4" cy="894.7" r="1.5" fill="#c8b810"/><line x1="1239.6" y1="893.6" x2="1239.1" y2="895.6" stroke="#b02010" stroke-width="1.6" stroke-linecap="round"/><line x1="1241.2" y1="893.6" x2="1240.7" y2="896.6" stroke="#b02010" stroke-width="1.6" stroke-linecap="round"/><circle cx="1243.9" cy="896.9" r="1.3" fill="#b01a0a"/><circle cx="1245.7" cy="893.7" r="1.8" fill="#c8b810"/><line x1="1248.3" y1="893.6" x2="1250.6" y2="894.3" stroke="#b02010" stroke-width="1.6" stroke-linecap="round"/><circle cx="1252.2" cy="895.3" r="1.6" fill="#d6d020"/><line x1="1254.7" y1="893.6" x2="1255.4" y2="896.2" stroke="#d6d020" stroke-width="1.6" stroke-linecap="round"/><circle cx="1259.2" cy="896.4" r="1.3" fill="#b01a0a"/><line x1="1263.6" y1="893.6" x2="1266.1" y2="894.4" stroke="#b01a0a" stroke-width="1.6" stroke-linecap="round"/><line x1="1265.2" y1="893.6" x2="1264.4" y2="895.7" stroke="#b01a0a" stroke-width="1.6" stroke-linecap="round"/><line x1="1267.7" y1="893.6" x2="1266.7" y2="896.7" stroke="#b02010" stroke-width="1.6" stroke-linecap="round"/><circle cx="1271.5" cy="897.4" r="1.2" fill="#b02010"/><circle cx="1273.1" cy="897.0" r="1.9" fill="#d6d020"/><circle cx="1275.8" cy="896.2" r="2.0" fill="#d6d020"/><circle cx="1280.0" cy="897.1" r="1.9" fill="#b02010"/><line x1="1282.2" y1="893.6" x2="1280.6" y2="896.8" stroke="#b01a0a" stroke-width="1.6" stroke-linecap="round"/><circle cx="1285.6" cy="893.8" r="1.6" fill="#b02010"/><circle cx="1289.4" cy="896.4" r="1.9" fill="#d6d020"/><circle cx="1291.6" cy="894.3" r="1.8" fill="#c8b810"/><line x1="1294.3" y1="893.6" x2="1293.3" y2="896.5" stroke="#b02010" stroke-width="1.6" stroke-linecap="round"/><circle cx="1298.6" cy="894.6" r="1.4" fill="#b01a0a"/><line x1="1300.9" y1="893.6" x2="1298.6" y2="894.8" stroke="#b02010" stroke-width="1.6" stroke-linecap="round"/><line x1="1303.2" y1="893.6" x2="1301.8" y2="895.5" stroke="#d6d020" stroke-width="1.6" stroke-linecap="round"/><circle cx="1306.8" cy="895.4" r="1.1" fill="#d6d020"/><circle cx="1310.6" cy="897.1" r="1.5" fill="#b02010"/><line x1="1313.2" y1="893.6" x2="1314.2" y2="895.2" stroke="#d6d020" stroke-width="1.6" stroke-linecap="round"/><line x1="1315.5" y1="893.6" x2="1313.8" y2="895.0" stroke="#b01a0a" stroke-width="1.6" stroke-linecap="round"/><line x1="1319.6" y1="893.6" x2="1318.3" y2="895.7" stroke="#b02010" stroke-width="1.6" stroke-linecap="round"/><circle cx="1322.4" cy="894.0" r="2.0" fill="#b01a0a"/><line x1="1325.4" y1="893.6" x2="1327.8" y2="895.4" stroke="#c8b810" stroke-width="1.6" stroke-linecap="round"/><circle cx="1327.2" cy="895.9" r="1.7" fill="#b02010"/><line x1="1330.3" y1="893.6" x2="1330.0" y2="897.1" stroke="#b01a0a" stroke-width="1.6" stroke-linecap="round"/><line x1="1334.3" y1="893.6" x2="1336.6" y2="894.1" stroke="#d6d020" stroke-width="1.6" stroke-linecap="round"/><line x1="1337.8" y1="893.6" x2="1338.1" y2="894.7" stroke="#b02010" stroke-width="1.6" stroke-linecap="round"/><line x1="1342.2" y1="893.6" x2="1340.4" y2="897.1" stroke="#b01a0a" stroke-width="1.6" stroke-linecap="round"/><line x1="1343.8" y1="893.6" x2="1346.2" y2="895.3" stroke="#c8b810" stroke-width="1.6" stroke-linecap="round"/><line x1="1345.3" y1="893.6" x2="1346.2" y2="893.7" stroke="#c8b810" stroke-width="1.6" stroke-linecap="round"/><line x1="1349.8" y1="893.6" x2="1347.8" y2="897.0" stroke="#c8b810" stroke-width="1.6" stroke-linecap="round"/><line x1="1353.1" y1="893.6" x2="1354.7" y2="897.0" stroke="#b02010" stroke-width="1.6" stroke-linecap="round"/><line x1="1357.1" y1="893.6" x2="1356.9" y2="895.1" stroke="#d6d020" stroke-width="1.6" stroke-linecap="round"/><line x1="1359.8" y1="893.6" x2="1360.3" y2="894.3" stroke="#c8b810" stroke-width="1.6" stroke-linecap="round"/><circle cx="1362.3" cy="895.7" r="1.0" fill="#b01a0a"/><line x1="1366.6" y1="893.6" x2="1365.9" y2="894.2" stroke="#c8b810" stroke-width="1.6" stroke-linecap="round"/><line x1="1369.6" y1="893.6" x2="1371.2" y2="895.1" stroke="#b02010" stroke-width="1.6" stroke-linecap="round"/><line x1="1372.0" y1="893.6" x2="1373.9" y2="894.1" stroke="#b02010" stroke-width="1.6" stroke-linecap="round"/><circle cx="1373.8" cy="895.3" r="1.3" fill="#b02010"/><line x1="1375.9" y1="893.6" x2="1376.0" y2="896.0" stroke="#d6d020" stroke-width="1.6" stroke-linecap="round"/><line x1="1377.9" y1="893.6" x2="1379.5" y2="895.2" stroke="#d6d020" stroke-width="1.6" stroke-linecap="round"/><line x1="1379.6" y1="893.6" x2="1380.5" y2="894.1" stroke="#c8b810" stroke-width="1.6" stroke-linecap="round"/><circle cx="1382.5" cy="894.3" r="1.2" fill="#b02010"/>
<text class="lab" transform="translate(-2.18,72.00) scale(0.8,1)" font-size="73">a</text>
<text class="lab" x="728.53" y="71.50" font-size="74">b</text>
<text class="lab" transform="translate(-2.43,570.00) scale(0.88,1)" font-size="73">c</text>
<text class="lab" x="728.69" y="569.80" font-size="74">d</text>
<text class="num" x="41.48" y="132.16" font-size="31">60</text>
<text class="num" x="41.48" y="233.66" font-size="31">40</text>
<text class="num" x="41.48" y="333.66" font-size="31">20</text>
<text class="num" x="56.98" y="434.66" font-size="31">0</text>
<text class="num" x="765.33" y="159.29" font-size="31">0.8</text>
<text class="num" x="765.07" y="230.59" font-size="31">0.6</text>
<text class="num" x="764.63" y="302.09" font-size="31">0.4</text>
<text class="num" x="765.86" y="373.39" font-size="31">0.2</text>
<text class="num" x="609.80" y="99.67" font-size="28">60</text>
<text class="num" x="609.37" y="162.17" font-size="28">50</text>
<text class="num" x="610.45" y="224.67" font-size="28">40</text>
<text class="num" x="609.66" y="287.17" font-size="28">30</text>
<text class="num" x="609.77" y="349.67" font-size="28">20</text>
<text class="num" x="608.54" y="412.17" font-size="28">10</text>
<text class="num" x="609.93" y="474.67" font-size="28">0</text>
<text class="num" x="1341.23" y="123.81" font-size="28">0.8</text>
<text class="num" x="1341.23" y="215.91" font-size="28">0.6</text>
<text class="num" x="1341.23" y="307.91" font-size="28">0.4</text>
<text class="num" x="1341.23" y="399.41" font-size="28">0.2</text>
<text class="num" x="71.87" y="471.60" font-size="31">600</text>
<text class="num" x="146.78" y="487.70" font-size="31">1200</text>
<text class="num" x="237.08" y="504.00" font-size="31">1800</text>
<text class="num" x="335.02" y="503.80" font-size="31">0</text>
<text class="num" x="424.42" y="487.00" font-size="31">0.2</text>
<text class="num" x="513.82" y="471.40" font-size="31">0.4</text>
<text class="num" x="802.37" y="471.40" font-size="31">600</text>
<text class="num" x="877.68" y="487.90" font-size="31">1200</text>
<text class="num" x="967.08" y="504.00" font-size="31">1800</text>
<text class="num" x="1067.12" y="504.00" font-size="31">0</text>
<text class="num" x="1154.72" y="487.70" font-size="31">0.2</text>
<text class="num" x="1245.82" y="469.60" font-size="31">0.4</text>
<text class="it" x="90.18" y="519.60" font-size="37">T</text>
<text class="it" x="115.26" y="520.60" font-size="38">(</text>
<text class="it" x="130.93" y="519.60" font-size="37">K</text>
<text class="it" x="157.20" y="520.60" font-size="38">)</text>
<text class="it" x="821.38" y="519.60" font-size="37">T</text>
<text class="it" x="846.46" y="520.60" font-size="38">(</text>
<text class="it" x="862.13" y="519.60" font-size="37">K</text>
<text class="it" x="888.40" y="520.60" font-size="38">)</text>
<text class="it" x="430.37" y="514.60" font-size="38">α</text>
<text class="it" x="1162.07" y="513.60" font-size="38">α</text>
<text class="it" x="523.96" y="43.40" font-size="37">G</text>
<text class="it" x="550.06" y="44.50" font-size="38">(</text>
<text class="it" x="563.86" y="43.40" font-size="37">G</text>
<text class="it" x="587.10" y="43.40" font-size="37">P</text>
<text class="it" x="608.90" y="43.40" font-size="37">a</text>
<text class="it" x="632.10" y="44.50" font-size="38">)</text>
<text transform="translate(1231.66,34) scale(1.45,1)" font-size="30" font-family="DejaVu Sans, sans-serif" fill="#000">ℰ</text>
<text class="it" x="1258.46" y="38.00" font-size="38">(</text>
<text class="it" x="1267.84" y="34.00" font-size="37">J</text>
<text class="it" x="1289.00" y="34.00" font-size="37">/</text>
<text class="it" x="1304.76" y="34.00" font-size="37">m</text>
<text class="it" x="1336.53" y="20.30" font-size="22">3</text>
<text class="it" x="1354.20" y="38.00" font-size="38">)</text>
<text class="txt" x="351.02" y="91.40" font-size="38.5">SiC</text>
<text class="txt" x="407.32" y="98.90" font-size="22">f</text>
<text class="txt" x="414.00" y="91.40" font-size="38.5">/</text>
<text class="txt" transform="translate(423.55,91.40) scale(0.948,1)" font-size="38.5">PyC</text>
<text class="txt" x="485.50" y="91.40" font-size="38.5">/</text>
<text class="txt" transform="translate(492.41,91.40) scale(1.006,1)" font-size="38.5">SiC</text>
<text class="txt" x="244.86" y="432.70" font-size="38">SiC</text>
<text class="txt" x="300.02" y="440.20" font-size="22">f</text>
<text class="txt" x="306.40" y="432.70" font-size="38">/</text>
<text class="txt" x="316.16" y="432.70" font-size="38">SiC</text>
<text class="txt" x="1075.12" y="94.60" font-size="38.5">SiC</text>
<text class="txt" x="1130.92" y="102.10" font-size="22">f</text>
<text class="txt" x="1137.50" y="94.60" font-size="38.5">/</text>
<text class="txt" transform="translate(1148.27,94.60) scale(0.933,1)" font-size="38.5">PyC</text>
<text class="txt" x="1208.60" y="94.60" font-size="38.5">/</text>
<text class="txt" transform="translate(1216.97,94.60) scale(1.023,1)" font-size="38.5">SiC</text>
<text class="txt" x="966.66" y="403.40" font-size="38">SiC</text>
<text class="txt" x="1021.72" y="410.90" font-size="22">f</text>
<text class="txt" x="1027.00" y="403.40" font-size="38">/</text>
<text class="txt" x="1038.26" y="403.40" font-size="38">SiC</text>
<text class="txt" x="78.96" y="958.00" font-size="41">SiC</text>
<text class="txt" x="141.06" y="966.00" font-size="24">f</text>
<text class="txt" x="146.90" y="958.00" font-size="41">/</text>
<text class="txt" x="159.86" y="958.00" font-size="41">SiC,</text>
<text class="it" transform="translate(240.86,958.00) scale(0.953,1)" font-size="40">α</text>
<text class="txt" transform="translate(276.40,961.60) scale(1.135,1)" font-size="46" stroke="#000" stroke-width="0.45">=</text>
<text class="txt" transform="translate(317.79,958.00) scale(1.054,1)" font-size="40">0.1,</text>
<text class="it" transform="translate(388.09,958.00) scale(0.996,1)" font-size="40">T</text>
<text class="txt" transform="translate(425.17,961.60) scale(1.149,1)" font-size="46" stroke="#000" stroke-width="0.45">=</text>
<text class="txt" transform="translate(466.21,958.00) scale(1.106,1)" font-size="40">1500</text>
<text class="it" transform="translate(557.62,958.00) scale(0.887,1)" font-size="40">K</text>
<text class="txt" x="770.96" y="958.00" font-size="41">SiC</text>
<text class="txt" x="831.86" y="966.00" font-size="24">f</text>
<text class="txt" x="838.00" y="958.00" font-size="41">/</text>
<text class="txt" x="852.52" y="958.00" font-size="41">PyC</text>
<text class="txt" x="916.80" y="958.00" font-size="41">/</text>
<text class="txt" x="926.76" y="958.00" font-size="41">SiC,</text>
<text class="it" transform="translate(1011.37,958.00) scale(1.031,1)" font-size="40">α</text>
<text class="txt" transform="translate(1047.52,961.60) scale(1.126,1)" font-size="46" stroke="#000" stroke-width="0.45">=</text>
<text class="txt" transform="translate(1089.51,958.00) scale(1.044,1)" font-size="40">0.1,</text>
<text class="it" transform="translate(1159.19,958.00) scale(0.996,1)" font-size="40">T</text>
<text class="txt" transform="translate(1196.27,961.60) scale(1.149,1)" font-size="46" stroke="#000" stroke-width="0.45">=</text>
<text class="txt" transform="translate(1237.31,958.00) scale(1.106,1)" font-size="40">1500</text>
<text class="it" transform="translate(1328.72,958.00) scale(0.887,1)" font-size="40">K</text>
</svg>
</body></html>
